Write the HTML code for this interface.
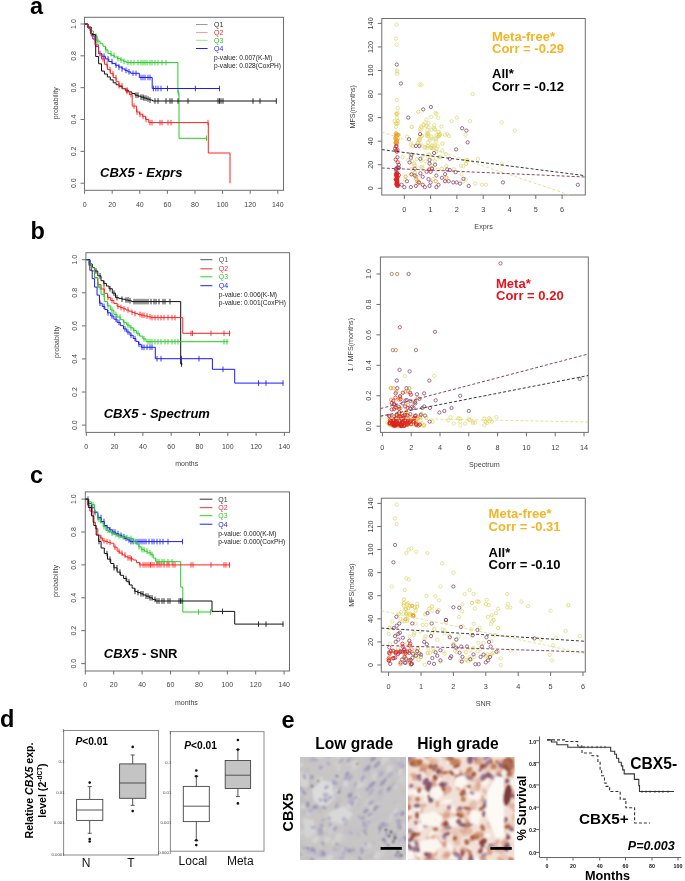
<!DOCTYPE html><html><head><meta charset="utf-8"><style>html,body{margin:0;padding:0;background:#fff;}body{width:685px;height:881px;overflow:hidden;font-family:"Liberation Sans",sans-serif;}svg{display:block;will-change:transform;}</style></head><body><svg width="685" height="881" viewBox="0 0 685 881" font-family='"Liberation Sans", sans-serif'>
<rect width="685" height="881" fill="#fff"/>
<g>
<text x="30" y="13.6" font-size="23.5" text-anchor="start" font-weight="bold" font-style="normal" fill="#000">a</text>
<text x="30.6" y="238.7" font-size="23.5" text-anchor="start" font-weight="bold" font-style="normal" fill="#000">b</text>
<text x="30" y="483.4" font-size="23.5" text-anchor="start" font-weight="bold" font-style="normal" fill="#000">c</text>
<text x="0" y="726.7" font-size="23.5" text-anchor="start" font-weight="bold" font-style="normal" fill="#000">d</text>
<text x="281.5" y="728.2" font-size="23.5" text-anchor="start" font-weight="bold" font-style="normal" fill="#000">e</text>
<rect x="84.5" y="17.3" width="199" height="173" stroke="#6e6e6e" fill="none" stroke-width="1"/>
<line x1="84.6" y1="190.3" x2="84.6" y2="193.8" stroke="#6e6e6e" stroke-width="1"/>
<text x="84.6" y="206.8" font-size="7" text-anchor="middle" font-weight="normal" font-style="normal" fill="#444">0</text>
<line x1="112.2" y1="190.3" x2="112.2" y2="193.8" stroke="#6e6e6e" stroke-width="1"/>
<text x="112.2" y="206.8" font-size="7" text-anchor="middle" font-weight="normal" font-style="normal" fill="#444">20</text>
<line x1="139.8" y1="190.3" x2="139.8" y2="193.8" stroke="#6e6e6e" stroke-width="1"/>
<text x="139.8" y="206.8" font-size="7" text-anchor="middle" font-weight="normal" font-style="normal" fill="#444">40</text>
<line x1="167.4" y1="190.3" x2="167.4" y2="193.8" stroke="#6e6e6e" stroke-width="1"/>
<text x="167.4" y="206.8" font-size="7" text-anchor="middle" font-weight="normal" font-style="normal" fill="#444">60</text>
<line x1="195" y1="190.3" x2="195" y2="193.8" stroke="#6e6e6e" stroke-width="1"/>
<text x="195" y="206.8" font-size="7" text-anchor="middle" font-weight="normal" font-style="normal" fill="#444">80</text>
<line x1="222.6" y1="190.3" x2="222.6" y2="193.8" stroke="#6e6e6e" stroke-width="1"/>
<text x="222.6" y="206.8" font-size="7" text-anchor="middle" font-weight="normal" font-style="normal" fill="#444">100</text>
<line x1="250.2" y1="190.3" x2="250.2" y2="193.8" stroke="#6e6e6e" stroke-width="1"/>
<text x="250.2" y="206.8" font-size="7" text-anchor="middle" font-weight="normal" font-style="normal" fill="#444">120</text>
<line x1="277.8" y1="190.3" x2="277.8" y2="193.8" stroke="#6e6e6e" stroke-width="1"/>
<text x="277.8" y="206.8" font-size="7" text-anchor="middle" font-weight="normal" font-style="normal" fill="#444">140</text>
<line x1="80.5" y1="183.2" x2="84.5" y2="183.2" stroke="#6e6e6e" stroke-width="1"/>
<text x="76" y="183.2" font-size="7" text-anchor="middle" font-weight="normal" font-style="normal" fill="#444" transform="rotate(-90 76 183.2)">0.0</text>
<line x1="80.5" y1="151.36" x2="84.5" y2="151.36" stroke="#6e6e6e" stroke-width="1"/>
<text x="76" y="151.36" font-size="7" text-anchor="middle" font-weight="normal" font-style="normal" fill="#444" transform="rotate(-90 76 151.36)">0.2</text>
<line x1="80.5" y1="119.52" x2="84.5" y2="119.52" stroke="#6e6e6e" stroke-width="1"/>
<text x="76" y="119.52" font-size="7" text-anchor="middle" font-weight="normal" font-style="normal" fill="#444" transform="rotate(-90 76 119.52)">0.4</text>
<line x1="80.5" y1="87.68" x2="84.5" y2="87.68" stroke="#6e6e6e" stroke-width="1"/>
<text x="76" y="87.68" font-size="7" text-anchor="middle" font-weight="normal" font-style="normal" fill="#444" transform="rotate(-90 76 87.68)">0.6</text>
<line x1="80.5" y1="55.84" x2="84.5" y2="55.84" stroke="#6e6e6e" stroke-width="1"/>
<text x="76" y="55.84" font-size="7" text-anchor="middle" font-weight="normal" font-style="normal" fill="#444" transform="rotate(-90 76 55.84)">0.8</text>
<line x1="80.5" y1="24" x2="84.5" y2="24" stroke="#6e6e6e" stroke-width="1"/>
<text x="76" y="24" font-size="7" text-anchor="middle" font-weight="normal" font-style="normal" fill="#444" transform="rotate(-90 76 24)">1.0</text>
<text x="58.4" y="103.3" font-size="7" text-anchor="middle" font-weight="normal" font-style="normal" fill="#444" transform="rotate(-90 58.4 103.3)">probability</text>
<path d="M84.6 24H87.3V27.5H90V31H93.55V36.1H97.1V41.2H100.05V43.75H103V46.3H105.5V49.95H108V53.6H111.2V55.3H114.4V57H117.6V58.7H120.5V60H123.4V61.3H126.3V62.6H177.9V92.7H179V138.3H207.1" stroke="#22cc22" stroke-width="1" fill="none"/>
<path d="M96 33.3v5.6M98 38.4v5.6M106 47.15v5.6M111 50.8v5.6M114 52.5v5.6M118 55.9v5.6M121 57.2v5.6M124 58.5v5.6M128 59.8v5.6M131 59.8v5.6M134 59.8v5.6M138 59.8v5.6M141 59.8v5.6M143 59.8v5.6M145 59.8v5.6M147 59.8v5.6M150 59.8v5.6M152 59.8v5.6M155 59.8v5.6M158 59.8v5.6M162 59.8v5.6M166 59.8v5.6M178.3 89.9v5.6M206.5 135.5v5.6" stroke="#22cc22" stroke-width="1" fill="none" stroke-opacity="0.85"/>
<path d="M84.6 24H88V28H90.4V33.5H92.8V39H95.7V46.3H98.6V53.6H102V56.27H105.4V58.93H108.8V61.6H112.1V63.43H115.4V65.25H118.7V67.08H122V68.9H124.9V70.37H127.8V71.83H130.7V73.3H139.3V77.5H152.2V88.5H220" stroke="#1a1aff" stroke-width="1" fill="none"/>
<path d="M95 36.2v5.6M100 50.8v5.6M104 53.47v5.6M108 56.13v5.6M112 58.8v5.6M116 62.45v5.6M119 64.28v5.6M122 66.1v5.6M126 67.57v5.6M129 69.03v5.6M133 70.5v5.6M136 70.5v5.6M141 74.7v5.6M143 74.7v5.6M145 74.7v5.6M148 74.7v5.6M150 74.7v5.6M153.4 85.7v5.6M155.8 85.7v5.6M158 85.7v5.6M161 85.7v5.6M167.5 85.7v5.6M195.4 85.7v5.6M219.5 85.7v5.6" stroke="#1a1aff" stroke-width="1" fill="none" stroke-opacity="0.85"/>
<path d="M84.6 24H88V27H91.3V34.6H95.7V56.5H98.6V63.8H101.5V71.1H104.42V74.02H107.35V76.95H110.28V79.88H113.2V82.8H116.13V84.73H119.07V86.67H122V88.6H125.28V90.25H128.55V91.9H131.82V93.55H135.1V95.2H138.02V96.17H140.93V97.13H143.85V98.1H146.77V99.07H149.68V100.03H152.6V101H276.7" stroke="#111111" stroke-width="1" fill="none"/>
<path d="M127 87.45v5.6M136 92.4v5.6M138 92.4v5.6M141 94.33v5.6M143 94.33v5.6M144 95.3v5.6M146 95.3v5.6M148 96.27v5.6M150 97.23v5.6M155 98.2v5.6M158 98.2v5.6M166 98.2v5.6M170 98.2v5.6M172 98.2v5.6M178 98.2v5.6M188 98.2v5.6M218 98.2v5.6M219.5 98.2v5.6M221 98.2v5.6M223 98.2v5.6M253 98.2v5.6M260 98.2v5.6M276.3 98.2v5.6" stroke="#111111" stroke-width="1" fill="none" stroke-opacity="0.85"/>
<path d="M84.6 24H88V28H91.3V36H94.95V44.8H98.6V53.6H101.53V58.93H104.47V64.27H107.4V69.6H110.3V73.62H113.2V77.65H116.1V81.67H119V85.7H122.43V88.63H125.87V91.57H129.3V94.5H132.2V106.1H136.6V112H139.5V114.2H142.4V116.4H145.55V119.5H148.7V122.6H208.3V153H230V183.3H230" stroke="#ff2020" stroke-width="1" fill="none"/>
<path d="M103 56.13v5.6M107 61.47v5.6M110 66.8v5.6M113 70.83v5.6M116 74.85v5.6M119 82.9v5.6M122 82.9v5.6M127 88.77v5.6M131 91.7v5.6M134 103.3v5.6M137 109.2v5.6M140 111.4v5.6M143 113.6v5.6M146 116.7v5.6M150 119.8v5.6M152 119.8v5.6M160 119.8v5.6M162 119.8v5.6M168 119.8v5.6M171 119.8v5.6M208 119.8v5.6" stroke="#ff2020" stroke-width="1" fill="none" stroke-opacity="0.85"/>
<line x1="196" y1="24.5" x2="207.6" y2="24.5" stroke="#9a9a9a" stroke-width="1"/>
<text x="214" y="27" font-size="7" text-anchor="start" font-weight="normal" font-style="normal" fill="#333">Q1</text>
<line x1="196" y1="32.5" x2="207.6" y2="32.5" stroke="#f0a0a0" stroke-width="1"/>
<text x="214" y="35" font-size="7" text-anchor="start" font-weight="normal" font-style="normal" fill="#e83030">Q2</text>
<line x1="196" y1="40.3" x2="207.6" y2="40.3" stroke="#a0e0a0" stroke-width="1"/>
<text x="214" y="42.8" font-size="7" text-anchor="start" font-weight="normal" font-style="normal" fill="#30c030">Q3</text>
<line x1="196" y1="48.5" x2="207.6" y2="48.5" stroke="#2020ff" stroke-width="1"/>
<text x="214" y="51" font-size="7" text-anchor="start" font-weight="normal" font-style="normal" fill="#2a2aee">Q4</text>
<text x="214" y="59.9" font-size="6.6" text-anchor="start" font-weight="normal" font-style="normal" fill="#222">p-value: 0.007(K-M)</text>
<text x="214" y="67.9" font-size="6.6" text-anchor="start" font-weight="normal" font-style="normal" fill="#222">p-value: 0.028(CoxPH)</text>
<text x="100" y="176.5" font-size="13" text-anchor="start" font-weight="bold" font-style="italic" fill="#000">CBX5 - Exprs</text>
<rect x="85.9" y="252.7" width="203.7" height="179.7" stroke="#6e6e6e" fill="none" stroke-width="1"/>
<line x1="86.3" y1="432.4" x2="86.3" y2="435.9" stroke="#6e6e6e" stroke-width="1"/>
<text x="86.3" y="449.1" font-size="7" text-anchor="middle" font-weight="normal" font-style="normal" fill="#444">0</text>
<line x1="114.6" y1="432.4" x2="114.6" y2="435.9" stroke="#6e6e6e" stroke-width="1"/>
<text x="114.6" y="449.1" font-size="7" text-anchor="middle" font-weight="normal" font-style="normal" fill="#444">20</text>
<line x1="142.9" y1="432.4" x2="142.9" y2="435.9" stroke="#6e6e6e" stroke-width="1"/>
<text x="142.9" y="449.1" font-size="7" text-anchor="middle" font-weight="normal" font-style="normal" fill="#444">40</text>
<line x1="171.2" y1="432.4" x2="171.2" y2="435.9" stroke="#6e6e6e" stroke-width="1"/>
<text x="171.2" y="449.1" font-size="7" text-anchor="middle" font-weight="normal" font-style="normal" fill="#444">60</text>
<line x1="199.5" y1="432.4" x2="199.5" y2="435.9" stroke="#6e6e6e" stroke-width="1"/>
<text x="199.5" y="449.1" font-size="7" text-anchor="middle" font-weight="normal" font-style="normal" fill="#444">80</text>
<line x1="227.8" y1="432.4" x2="227.8" y2="435.9" stroke="#6e6e6e" stroke-width="1"/>
<text x="227.8" y="449.1" font-size="7" text-anchor="middle" font-weight="normal" font-style="normal" fill="#444">100</text>
<line x1="256.1" y1="432.4" x2="256.1" y2="435.9" stroke="#6e6e6e" stroke-width="1"/>
<text x="256.1" y="449.1" font-size="7" text-anchor="middle" font-weight="normal" font-style="normal" fill="#444">120</text>
<line x1="284.4" y1="432.4" x2="284.4" y2="435.9" stroke="#6e6e6e" stroke-width="1"/>
<text x="284.4" y="449.1" font-size="7" text-anchor="middle" font-weight="normal" font-style="normal" fill="#444">140</text>
<line x1="81.9" y1="425.1" x2="85.9" y2="425.1" stroke="#6e6e6e" stroke-width="1"/>
<text x="76.8" y="425.1" font-size="7" text-anchor="middle" font-weight="normal" font-style="normal" fill="#444" transform="rotate(-90 76.8 425.1)">0.0</text>
<line x1="81.9" y1="392.02" x2="85.9" y2="392.02" stroke="#6e6e6e" stroke-width="1"/>
<text x="76.8" y="392.02" font-size="7" text-anchor="middle" font-weight="normal" font-style="normal" fill="#444" transform="rotate(-90 76.8 392.02)">0.2</text>
<line x1="81.9" y1="358.94" x2="85.9" y2="358.94" stroke="#6e6e6e" stroke-width="1"/>
<text x="76.8" y="358.94" font-size="7" text-anchor="middle" font-weight="normal" font-style="normal" fill="#444" transform="rotate(-90 76.8 358.94)">0.4</text>
<line x1="81.9" y1="325.86" x2="85.9" y2="325.86" stroke="#6e6e6e" stroke-width="1"/>
<text x="76.8" y="325.86" font-size="7" text-anchor="middle" font-weight="normal" font-style="normal" fill="#444" transform="rotate(-90 76.8 325.86)">0.6</text>
<line x1="81.9" y1="292.78" x2="85.9" y2="292.78" stroke="#6e6e6e" stroke-width="1"/>
<text x="76.8" y="292.78" font-size="7" text-anchor="middle" font-weight="normal" font-style="normal" fill="#444" transform="rotate(-90 76.8 292.78)">0.8</text>
<line x1="81.9" y1="259.7" x2="85.9" y2="259.7" stroke="#6e6e6e" stroke-width="1"/>
<text x="76.8" y="259.7" font-size="7" text-anchor="middle" font-weight="normal" font-style="normal" fill="#444" transform="rotate(-90 76.8 259.7)">1.0</text>
<text x="59" y="342" font-size="7" text-anchor="middle" font-weight="normal" font-style="normal" fill="#444" transform="rotate(-90 59 342)">probability</text>
<text x="186.75" y="466" font-size="7" text-anchor="middle" font-weight="normal" font-style="normal" fill="#444">months</text>
<path d="M86.3 259.7H90V264H92.3V267.5H94.6V271H97.8V275.85H101V280.7H103.7V283.37H106.4V286.03H109.1V288.7H112.3V293.15H115.5V297.6H118.72V298.4H121.94V299.2H125.16V300H128.38V300.8H131.6V301.6H180.7V364H182.5" stroke="#111111" stroke-width="1" fill="none"/>
<path d="M96 268.2v5.6M100 273.05v5.6M104 280.57v5.6M110 285.9v5.6M114 290.35v5.6M117 294.8v5.6M122 296.4v5.6M126 297.2v5.6M128 297.2v5.6M130 298v5.6M134 298.8v5.6M136 298.8v5.6M138 298.8v5.6M140 298.8v5.6M142 298.8v5.6M144 298.8v5.6M146 298.8v5.6M148 298.8v5.6M151 298.8v5.6M154 298.8v5.6M156 298.8v5.6M159 298.8v5.6M163 298.8v5.6M165 298.8v5.6M170 298.8v5.6M181.5 361.2v5.6" stroke="#111111" stroke-width="1" fill="none" stroke-opacity="0.85"/>
<path d="M86.3 259.7H88.85V265.35H91.4V271H94.6V277.85H97.8V284.7H101.03V289H104.27V293.3H107.5V297.6H110.7V300.53H113.9V303.47H117.1V306.4H120.05V307.6H123V308.8H125.95V310H128.9V311.2H131.85V312.4H134.8V313.6H138V314.4H141.2V315.2H144.4V316H147.6V316.8H150.8V317.6H182.8V333.3H230.4" stroke="#ff2020" stroke-width="1" fill="none"/>
<path d="M98 281.9v5.6M104 286.2v5.6M108 294.8v5.6M112 297.73v5.6M118 303.6v5.6M121 304.8v5.6M124 306v5.6M128 307.2v5.6M132 309.6v5.6M135 310.8v5.6M140 311.6v5.6M142 312.4v5.6M144 312.4v5.6M147 313.2v5.6M150 314v5.6M152 314.8v5.6M155 314.8v5.6M158 314.8v5.6M161 314.8v5.6M164 314.8v5.6M168 314.8v5.6M172 314.8v5.6M175 314.8v5.6M191 330.5v5.6M192.5 330.5v5.6M211 330.5v5.6M224 330.5v5.6M229.5 330.5v5.6" stroke="#ff2020" stroke-width="1" fill="none" stroke-opacity="0.85"/>
<path d="M86.3 259.7H88.85V263.75H91.4V267.8H94.6V277.45H97.8V287.1H101.05V294.35H104.3V301.6H107.5V305.87H110.7V310.13H113.9V314.4H117.1V317.07H120.3V319.73H123.5V322.4H126.73V325.1H129.97V327.8H133.2V330.5H136.4V333.3H139.6V336.1H142.8V338.9H146V341.7H228.3" stroke="#22cc22" stroke-width="1" fill="none"/>
<path d="M100 284.3v5.6M104 291.55v5.6M108 303.07v5.6M112 307.33v5.6M116 311.6v5.6M120 314.27v5.6M124 319.6v5.6M128 322.3v5.6M131 325v5.6M134 327.7v5.6M138 330.5v5.6M144 336.1v5.6M148 338.9v5.6M150 338.9v5.6M152 338.9v5.6M155 338.9v5.6M158 338.9v5.6M161 338.9v5.6M165 338.9v5.6M168 338.9v5.6M172 338.9v5.6M175 338.9v5.6M178 338.9v5.6M224 338.9v5.6M227 338.9v5.6" stroke="#22cc22" stroke-width="1" fill="none" stroke-opacity="0.85"/>
<path d="M86.3 259.7H89.8V270.3H92.2V278.7H94.6V287.1H97.05V295.15H99.5V303.2H102.17V306.4H104.83V309.6H107.5V312.8H110.7V316H113.9V319.2H117.1V322.4H120.3V325.65H123.5V328.9H126.73V332.1H129.97V335.3H133.2V338.5H135.87V341.43H138.53V344.37H141.2V347.3H155.3V358.7H212.4V369.3H234.7V383.1H283.4" stroke="#1a1aff" stroke-width="1" fill="none"/>
<path d="M100 300.4v5.6M104 303.6v5.6M108 310v5.6M112 313.2v5.6M116 316.4v5.6M119 319.6v5.6M125 326.1v5.6M128 329.3v5.6M131 332.5v5.6M135 335.7v5.6M139 341.57v5.6M142 344.5v5.6M144 344.5v5.6M147 344.5v5.6M150 344.5v5.6M152 344.5v5.6M157 355.9v5.6M161 355.9v5.6M181.5 355.9v5.6M199 355.9v5.6M223 366.5v5.6M258.5 380.3v5.6M266 380.3v5.6M283 380.3v5.6" stroke="#1a1aff" stroke-width="1" fill="none" stroke-opacity="0.85"/>
<line x1="200.4" y1="259.7" x2="212.4" y2="259.7" stroke="#555" stroke-width="1"/>
<text x="218.8" y="262.2" font-size="7" text-anchor="start" font-weight="normal" font-style="normal" fill="#555">Q1</text>
<line x1="200.4" y1="268.8" x2="212.4" y2="268.8" stroke="#ee3030" stroke-width="1"/>
<text x="218.8" y="271.3" font-size="7" text-anchor="start" font-weight="normal" font-style="normal" fill="#ee3030">Q2</text>
<line x1="200.4" y1="276.8" x2="212.4" y2="276.8" stroke="#30cc30" stroke-width="1"/>
<text x="218.8" y="279.3" font-size="7" text-anchor="start" font-weight="normal" font-style="normal" fill="#30cc30">Q3</text>
<line x1="200.4" y1="285.7" x2="212.4" y2="285.7" stroke="#2020ee" stroke-width="1"/>
<text x="218.8" y="288.2" font-size="7" text-anchor="start" font-weight="normal" font-style="normal" fill="#2020ee">Q4</text>
<text x="218.8" y="296.7" font-size="6.6" text-anchor="start" font-weight="normal" font-style="normal" fill="#222">p-value: 0.006(K-M)</text>
<text x="218.8" y="305.1" font-size="6.6" text-anchor="start" font-weight="normal" font-style="normal" fill="#222">p-value: 0.001(CoxPH)</text>
<text x="103.7" y="417.8" font-size="13" text-anchor="start" font-weight="bold" font-style="italic" fill="#000">CBX5 - Spectrum</text>
<rect x="85.3" y="491.9" width="204.2" height="179.1" stroke="#6e6e6e" fill="none" stroke-width="1"/>
<line x1="85.3" y1="671" x2="85.3" y2="674.5" stroke="#6e6e6e" stroke-width="1"/>
<text x="85.3" y="687" font-size="7" text-anchor="middle" font-weight="normal" font-style="normal" fill="#444">0</text>
<line x1="113.7" y1="671" x2="113.7" y2="674.5" stroke="#6e6e6e" stroke-width="1"/>
<text x="113.7" y="687" font-size="7" text-anchor="middle" font-weight="normal" font-style="normal" fill="#444">20</text>
<line x1="142.1" y1="671" x2="142.1" y2="674.5" stroke="#6e6e6e" stroke-width="1"/>
<text x="142.1" y="687" font-size="7" text-anchor="middle" font-weight="normal" font-style="normal" fill="#444">40</text>
<line x1="170.5" y1="671" x2="170.5" y2="674.5" stroke="#6e6e6e" stroke-width="1"/>
<text x="170.5" y="687" font-size="7" text-anchor="middle" font-weight="normal" font-style="normal" fill="#444">60</text>
<line x1="198.9" y1="671" x2="198.9" y2="674.5" stroke="#6e6e6e" stroke-width="1"/>
<text x="198.9" y="687" font-size="7" text-anchor="middle" font-weight="normal" font-style="normal" fill="#444">80</text>
<line x1="227.3" y1="671" x2="227.3" y2="674.5" stroke="#6e6e6e" stroke-width="1"/>
<text x="227.3" y="687" font-size="7" text-anchor="middle" font-weight="normal" font-style="normal" fill="#444">100</text>
<line x1="255.7" y1="671" x2="255.7" y2="674.5" stroke="#6e6e6e" stroke-width="1"/>
<text x="255.7" y="687" font-size="7" text-anchor="middle" font-weight="normal" font-style="normal" fill="#444">120</text>
<line x1="284.1" y1="671" x2="284.1" y2="674.5" stroke="#6e6e6e" stroke-width="1"/>
<text x="284.1" y="687" font-size="7" text-anchor="middle" font-weight="normal" font-style="normal" fill="#444">140</text>
<line x1="81.3" y1="663.6" x2="85.3" y2="663.6" stroke="#6e6e6e" stroke-width="1"/>
<text x="76" y="663.6" font-size="7" text-anchor="middle" font-weight="normal" font-style="normal" fill="#444" transform="rotate(-90 76 663.6)">0.0</text>
<line x1="81.3" y1="630.7" x2="85.3" y2="630.7" stroke="#6e6e6e" stroke-width="1"/>
<text x="76" y="630.7" font-size="7" text-anchor="middle" font-weight="normal" font-style="normal" fill="#444" transform="rotate(-90 76 630.7)">0.2</text>
<line x1="81.3" y1="597.8" x2="85.3" y2="597.8" stroke="#6e6e6e" stroke-width="1"/>
<text x="76" y="597.8" font-size="7" text-anchor="middle" font-weight="normal" font-style="normal" fill="#444" transform="rotate(-90 76 597.8)">0.4</text>
<line x1="81.3" y1="564.9" x2="85.3" y2="564.9" stroke="#6e6e6e" stroke-width="1"/>
<text x="76" y="564.9" font-size="7" text-anchor="middle" font-weight="normal" font-style="normal" fill="#444" transform="rotate(-90 76 564.9)">0.6</text>
<line x1="81.3" y1="532" x2="85.3" y2="532" stroke="#6e6e6e" stroke-width="1"/>
<text x="76" y="532" font-size="7" text-anchor="middle" font-weight="normal" font-style="normal" fill="#444" transform="rotate(-90 76 532)">0.8</text>
<line x1="81.3" y1="499.1" x2="85.3" y2="499.1" stroke="#6e6e6e" stroke-width="1"/>
<text x="76" y="499.1" font-size="7" text-anchor="middle" font-weight="normal" font-style="normal" fill="#444" transform="rotate(-90 76 499.1)">1.0</text>
<text x="58.4" y="581" font-size="7" text-anchor="middle" font-weight="normal" font-style="normal" fill="#444" transform="rotate(-90 58.4 581)">probability</text>
<text x="186.4" y="704.5" font-size="7" text-anchor="middle" font-weight="normal" font-style="normal" fill="#444">months</text>
<path d="M85.3 499.1H88.35V503.45H91.4V507.8H94.6V512.65H97.8V517.5H101.05V521.5H104.3V525.5H106.97V527.67H109.63V529.83H112.3V532H115.5V533.6H118.7V535.2H121.9V536.8H124.6V538.4H127.3V540H130V541.6H183" stroke="#1a1aff" stroke-width="1" fill="none"/>
<path d="M88 496.3v5.6M92 505v5.6M95 509.85v5.6M98 514.7v5.6M101 514.7v5.6M104 518.7v5.6M107 524.87v5.6M110 527.03v5.6M113 529.2v5.6M115 529.2v5.6M118 530.8v5.6M121 532.4v5.6M124 534v5.6M126 535.6v5.6M129 537.2v5.6M131 538.8v5.6M133 538.8v5.6M136 538.8v5.6M138 538.8v5.6M140 538.8v5.6M142 538.8v5.6M144 538.8v5.6M146 538.8v5.6M149 538.8v5.6M152 538.8v5.6M154 538.8v5.6M157 538.8v5.6M160 538.8v5.6M163 538.8v5.6M168 538.8v5.6M182.5 538.8v5.6" stroke="#1a1aff" stroke-width="1" fill="none" stroke-opacity="0.85"/>
<path d="M85.3 499.1H88.35V501.85H91.4V504.6H94.6V511.8H97.8V519H100.5V522.77H103.2V526.53H105.9V530.3H108.7V531.72H111.5V533.15H114.3V534.58H117.1V536H120.32V536.6H123.55V537.2H126.78V537.8H130V538.4H133.2V541.2H136.4V544H138.8V546.8H141.2V549.6H144.4V551.2H147.6V552.8H150.8V554.4H153.25V558.05H155.7V561.7H180.7V587.1H182.8V612H211.4" stroke="#22cc22" stroke-width="1" fill="none"/>
<path d="M89 499.05v5.6M93 501.8v5.6M99 516.2v5.6M104 523.73v5.6M108 527.5v5.6M112 530.35v5.6M116 531.78v5.6M119 533.2v5.6M123 533.8v5.6M127 535v5.6M131 535.6v5.6M134 538.4v5.6M139 544v5.6M142 546.8v5.6M144 546.8v5.6M147 548.4v5.6M150 550v5.6M152 551.6v5.6M157 558.9v5.6M159 558.9v5.6M162 558.9v5.6M164 558.9v5.6M168 558.9v5.6M172 558.9v5.6M198.5 609.2v5.6M210.5 609.2v5.6" stroke="#22cc22" stroke-width="1" fill="none" stroke-opacity="0.85"/>
<path d="M85.3 499.1H87.55V505.05H89.8V511H93V522.3H95.4V528.7H97.8V535.1H100.25V537.95H102.7V540.8H105.37V541.6H108.03V542.4H110.7V543.2H113.9V547.2H117.1V551.2H119.77V553.07H122.43V554.93H125.1V556.8H127.8V557.87H130.5V558.93H133.2V560H136.4V562.45H139.6V564.9H230.4" stroke="#ff2020" stroke-width="1" fill="none"/>
<path d="M92 508.2v5.6M101 535.15v5.6M104 538v5.6M107 538.8v5.6M110 539.6v5.6M115 544.4v5.6M119 548.4v5.6M122 550.27v5.6M125 552.13v5.6M128 555.07v5.6M130 555.07v5.6M131.5 556.13v5.6M140 562.1v5.6M143 562.1v5.6M145 562.1v5.6M147 562.1v5.6M149 562.1v5.6M150.5 562.1v5.6M152 562.1v5.6M154 562.1v5.6M157 562.1v5.6M159 562.1v5.6M161 562.1v5.6M164 562.1v5.6M167 562.1v5.6M169 562.1v5.6M173 562.1v5.6M175 562.1v5.6M191 562.1v5.6M193 562.1v5.6M211 562.1v5.6M224 562.1v5.6M226 562.1v5.6M229.5 562.1v5.6" stroke="#ff2020" stroke-width="1" fill="none" stroke-opacity="0.85"/>
<path d="M85.3 499.1H88.35V507.5H91.4V515.9H93.8V525.5H96.2V535.1H98.65V541.55H101.1V548H104.3V553.6H107.5V559.2H110.7V563.5H113.9V567.8H117.1V572.1H120.33V575.3H123.57V578.5H126.8V581.7H129.47V584.93H132.13V588.17H134.8V591.4H137.6V592.6H140.4V593.8H143.2V595H146V596.2H149.23V597.8H152.47V599.4H155.7V601H212V611.4H234.7V624.1H283.4" stroke="#111111" stroke-width="1" fill="none"/>
<path d="M99 538.75v5.6M107 550.8v5.6M110 556.4v5.6M114 565v5.6M117 565v5.6M120 569.3v5.6M126 575.7v5.6M129 578.9v5.6M135 588.6v5.6M138 589.8v5.6M141 591v5.6M143 591v5.6M146 593.4v5.6M148 593.4v5.6M150 595v5.6M152 595v5.6M155 596.6v5.6M157 598.2v5.6M159 598.2v5.6M162 598.2v5.6M164 598.2v5.6M168 598.2v5.6M170 598.2v5.6M179 598.2v5.6M180.5 598.2v5.6M182 598.2v5.6M222.5 608.6v5.6M258.5 621.3v5.6M266 621.3v5.6M283 621.3v5.6" stroke="#111111" stroke-width="1" fill="none" stroke-opacity="0.85"/>
<line x1="199.7" y1="499.2" x2="212.4" y2="499.2" stroke="#333" stroke-width="1"/>
<text x="218.2" y="501.7" font-size="7" text-anchor="start" font-weight="normal" font-style="normal" fill="#333">Q1</text>
<line x1="199.7" y1="507.7" x2="212.4" y2="507.7" stroke="#ee3030" stroke-width="1"/>
<text x="218.2" y="510.2" font-size="7" text-anchor="start" font-weight="normal" font-style="normal" fill="#ee3030">Q2</text>
<line x1="199.7" y1="515.7" x2="212.4" y2="515.7" stroke="#30cc30" stroke-width="1"/>
<text x="218.2" y="518.2" font-size="7" text-anchor="start" font-weight="normal" font-style="normal" fill="#30cc30">Q3</text>
<line x1="199.7" y1="524.2" x2="212.4" y2="524.2" stroke="#2020ee" stroke-width="1"/>
<text x="218.2" y="526.7" font-size="7" text-anchor="start" font-weight="normal" font-style="normal" fill="#2020ee">Q4</text>
<text x="218.2" y="536" font-size="6.6" text-anchor="start" font-weight="normal" font-style="normal" fill="#222">p-value: 0.000(K-M)</text>
<text x="218.2" y="544.1" font-size="6.6" text-anchor="start" font-weight="normal" font-style="normal" fill="#222">p-value: 0.000(CoxPH)</text>
<text x="103.8" y="657.5" font-size="13" font-weight="bold" fill="#000"><tspan font-style="italic">CBX5</tspan> - SNR</text>
<rect x="381.8" y="18.5" width="203.5" height="176.5" stroke="#6e6e6e" fill="none" stroke-width="1"/>
<line x1="404.3" y1="195" x2="404.3" y2="199" stroke="#6e6e6e" stroke-width="1"/>
<text x="404.3" y="212" font-size="7.3" text-anchor="middle" font-weight="normal" font-style="normal" fill="#444">0</text>
<line x1="430.6" y1="195" x2="430.6" y2="199" stroke="#6e6e6e" stroke-width="1"/>
<text x="430.6" y="212" font-size="7.3" text-anchor="middle" font-weight="normal" font-style="normal" fill="#444">1</text>
<line x1="456.9" y1="195" x2="456.9" y2="199" stroke="#6e6e6e" stroke-width="1"/>
<text x="456.9" y="212" font-size="7.3" text-anchor="middle" font-weight="normal" font-style="normal" fill="#444">2</text>
<line x1="483.2" y1="195" x2="483.2" y2="199" stroke="#6e6e6e" stroke-width="1"/>
<text x="483.2" y="212" font-size="7.3" text-anchor="middle" font-weight="normal" font-style="normal" fill="#444">3</text>
<line x1="509.5" y1="195" x2="509.5" y2="199" stroke="#6e6e6e" stroke-width="1"/>
<text x="509.5" y="212" font-size="7.3" text-anchor="middle" font-weight="normal" font-style="normal" fill="#444">4</text>
<line x1="535.8" y1="195" x2="535.8" y2="199" stroke="#6e6e6e" stroke-width="1"/>
<text x="535.8" y="212" font-size="7.3" text-anchor="middle" font-weight="normal" font-style="normal" fill="#444">5</text>
<line x1="562.1" y1="195" x2="562.1" y2="199" stroke="#6e6e6e" stroke-width="1"/>
<text x="562.1" y="212" font-size="7.3" text-anchor="middle" font-weight="normal" font-style="normal" fill="#444">6</text>
<line x1="377.8" y1="188.3" x2="381.8" y2="188.3" stroke="#6e6e6e" stroke-width="1"/>
<text x="372.6" y="188.3" font-size="7.3" text-anchor="middle" font-weight="normal" font-style="normal" fill="#444" transform="rotate(-90 372.6 188.3)">0</text>
<line x1="377.8" y1="164.74" x2="381.8" y2="164.74" stroke="#6e6e6e" stroke-width="1"/>
<text x="372.6" y="164.74" font-size="7.3" text-anchor="middle" font-weight="normal" font-style="normal" fill="#444" transform="rotate(-90 372.6 164.74)">20</text>
<line x1="377.8" y1="141.18" x2="381.8" y2="141.18" stroke="#6e6e6e" stroke-width="1"/>
<text x="372.6" y="141.18" font-size="7.3" text-anchor="middle" font-weight="normal" font-style="normal" fill="#444" transform="rotate(-90 372.6 141.18)">40</text>
<line x1="377.8" y1="117.62" x2="381.8" y2="117.62" stroke="#6e6e6e" stroke-width="1"/>
<text x="372.6" y="117.62" font-size="7.3" text-anchor="middle" font-weight="normal" font-style="normal" fill="#444" transform="rotate(-90 372.6 117.62)">60</text>
<line x1="377.8" y1="94.06" x2="381.8" y2="94.06" stroke="#6e6e6e" stroke-width="1"/>
<text x="372.6" y="94.06" font-size="7.3" text-anchor="middle" font-weight="normal" font-style="normal" fill="#444" transform="rotate(-90 372.6 94.06)">80</text>
<line x1="377.8" y1="70.5" x2="381.8" y2="70.5" stroke="#6e6e6e" stroke-width="1"/>
<text x="372.6" y="70.5" font-size="7.3" text-anchor="middle" font-weight="normal" font-style="normal" fill="#444" transform="rotate(-90 372.6 70.5)">100</text>
<line x1="377.8" y1="46.94" x2="381.8" y2="46.94" stroke="#6e6e6e" stroke-width="1"/>
<text x="372.6" y="46.94" font-size="7.3" text-anchor="middle" font-weight="normal" font-style="normal" fill="#444" transform="rotate(-90 372.6 46.94)">120</text>
<line x1="377.8" y1="23.38" x2="381.8" y2="23.38" stroke="#6e6e6e" stroke-width="1"/>
<text x="372.6" y="23.38" font-size="7.3" text-anchor="middle" font-weight="normal" font-style="normal" fill="#444" transform="rotate(-90 372.6 23.38)">140</text>
<text x="483.55" y="229" font-size="7.2" text-anchor="middle" font-weight="normal" font-style="normal" fill="#444">Exprs</text>
<text x="354.5" y="106.75" font-size="7.2" text-anchor="middle" font-weight="normal" font-style="normal" fill="#444" transform="rotate(-90 354.5 106.75)">MFS(months)</text>
<g clip-path="url(#clipA)">
<clipPath id="clipA"><rect x="381.8" y="18.5" width="203.5" height="176.5"/></clipPath>
<path d="M394.27 123.24a1.65 1.65 0 1 0 3.3 0a1.65 1.65 0 1 0 -3.3 0M395.95 112.81a1.65 1.65 0 1 0 3.3 0a1.65 1.65 0 1 0 -3.3 0M394.33 126.83a1.65 1.65 0 1 0 3.3 0a1.65 1.65 0 1 0 -3.3 0M394.48 124.18a1.65 1.65 0 1 0 3.3 0a1.65 1.65 0 1 0 -3.3 0M392.84 120.91a1.65 1.65 0 1 0 3.3 0a1.65 1.65 0 1 0 -3.3 0M395.24 117.61a1.65 1.65 0 1 0 3.3 0a1.65 1.65 0 1 0 -3.3 0M396.15 108.2a1.65 1.65 0 1 0 3.3 0a1.65 1.65 0 1 0 -3.3 0M395.19 99.95a1.65 1.65 0 1 0 3.3 0a1.65 1.65 0 1 0 -3.3 0M395.46 74.03a1.65 1.65 0 1 0 3.3 0a1.65 1.65 0 1 0 -3.3 0M395.38 71.68a1.65 1.65 0 1 0 3.3 0a1.65 1.65 0 1 0 -3.3 0M395.45 70.5a1.65 1.65 0 1 0 3.3 0a1.65 1.65 0 1 0 -3.3 0M395.02 44.58a1.65 1.65 0 1 0 3.3 0a1.65 1.65 0 1 0 -3.3 0M394.29 38.69a1.65 1.65 0 1 0 3.3 0a1.65 1.65 0 1 0 -3.3 0M394.78 24.56a1.65 1.65 0 1 0 3.3 0a1.65 1.65 0 1 0 -3.3 0M445.44 134.23a1.65 1.65 0 1 0 3.3 0a1.65 1.65 0 1 0 -3.3 0M429.6 117.09a1.65 1.65 0 1 0 3.3 0a1.65 1.65 0 1 0 -3.3 0M431.86 138.64a1.65 1.65 0 1 0 3.3 0a1.65 1.65 0 1 0 -3.3 0M431.35 158.43a1.65 1.65 0 1 0 3.3 0a1.65 1.65 0 1 0 -3.3 0M433.6 129.65a1.65 1.65 0 1 0 3.3 0a1.65 1.65 0 1 0 -3.3 0M405.36 136.58a1.65 1.65 0 1 0 3.3 0a1.65 1.65 0 1 0 -3.3 0M439.73 126.56a1.65 1.65 0 1 0 3.3 0a1.65 1.65 0 1 0 -3.3 0M429.71 136.73a1.65 1.65 0 1 0 3.3 0a1.65 1.65 0 1 0 -3.3 0M436.14 146.29a1.65 1.65 0 1 0 3.3 0a1.65 1.65 0 1 0 -3.3 0M417.49 140.67a1.65 1.65 0 1 0 3.3 0a1.65 1.65 0 1 0 -3.3 0M426.58 142.36a1.65 1.65 0 1 0 3.3 0a1.65 1.65 0 1 0 -3.3 0M423.76 161.22a1.65 1.65 0 1 0 3.3 0a1.65 1.65 0 1 0 -3.3 0M413.39 165.38a1.65 1.65 0 1 0 3.3 0a1.65 1.65 0 1 0 -3.3 0M420.34 127.59a1.65 1.65 0 1 0 3.3 0a1.65 1.65 0 1 0 -3.3 0M425.12 135.38a1.65 1.65 0 1 0 3.3 0a1.65 1.65 0 1 0 -3.3 0M444.3 154.15a1.65 1.65 0 1 0 3.3 0a1.65 1.65 0 1 0 -3.3 0M412.46 163.49a1.65 1.65 0 1 0 3.3 0a1.65 1.65 0 1 0 -3.3 0M424.88 119.65a1.65 1.65 0 1 0 3.3 0a1.65 1.65 0 1 0 -3.3 0M418.41 129.05a1.65 1.65 0 1 0 3.3 0a1.65 1.65 0 1 0 -3.3 0M434.31 139.47a1.65 1.65 0 1 0 3.3 0a1.65 1.65 0 1 0 -3.3 0M417.47 139.47a1.65 1.65 0 1 0 3.3 0a1.65 1.65 0 1 0 -3.3 0M425.56 135.73a1.65 1.65 0 1 0 3.3 0a1.65 1.65 0 1 0 -3.3 0M436.94 136.51a1.65 1.65 0 1 0 3.3 0a1.65 1.65 0 1 0 -3.3 0M433.33 145.28a1.65 1.65 0 1 0 3.3 0a1.65 1.65 0 1 0 -3.3 0M425.06 133.32a1.65 1.65 0 1 0 3.3 0a1.65 1.65 0 1 0 -3.3 0M432.59 146.41a1.65 1.65 0 1 0 3.3 0a1.65 1.65 0 1 0 -3.3 0M444.58 165.89a1.65 1.65 0 1 0 3.3 0a1.65 1.65 0 1 0 -3.3 0M424.95 125.7a1.65 1.65 0 1 0 3.3 0a1.65 1.65 0 1 0 -3.3 0M426.55 136.31a1.65 1.65 0 1 0 3.3 0a1.65 1.65 0 1 0 -3.3 0M427.49 154.22a1.65 1.65 0 1 0 3.3 0a1.65 1.65 0 1 0 -3.3 0M427.93 155.08a1.65 1.65 0 1 0 3.3 0a1.65 1.65 0 1 0 -3.3 0M424.48 126.42a1.65 1.65 0 1 0 3.3 0a1.65 1.65 0 1 0 -3.3 0M433.95 112.88a1.65 1.65 0 1 0 3.3 0a1.65 1.65 0 1 0 -3.3 0M422.88 147.84a1.65 1.65 0 1 0 3.3 0a1.65 1.65 0 1 0 -3.3 0M429.82 130.01a1.65 1.65 0 1 0 3.3 0a1.65 1.65 0 1 0 -3.3 0M409.28 144.64a1.65 1.65 0 1 0 3.3 0a1.65 1.65 0 1 0 -3.3 0M434.89 135.1a1.65 1.65 0 1 0 3.3 0a1.65 1.65 0 1 0 -3.3 0M426.57 132.75a1.65 1.65 0 1 0 3.3 0a1.65 1.65 0 1 0 -3.3 0M429.89 145.58a1.65 1.65 0 1 0 3.3 0a1.65 1.65 0 1 0 -3.3 0M420.82 145.63a1.65 1.65 0 1 0 3.3 0a1.65 1.65 0 1 0 -3.3 0M425.73 130.08a1.65 1.65 0 1 0 3.3 0a1.65 1.65 0 1 0 -3.3 0M437.28 136.04a1.65 1.65 0 1 0 3.3 0a1.65 1.65 0 1 0 -3.3 0M440.58 150.69a1.65 1.65 0 1 0 3.3 0a1.65 1.65 0 1 0 -3.3 0M436.22 136.47a1.65 1.65 0 1 0 3.3 0a1.65 1.65 0 1 0 -3.3 0M419.57 160.69a1.65 1.65 0 1 0 3.3 0a1.65 1.65 0 1 0 -3.3 0M464.02 134.79a1.65 1.65 0 1 0 3.3 0a1.65 1.65 0 1 0 -3.3 0M434.46 141.53a1.65 1.65 0 1 0 3.3 0a1.65 1.65 0 1 0 -3.3 0M433.46 161.35a1.65 1.65 0 1 0 3.3 0a1.65 1.65 0 1 0 -3.3 0M437.3 157.32a1.65 1.65 0 1 0 3.3 0a1.65 1.65 0 1 0 -3.3 0M443.37 134.89a1.65 1.65 0 1 0 3.3 0a1.65 1.65 0 1 0 -3.3 0M427.97 140.4a1.65 1.65 0 1 0 3.3 0a1.65 1.65 0 1 0 -3.3 0M417.15 139.33a1.65 1.65 0 1 0 3.3 0a1.65 1.65 0 1 0 -3.3 0M432.5 125.22a1.65 1.65 0 1 0 3.3 0a1.65 1.65 0 1 0 -3.3 0M431.9 147.81a1.65 1.65 0 1 0 3.3 0a1.65 1.65 0 1 0 -3.3 0M447.29 135.98a1.65 1.65 0 1 0 3.3 0a1.65 1.65 0 1 0 -3.3 0M426.97 127.42a1.65 1.65 0 1 0 3.3 0a1.65 1.65 0 1 0 -3.3 0M425.61 147.93a1.65 1.65 0 1 0 3.3 0a1.65 1.65 0 1 0 -3.3 0M438.88 157.08a1.65 1.65 0 1 0 3.3 0a1.65 1.65 0 1 0 -3.3 0M434.71 148.75a1.65 1.65 0 1 0 3.3 0a1.65 1.65 0 1 0 -3.3 0M410.58 161.55a1.65 1.65 0 1 0 3.3 0a1.65 1.65 0 1 0 -3.3 0M433.63 138.55a1.65 1.65 0 1 0 3.3 0a1.65 1.65 0 1 0 -3.3 0M434.6 113.9a1.65 1.65 0 1 0 3.3 0a1.65 1.65 0 1 0 -3.3 0M430.99 148.41a1.65 1.65 0 1 0 3.3 0a1.65 1.65 0 1 0 -3.3 0M409.91 155.65a1.65 1.65 0 1 0 3.3 0a1.65 1.65 0 1 0 -3.3 0M436.58 117.89a1.65 1.65 0 1 0 3.3 0a1.65 1.65 0 1 0 -3.3 0M426.99 123.01a1.65 1.65 0 1 0 3.3 0a1.65 1.65 0 1 0 -3.3 0M419.58 126.64a1.65 1.65 0 1 0 3.3 0a1.65 1.65 0 1 0 -3.3 0M418.4 139.92a1.65 1.65 0 1 0 3.3 0a1.65 1.65 0 1 0 -3.3 0M418.8 130.48a1.65 1.65 0 1 0 3.3 0a1.65 1.65 0 1 0 -3.3 0M432.87 129.06a1.65 1.65 0 1 0 3.3 0a1.65 1.65 0 1 0 -3.3 0M423.85 147.1a1.65 1.65 0 1 0 3.3 0a1.65 1.65 0 1 0 -3.3 0M421.11 155.67a1.65 1.65 0 1 0 3.3 0a1.65 1.65 0 1 0 -3.3 0M423.73 122.6a1.65 1.65 0 1 0 3.3 0a1.65 1.65 0 1 0 -3.3 0M428.94 138.51a1.65 1.65 0 1 0 3.3 0a1.65 1.65 0 1 0 -3.3 0M401.06 157.07a1.65 1.65 0 1 0 3.3 0a1.65 1.65 0 1 0 -3.3 0M418.09 144.58a1.65 1.65 0 1 0 3.3 0a1.65 1.65 0 1 0 -3.3 0M430.81 145.37a1.65 1.65 0 1 0 3.3 0a1.65 1.65 0 1 0 -3.3 0M432.15 127.6a1.65 1.65 0 1 0 3.3 0a1.65 1.65 0 1 0 -3.3 0M426.3 156.45a1.65 1.65 0 1 0 3.3 0a1.65 1.65 0 1 0 -3.3 0M415.07 159.07a1.65 1.65 0 1 0 3.3 0a1.65 1.65 0 1 0 -3.3 0M461.36 181.61a1.65 1.65 0 1 0 3.3 0a1.65 1.65 0 1 0 -3.3 0M406.35 160.33a1.65 1.65 0 1 0 3.3 0a1.65 1.65 0 1 0 -3.3 0M435.9 169.75a1.65 1.65 0 1 0 3.3 0a1.65 1.65 0 1 0 -3.3 0M420.69 168.19a1.65 1.65 0 1 0 3.3 0a1.65 1.65 0 1 0 -3.3 0M420.55 166.53a1.65 1.65 0 1 0 3.3 0a1.65 1.65 0 1 0 -3.3 0M403.53 179.31a1.65 1.65 0 1 0 3.3 0a1.65 1.65 0 1 0 -3.3 0M412.53 165.5a1.65 1.65 0 1 0 3.3 0a1.65 1.65 0 1 0 -3.3 0M459.3 165.67a1.65 1.65 0 1 0 3.3 0a1.65 1.65 0 1 0 -3.3 0M465.06 160.35a1.65 1.65 0 1 0 3.3 0a1.65 1.65 0 1 0 -3.3 0M459.81 174.31a1.65 1.65 0 1 0 3.3 0a1.65 1.65 0 1 0 -3.3 0M464.08 179.34a1.65 1.65 0 1 0 3.3 0a1.65 1.65 0 1 0 -3.3 0M461.81 166.36a1.65 1.65 0 1 0 3.3 0a1.65 1.65 0 1 0 -3.3 0M409.91 169.03a1.65 1.65 0 1 0 3.3 0a1.65 1.65 0 1 0 -3.3 0M415.5 184.53a1.65 1.65 0 1 0 3.3 0a1.65 1.65 0 1 0 -3.3 0M431.4 178.84a1.65 1.65 0 1 0 3.3 0a1.65 1.65 0 1 0 -3.3 0M429.13 164.87a1.65 1.65 0 1 0 3.3 0a1.65 1.65 0 1 0 -3.3 0M452.16 169.01a1.65 1.65 0 1 0 3.3 0a1.65 1.65 0 1 0 -3.3 0M419.79 167.38a1.65 1.65 0 1 0 3.3 0a1.65 1.65 0 1 0 -3.3 0M417.9 84.64a1.65 1.65 0 1 0 3.3 0a1.65 1.65 0 1 0 -3.3 0M419.75 84.64a1.65 1.65 0 1 0 3.3 0a1.65 1.65 0 1 0 -3.3 0M471.03 94.06a1.65 1.65 0 1 0 3.3 0a1.65 1.65 0 1 0 -3.3 0M499.96 122.33a1.65 1.65 0 1 0 3.3 0a1.65 1.65 0 1 0 -3.3 0M513.11 130.58a1.65 1.65 0 1 0 3.3 0a1.65 1.65 0 1 0 -3.3 0M480.24 184.77a1.65 1.65 0 1 0 3.3 0a1.65 1.65 0 1 0 -3.3 0M473.66 183.59a1.65 1.65 0 1 0 3.3 0a1.65 1.65 0 1 0 -3.3 0M499.96 163.56a1.65 1.65 0 1 0 3.3 0a1.65 1.65 0 1 0 -3.3 0M484.18 184.77a1.65 1.65 0 1 0 3.3 0a1.65 1.65 0 1 0 -3.3 0M476.29 158.85a1.65 1.65 0 1 0 3.3 0a1.65 1.65 0 1 0 -3.3 0M468.4 121.15a1.65 1.65 0 1 0 3.3 0a1.65 1.65 0 1 0 -3.3 0M449.99 121.15a1.65 1.65 0 1 0 3.3 0a1.65 1.65 0 1 0 -3.3 0M455.25 117.62a1.65 1.65 0 1 0 3.3 0a1.65 1.65 0 1 0 -3.3 0" stroke="#dedd84" stroke-width="0.8" fill="none"/>
<path d="M394.31 143.33a1.65 1.65 0 1 0 3.3 0a1.65 1.65 0 1 0 -3.3 0M397.04 134.85a1.65 1.65 0 1 0 3.3 0a1.65 1.65 0 1 0 -3.3 0M394.95 134.19a1.65 1.65 0 1 0 3.3 0a1.65 1.65 0 1 0 -3.3 0M395.07 136.3a1.65 1.65 0 1 0 3.3 0a1.65 1.65 0 1 0 -3.3 0M396.14 121.07a1.65 1.65 0 1 0 3.3 0a1.65 1.65 0 1 0 -3.3 0M395.33 114.21a1.65 1.65 0 1 0 3.3 0a1.65 1.65 0 1 0 -3.3 0M394.62 113.62a1.65 1.65 0 1 0 3.3 0a1.65 1.65 0 1 0 -3.3 0M395.95 123.46a1.65 1.65 0 1 0 3.3 0a1.65 1.65 0 1 0 -3.3 0M418.96 136.58a1.65 1.65 0 1 0 3.3 0a1.65 1.65 0 1 0 -3.3 0M416.6 111.77a1.65 1.65 0 1 0 3.3 0a1.65 1.65 0 1 0 -3.3 0M410.08 126.95a1.65 1.65 0 1 0 3.3 0a1.65 1.65 0 1 0 -3.3 0M426.2 145.98a1.65 1.65 0 1 0 3.3 0a1.65 1.65 0 1 0 -3.3 0M438.02 134a1.65 1.65 0 1 0 3.3 0a1.65 1.65 0 1 0 -3.3 0M440.75 143.61a1.65 1.65 0 1 0 3.3 0a1.65 1.65 0 1 0 -3.3 0M434.65 151.44a1.65 1.65 0 1 0 3.3 0a1.65 1.65 0 1 0 -3.3 0M416.23 142.55a1.65 1.65 0 1 0 3.3 0a1.65 1.65 0 1 0 -3.3 0M410.75 145.71a1.65 1.65 0 1 0 3.3 0a1.65 1.65 0 1 0 -3.3 0M436.91 131.96a1.65 1.65 0 1 0 3.3 0a1.65 1.65 0 1 0 -3.3 0M437.67 135.23a1.65 1.65 0 1 0 3.3 0a1.65 1.65 0 1 0 -3.3 0M426.59 134.09a1.65 1.65 0 1 0 3.3 0a1.65 1.65 0 1 0 -3.3 0M420.22 135.96a1.65 1.65 0 1 0 3.3 0a1.65 1.65 0 1 0 -3.3 0M429.57 147.88a1.65 1.65 0 1 0 3.3 0a1.65 1.65 0 1 0 -3.3 0M421.89 124.75a1.65 1.65 0 1 0 3.3 0a1.65 1.65 0 1 0 -3.3 0M413.33 172.52a1.65 1.65 0 1 0 3.3 0a1.65 1.65 0 1 0 -3.3 0M464.43 163.82a1.65 1.65 0 1 0 3.3 0a1.65 1.65 0 1 0 -3.3 0M410.5 173.95a1.65 1.65 0 1 0 3.3 0a1.65 1.65 0 1 0 -3.3 0M465.62 160.13a1.65 1.65 0 1 0 3.3 0a1.65 1.65 0 1 0 -3.3 0M440 168.79a1.65 1.65 0 1 0 3.3 0a1.65 1.65 0 1 0 -3.3 0" stroke="#e4cf48" stroke-width="0.8" fill="none"/>
<path d="M394.75 141.88a1.65 1.65 0 1 0 3.3 0a1.65 1.65 0 1 0 -3.3 0M394.57 143.29a1.65 1.65 0 1 0 3.3 0a1.65 1.65 0 1 0 -3.3 0M393.61 137.86a1.65 1.65 0 1 0 3.3 0a1.65 1.65 0 1 0 -3.3 0M394.09 142.65a1.65 1.65 0 1 0 3.3 0a1.65 1.65 0 1 0 -3.3 0M394.12 139.39a1.65 1.65 0 1 0 3.3 0a1.65 1.65 0 1 0 -3.3 0M395.97 138.62a1.65 1.65 0 1 0 3.3 0a1.65 1.65 0 1 0 -3.3 0M394.34 133.36a1.65 1.65 0 1 0 3.3 0a1.65 1.65 0 1 0 -3.3 0M394.62 136.67a1.65 1.65 0 1 0 3.3 0a1.65 1.65 0 1 0 -3.3 0M394.62 142.59a1.65 1.65 0 1 0 3.3 0a1.65 1.65 0 1 0 -3.3 0M396.21 134.96a1.65 1.65 0 1 0 3.3 0a1.65 1.65 0 1 0 -3.3 0M394.97 134.88a1.65 1.65 0 1 0 3.3 0a1.65 1.65 0 1 0 -3.3 0M393.99 142.55a1.65 1.65 0 1 0 3.3 0a1.65 1.65 0 1 0 -3.3 0M395.43 143.19a1.65 1.65 0 1 0 3.3 0a1.65 1.65 0 1 0 -3.3 0M394.61 135.31a1.65 1.65 0 1 0 3.3 0a1.65 1.65 0 1 0 -3.3 0M395.02 139.99a1.65 1.65 0 1 0 3.3 0a1.65 1.65 0 1 0 -3.3 0M395.11 141.15a1.65 1.65 0 1 0 3.3 0a1.65 1.65 0 1 0 -3.3 0M417.7 182.86a1.65 1.65 0 1 0 3.3 0a1.65 1.65 0 1 0 -3.3 0M414.63 179.2a1.65 1.65 0 1 0 3.3 0a1.65 1.65 0 1 0 -3.3 0M430.27 168.27a1.65 1.65 0 1 0 3.3 0a1.65 1.65 0 1 0 -3.3 0M414.49 176.52a1.65 1.65 0 1 0 3.3 0a1.65 1.65 0 1 0 -3.3 0M415.8 181.23a1.65 1.65 0 1 0 3.3 0a1.65 1.65 0 1 0 -3.3 0M403.97 176.52a1.65 1.65 0 1 0 3.3 0a1.65 1.65 0 1 0 -3.3 0M444.73 177.7a1.65 1.65 0 1 0 3.3 0a1.65 1.65 0 1 0 -3.3 0M434.21 181.23a1.65 1.65 0 1 0 3.3 0a1.65 1.65 0 1 0 -3.3 0" stroke="#ec9c24" stroke-width="0.8" fill="none"/>
<path d="M395.67 173.22a1.65 1.65 0 1 0 3.3 0a1.65 1.65 0 1 0 -3.3 0M395.53 182a1.65 1.65 0 1 0 3.3 0a1.65 1.65 0 1 0 -3.3 0M395.66 184.64a1.65 1.65 0 1 0 3.3 0a1.65 1.65 0 1 0 -3.3 0M394.75 168.79a1.65 1.65 0 1 0 3.3 0a1.65 1.65 0 1 0 -3.3 0M396.45 167.69a1.65 1.65 0 1 0 3.3 0a1.65 1.65 0 1 0 -3.3 0M395.77 157.26a1.65 1.65 0 1 0 3.3 0a1.65 1.65 0 1 0 -3.3 0M397.15 164.86a1.65 1.65 0 1 0 3.3 0a1.65 1.65 0 1 0 -3.3 0M397.31 167.88a1.65 1.65 0 1 0 3.3 0a1.65 1.65 0 1 0 -3.3 0M394.39 168.91a1.65 1.65 0 1 0 3.3 0a1.65 1.65 0 1 0 -3.3 0M394.59 170.67a1.65 1.65 0 1 0 3.3 0a1.65 1.65 0 1 0 -3.3 0M394.58 150.4a1.65 1.65 0 1 0 3.3 0a1.65 1.65 0 1 0 -3.3 0M394.81 146.03a1.65 1.65 0 1 0 3.3 0a1.65 1.65 0 1 0 -3.3 0M395.12 64.61a1.65 1.65 0 1 0 3.3 0a1.65 1.65 0 1 0 -3.3 0M421.59 109.37a1.65 1.65 0 1 0 3.3 0a1.65 1.65 0 1 0 -3.3 0M429.21 107.02a1.65 1.65 0 1 0 3.3 0a1.65 1.65 0 1 0 -3.3 0M418.43 134.11a1.65 1.65 0 1 0 3.3 0a1.65 1.65 0 1 0 -3.3 0M407.38 139.18a1.65 1.65 0 1 0 3.3 0a1.65 1.65 0 1 0 -3.3 0M414.22 146.01a1.65 1.65 0 1 0 3.3 0a1.65 1.65 0 1 0 -3.3 0M417.64 146.01a1.65 1.65 0 1 0 3.3 0a1.65 1.65 0 1 0 -3.3 0M432.37 152.96a1.65 1.65 0 1 0 3.3 0a1.65 1.65 0 1 0 -3.3 0M454.46 149.43a1.65 1.65 0 1 0 3.3 0a1.65 1.65 0 1 0 -3.3 0M464.72 130.58a1.65 1.65 0 1 0 3.3 0a1.65 1.65 0 1 0 -3.3 0M466.03 142.36a1.65 1.65 0 1 0 3.3 0a1.65 1.65 0 1 0 -3.3 0M409.75 154.61a1.65 1.65 0 1 0 3.3 0a1.65 1.65 0 1 0 -3.3 0M407.91 162.38a1.65 1.65 0 1 0 3.3 0a1.65 1.65 0 1 0 -3.3 0M409.23 157.67a1.65 1.65 0 1 0 3.3 0a1.65 1.65 0 1 0 -3.3 0M418.69 158.85a1.65 1.65 0 1 0 3.3 0a1.65 1.65 0 1 0 -3.3 0M427.9 160.03a1.65 1.65 0 1 0 3.3 0a1.65 1.65 0 1 0 -3.3 0M427.9 163.56a1.65 1.65 0 1 0 3.3 0a1.65 1.65 0 1 0 -3.3 0M448.15 158.85a1.65 1.65 0 1 0 3.3 0a1.65 1.65 0 1 0 -3.3 0M433.42 164.74a1.65 1.65 0 1 0 3.3 0a1.65 1.65 0 1 0 -3.3 0M413.17 168.75a1.65 1.65 0 1 0 3.3 0a1.65 1.65 0 1 0 -3.3 0M430.27 168.75a1.65 1.65 0 1 0 3.3 0a1.65 1.65 0 1 0 -3.3 0M445.52 169.45a1.65 1.65 0 1 0 3.3 0a1.65 1.65 0 1 0 -3.3 0M448.15 170.04a1.65 1.65 0 1 0 3.3 0a1.65 1.65 0 1 0 -3.3 0M453.94 172.16a1.65 1.65 0 1 0 3.3 0a1.65 1.65 0 1 0 -3.3 0M409.75 174.4a1.65 1.65 0 1 0 3.3 0a1.65 1.65 0 1 0 -3.3 0M413.17 175.58a1.65 1.65 0 1 0 3.3 0a1.65 1.65 0 1 0 -3.3 0M418.69 173.34a1.65 1.65 0 1 0 3.3 0a1.65 1.65 0 1 0 -3.3 0M421.06 176.76a1.65 1.65 0 1 0 3.3 0a1.65 1.65 0 1 0 -3.3 0M426.85 179.11a1.65 1.65 0 1 0 3.3 0a1.65 1.65 0 1 0 -3.3 0M428.95 182.41a1.65 1.65 0 1 0 3.3 0a1.65 1.65 0 1 0 -3.3 0M434.74 175.58a1.65 1.65 0 1 0 3.3 0a1.65 1.65 0 1 0 -3.3 0M440.26 177.82a1.65 1.65 0 1 0 3.3 0a1.65 1.65 0 1 0 -3.3 0M447.1 181.23a1.65 1.65 0 1 0 3.3 0a1.65 1.65 0 1 0 -3.3 0M451.57 182.41a1.65 1.65 0 1 0 3.3 0a1.65 1.65 0 1 0 -3.3 0M454.99 182.41a1.65 1.65 0 1 0 3.3 0a1.65 1.65 0 1 0 -3.3 0M458.41 183.59a1.65 1.65 0 1 0 3.3 0a1.65 1.65 0 1 0 -3.3 0M402.65 187.12a1.65 1.65 0 1 0 3.3 0a1.65 1.65 0 1 0 -3.3 0M409.23 187.12a1.65 1.65 0 1 0 3.3 0a1.65 1.65 0 1 0 -3.3 0M414.22 185.94a1.65 1.65 0 1 0 3.3 0a1.65 1.65 0 1 0 -3.3 0M423.16 187.12a1.65 1.65 0 1 0 3.3 0a1.65 1.65 0 1 0 -3.3 0M427.9 185.94a1.65 1.65 0 1 0 3.3 0a1.65 1.65 0 1 0 -3.3 0M434.74 187.12a1.65 1.65 0 1 0 3.3 0a1.65 1.65 0 1 0 -3.3 0M467.09 185.94a1.65 1.65 0 1 0 3.3 0a1.65 1.65 0 1 0 -3.3 0M400.02 184.77a1.65 1.65 0 1 0 3.3 0a1.65 1.65 0 1 0 -3.3 0M405.28 181.23a1.65 1.65 0 1 0 3.3 0a1.65 1.65 0 1 0 -3.3 0M417.12 182.41a1.65 1.65 0 1 0 3.3 0a1.65 1.65 0 1 0 -3.3 0M425.01 171.81a1.65 1.65 0 1 0 3.3 0a1.65 1.65 0 1 0 -3.3 0M436.84 184.77a1.65 1.65 0 1 0 3.3 0a1.65 1.65 0 1 0 -3.3 0M443.42 174.16a1.65 1.65 0 1 0 3.3 0a1.65 1.65 0 1 0 -3.3 0M461.83 178.88a1.65 1.65 0 1 0 3.3 0a1.65 1.65 0 1 0 -3.3 0M399.23 83.46a1.65 1.65 0 1 0 3.3 0a1.65 1.65 0 1 0 -3.3 0M460.51 128.22a1.65 1.65 0 1 0 3.3 0a1.65 1.65 0 1 0 -3.3 0M406.6 117.62a1.65 1.65 0 1 0 3.3 0a1.65 1.65 0 1 0 -3.3 0M501.28 182.41a1.65 1.65 0 1 0 3.3 0a1.65 1.65 0 1 0 -3.3 0M576.23 184.77a1.65 1.65 0 1 0 3.3 0a1.65 1.65 0 1 0 -3.3 0" stroke="#8a4a70" stroke-width="0.8" fill="none"/>
<path d="M394.22 173.97a1.65 1.65 0 1 0 3.3 0a1.65 1.65 0 1 0 -3.3 0M395.27 179.36a1.65 1.65 0 1 0 3.3 0a1.65 1.65 0 1 0 -3.3 0M395.34 177.78a1.65 1.65 0 1 0 3.3 0a1.65 1.65 0 1 0 -3.3 0M395.75 184.72a1.65 1.65 0 1 0 3.3 0a1.65 1.65 0 1 0 -3.3 0M396.03 176.96a1.65 1.65 0 1 0 3.3 0a1.65 1.65 0 1 0 -3.3 0M394.51 183.9a1.65 1.65 0 1 0 3.3 0a1.65 1.65 0 1 0 -3.3 0M394.27 179.1a1.65 1.65 0 1 0 3.3 0a1.65 1.65 0 1 0 -3.3 0M395.2 185.55a1.65 1.65 0 1 0 3.3 0a1.65 1.65 0 1 0 -3.3 0M395.48 180.24a1.65 1.65 0 1 0 3.3 0a1.65 1.65 0 1 0 -3.3 0M394.09 179.47a1.65 1.65 0 1 0 3.3 0a1.65 1.65 0 1 0 -3.3 0M394.91 180.02a1.65 1.65 0 1 0 3.3 0a1.65 1.65 0 1 0 -3.3 0M397.19 175.06a1.65 1.65 0 1 0 3.3 0a1.65 1.65 0 1 0 -3.3 0M394.99 181.86a1.65 1.65 0 1 0 3.3 0a1.65 1.65 0 1 0 -3.3 0M394.96 176.01a1.65 1.65 0 1 0 3.3 0a1.65 1.65 0 1 0 -3.3 0M395.27 174.97a1.65 1.65 0 1 0 3.3 0a1.65 1.65 0 1 0 -3.3 0M396.25 185.94a1.65 1.65 0 1 0 3.3 0a1.65 1.65 0 1 0 -3.3 0M394.69 174.15a1.65 1.65 0 1 0 3.3 0a1.65 1.65 0 1 0 -3.3 0M395.68 185a1.65 1.65 0 1 0 3.3 0a1.65 1.65 0 1 0 -3.3 0M394.94 175.86a1.65 1.65 0 1 0 3.3 0a1.65 1.65 0 1 0 -3.3 0M395.53 173.45a1.65 1.65 0 1 0 3.3 0a1.65 1.65 0 1 0 -3.3 0M395.33 184.42a1.65 1.65 0 1 0 3.3 0a1.65 1.65 0 1 0 -3.3 0M395.21 175.62a1.65 1.65 0 1 0 3.3 0a1.65 1.65 0 1 0 -3.3 0M395.16 178.7a1.65 1.65 0 1 0 3.3 0a1.65 1.65 0 1 0 -3.3 0M395.41 184.25a1.65 1.65 0 1 0 3.3 0a1.65 1.65 0 1 0 -3.3 0M396.02 184.43a1.65 1.65 0 1 0 3.3 0a1.65 1.65 0 1 0 -3.3 0M395.14 173.36a1.65 1.65 0 1 0 3.3 0a1.65 1.65 0 1 0 -3.3 0M395.18 174.87a1.65 1.65 0 1 0 3.3 0a1.65 1.65 0 1 0 -3.3 0M395.14 175.93a1.65 1.65 0 1 0 3.3 0a1.65 1.65 0 1 0 -3.3 0M395.52 182.1a1.65 1.65 0 1 0 3.3 0a1.65 1.65 0 1 0 -3.3 0M395.76 182.8a1.65 1.65 0 1 0 3.3 0a1.65 1.65 0 1 0 -3.3 0M395.49 181.13a1.65 1.65 0 1 0 3.3 0a1.65 1.65 0 1 0 -3.3 0M396.05 162.33a1.65 1.65 0 1 0 3.3 0a1.65 1.65 0 1 0 -3.3 0M394.1 159.61a1.65 1.65 0 1 0 3.3 0a1.65 1.65 0 1 0 -3.3 0M395.59 167.57a1.65 1.65 0 1 0 3.3 0a1.65 1.65 0 1 0 -3.3 0M393.35 148.62a1.65 1.65 0 1 0 3.3 0a1.65 1.65 0 1 0 -3.3 0M394.37 146.48a1.65 1.65 0 1 0 3.3 0a1.65 1.65 0 1 0 -3.3 0M395.75 149.81a1.65 1.65 0 1 0 3.3 0a1.65 1.65 0 1 0 -3.3 0M395.1 151.71a1.65 1.65 0 1 0 3.3 0a1.65 1.65 0 1 0 -3.3 0M427.64 169.45a1.65 1.65 0 1 0 3.3 0a1.65 1.65 0 1 0 -3.3 0M428.95 171.81a1.65 1.65 0 1 0 3.3 0a1.65 1.65 0 1 0 -3.3 0M443.42 181.23a1.65 1.65 0 1 0 3.3 0a1.65 1.65 0 1 0 -3.3 0M421.06 184.77a1.65 1.65 0 1 0 3.3 0a1.65 1.65 0 1 0 -3.3 0" stroke="#de2222" stroke-width="0.8" fill="none"/>
<line x1="381.8" y1="132" x2="570" y2="195" stroke="#e0dc8a" stroke-width="0.9" stroke-dasharray="3 2" stroke-opacity="1"/>
<line x1="381.8" y1="168" x2="585.3" y2="177" stroke="#7a3050" stroke-width="0.9" stroke-dasharray="3 2" stroke-opacity="1"/>
<line x1="381.8" y1="149.6" x2="585.3" y2="175.7" stroke="#222" stroke-width="0.9" stroke-dasharray="3 2" stroke-opacity="1"/>
</g>
<text transform="matrix(1.06 0 0 1 492 41)" font-size="12.3" font-weight="bold" fill="#f2b526">Meta-free*</text>
<text transform="matrix(1.06 0 0 1 492 53.3)" font-size="12.3" font-weight="bold" fill="#f2b526">Corr = -0.29</text>
<text transform="matrix(1.06 0 0 1 492 78.4)" font-size="12.3" font-weight="bold" fill="#000">All*</text>
<text transform="matrix(1.06 0 0 1 492 90.9)" font-size="12.3" font-weight="bold" fill="#000">Corr = -0.12</text>
<rect x="380.4" y="257" width="207.9" height="175.4" stroke="#6e6e6e" fill="none" stroke-width="1"/>
<line x1="382.4" y1="432.4" x2="382.4" y2="436.4" stroke="#6e6e6e" stroke-width="1"/>
<text x="382.4" y="450" font-size="7.3" text-anchor="middle" font-weight="normal" font-style="normal" fill="#444">0</text>
<line x1="411.2" y1="432.4" x2="411.2" y2="436.4" stroke="#6e6e6e" stroke-width="1"/>
<text x="411.2" y="450" font-size="7.3" text-anchor="middle" font-weight="normal" font-style="normal" fill="#444">2</text>
<line x1="440" y1="432.4" x2="440" y2="436.4" stroke="#6e6e6e" stroke-width="1"/>
<text x="440" y="450" font-size="7.3" text-anchor="middle" font-weight="normal" font-style="normal" fill="#444">4</text>
<line x1="468.8" y1="432.4" x2="468.8" y2="436.4" stroke="#6e6e6e" stroke-width="1"/>
<text x="468.8" y="450" font-size="7.3" text-anchor="middle" font-weight="normal" font-style="normal" fill="#444">6</text>
<line x1="497.6" y1="432.4" x2="497.6" y2="436.4" stroke="#6e6e6e" stroke-width="1"/>
<text x="497.6" y="450" font-size="7.3" text-anchor="middle" font-weight="normal" font-style="normal" fill="#444">8</text>
<line x1="526.4" y1="432.4" x2="526.4" y2="436.4" stroke="#6e6e6e" stroke-width="1"/>
<text x="526.4" y="450" font-size="7.3" text-anchor="middle" font-weight="normal" font-style="normal" fill="#444">10</text>
<line x1="555.2" y1="432.4" x2="555.2" y2="436.4" stroke="#6e6e6e" stroke-width="1"/>
<text x="555.2" y="450" font-size="7.3" text-anchor="middle" font-weight="normal" font-style="normal" fill="#444">12</text>
<line x1="584" y1="432.4" x2="584" y2="436.4" stroke="#6e6e6e" stroke-width="1"/>
<text x="584" y="450" font-size="7.3" text-anchor="middle" font-weight="normal" font-style="normal" fill="#444">14</text>
<line x1="376.4" y1="426.2" x2="380.4" y2="426.2" stroke="#6e6e6e" stroke-width="1"/>
<text x="370.6" y="426.2" font-size="7.3" text-anchor="middle" font-weight="normal" font-style="normal" fill="#444" transform="rotate(-90 370.6 426.2)">0.0</text>
<line x1="376.4" y1="395.76" x2="380.4" y2="395.76" stroke="#6e6e6e" stroke-width="1"/>
<text x="370.6" y="395.76" font-size="7.3" text-anchor="middle" font-weight="normal" font-style="normal" fill="#444" transform="rotate(-90 370.6 395.76)">0.2</text>
<line x1="376.4" y1="365.32" x2="380.4" y2="365.32" stroke="#6e6e6e" stroke-width="1"/>
<text x="370.6" y="365.32" font-size="7.3" text-anchor="middle" font-weight="normal" font-style="normal" fill="#444" transform="rotate(-90 370.6 365.32)">0.4</text>
<line x1="376.4" y1="334.88" x2="380.4" y2="334.88" stroke="#6e6e6e" stroke-width="1"/>
<text x="370.6" y="334.88" font-size="7.3" text-anchor="middle" font-weight="normal" font-style="normal" fill="#444" transform="rotate(-90 370.6 334.88)">0.6</text>
<line x1="376.4" y1="304.44" x2="380.4" y2="304.44" stroke="#6e6e6e" stroke-width="1"/>
<text x="370.6" y="304.44" font-size="7.3" text-anchor="middle" font-weight="normal" font-style="normal" fill="#444" transform="rotate(-90 370.6 304.44)">0.8</text>
<line x1="376.4" y1="274" x2="380.4" y2="274" stroke="#6e6e6e" stroke-width="1"/>
<text x="370.6" y="274" font-size="7.3" text-anchor="middle" font-weight="normal" font-style="normal" fill="#444" transform="rotate(-90 370.6 274)">1.0</text>
<text x="484.35" y="467" font-size="7.2" text-anchor="middle" font-weight="normal" font-style="normal" fill="#444">Spectrum</text>
<text x="353.2" y="344.7" font-size="7.2" text-anchor="middle" font-weight="normal" font-style="normal" fill="#444" transform="rotate(-90 353.2 344.7)">1 / MFS(months)</text>
<clipPath id="clipB"><rect x="380.4" y="257" width="207.9" height="175.4"/></clipPath>
<g clip-path="url(#clipB)">
<path d="M407.62 423.63a1.65 1.65 0 1 0 3.3 0a1.65 1.65 0 1 0 -3.3 0M396.56 421a1.65 1.65 0 1 0 3.3 0a1.65 1.65 0 1 0 -3.3 0M387.88 417.79a1.65 1.65 0 1 0 3.3 0a1.65 1.65 0 1 0 -3.3 0M422.63 425.34a1.65 1.65 0 1 0 3.3 0a1.65 1.65 0 1 0 -3.3 0M414.64 423.18a1.65 1.65 0 1 0 3.3 0a1.65 1.65 0 1 0 -3.3 0M399.64 424.76a1.65 1.65 0 1 0 3.3 0a1.65 1.65 0 1 0 -3.3 0M398.82 422.67a1.65 1.65 0 1 0 3.3 0a1.65 1.65 0 1 0 -3.3 0M421.5 425.83a1.65 1.65 0 1 0 3.3 0a1.65 1.65 0 1 0 -3.3 0M408.26 422.74a1.65 1.65 0 1 0 3.3 0a1.65 1.65 0 1 0 -3.3 0M420.21 423.69a1.65 1.65 0 1 0 3.3 0a1.65 1.65 0 1 0 -3.3 0M385.77 422.39a1.65 1.65 0 1 0 3.3 0a1.65 1.65 0 1 0 -3.3 0M419.19 420.6a1.65 1.65 0 1 0 3.3 0a1.65 1.65 0 1 0 -3.3 0M482.71 425.26a1.65 1.65 0 1 0 3.3 0a1.65 1.65 0 1 0 -3.3 0M471.21 423.22a1.65 1.65 0 1 0 3.3 0a1.65 1.65 0 1 0 -3.3 0M448.76 417.2a1.65 1.65 0 1 0 3.3 0a1.65 1.65 0 1 0 -3.3 0M452.16 423.55a1.65 1.65 0 1 0 3.3 0a1.65 1.65 0 1 0 -3.3 0M487.58 418.13a1.65 1.65 0 1 0 3.3 0a1.65 1.65 0 1 0 -3.3 0M488.57 419.24a1.65 1.65 0 1 0 3.3 0a1.65 1.65 0 1 0 -3.3 0M466.93 418.95a1.65 1.65 0 1 0 3.3 0a1.65 1.65 0 1 0 -3.3 0M446.65 420.31a1.65 1.65 0 1 0 3.3 0a1.65 1.65 0 1 0 -3.3 0M458.73 425.38a1.65 1.65 0 1 0 3.3 0a1.65 1.65 0 1 0 -3.3 0M485.55 423.01a1.65 1.65 0 1 0 3.3 0a1.65 1.65 0 1 0 -3.3 0M463.51 423.62a1.65 1.65 0 1 0 3.3 0a1.65 1.65 0 1 0 -3.3 0M487.76 421.35a1.65 1.65 0 1 0 3.3 0a1.65 1.65 0 1 0 -3.3 0M494.8 417.15a1.65 1.65 0 1 0 3.3 0a1.65 1.65 0 1 0 -3.3 0M473.51 422.66a1.65 1.65 0 1 0 3.3 0a1.65 1.65 0 1 0 -3.3 0M458.62 421.66a1.65 1.65 0 1 0 3.3 0a1.65 1.65 0 1 0 -3.3 0M403.21 375.97a1.65 1.65 0 1 0 3.3 0a1.65 1.65 0 1 0 -3.3 0M432.59 375.97a1.65 1.65 0 1 0 3.3 0a1.65 1.65 0 1 0 -3.3 0M458.51 418.59a1.65 1.65 0 1 0 3.3 0a1.65 1.65 0 1 0 -3.3 0M471.47 421.63a1.65 1.65 0 1 0 3.3 0a1.65 1.65 0 1 0 -3.3 0M490.19 421.63a1.65 1.65 0 1 0 3.3 0a1.65 1.65 0 1 0 -3.3 0" stroke="#dedd84" stroke-width="0.8" fill="none"/>
<path d="M411.9 423.97a1.65 1.65 0 1 0 3.3 0a1.65 1.65 0 1 0 -3.3 0M388.5 424.4a1.65 1.65 0 1 0 3.3 0a1.65 1.65 0 1 0 -3.3 0M399.68 421.25a1.65 1.65 0 1 0 3.3 0a1.65 1.65 0 1 0 -3.3 0M394.27 416.41a1.65 1.65 0 1 0 3.3 0a1.65 1.65 0 1 0 -3.3 0M390.89 425.58a1.65 1.65 0 1 0 3.3 0a1.65 1.65 0 1 0 -3.3 0M390.08 425.22a1.65 1.65 0 1 0 3.3 0a1.65 1.65 0 1 0 -3.3 0M394.71 418.63a1.65 1.65 0 1 0 3.3 0a1.65 1.65 0 1 0 -3.3 0M408.79 417.65a1.65 1.65 0 1 0 3.3 0a1.65 1.65 0 1 0 -3.3 0M388.68 422.24a1.65 1.65 0 1 0 3.3 0a1.65 1.65 0 1 0 -3.3 0M387.44 423.24a1.65 1.65 0 1 0 3.3 0a1.65 1.65 0 1 0 -3.3 0M393.27 421.58a1.65 1.65 0 1 0 3.3 0a1.65 1.65 0 1 0 -3.3 0M399.74 425.8a1.65 1.65 0 1 0 3.3 0a1.65 1.65 0 1 0 -3.3 0M401.43 425.5a1.65 1.65 0 1 0 3.3 0a1.65 1.65 0 1 0 -3.3 0M400.25 426.14a1.65 1.65 0 1 0 3.3 0a1.65 1.65 0 1 0 -3.3 0M418.1 424.46a1.65 1.65 0 1 0 3.3 0a1.65 1.65 0 1 0 -3.3 0M399.2 424.13a1.65 1.65 0 1 0 3.3 0a1.65 1.65 0 1 0 -3.3 0M395.67 425.32a1.65 1.65 0 1 0 3.3 0a1.65 1.65 0 1 0 -3.3 0M404.23 420.9a1.65 1.65 0 1 0 3.3 0a1.65 1.65 0 1 0 -3.3 0M401.82 426.17a1.65 1.65 0 1 0 3.3 0a1.65 1.65 0 1 0 -3.3 0M415.36 423a1.65 1.65 0 1 0 3.3 0a1.65 1.65 0 1 0 -3.3 0M400.46 421.68a1.65 1.65 0 1 0 3.3 0a1.65 1.65 0 1 0 -3.3 0M422.21 425.14a1.65 1.65 0 1 0 3.3 0a1.65 1.65 0 1 0 -3.3 0M414.28 425.34a1.65 1.65 0 1 0 3.3 0a1.65 1.65 0 1 0 -3.3 0M411.67 421.14a1.65 1.65 0 1 0 3.3 0a1.65 1.65 0 1 0 -3.3 0M400.18 424.1a1.65 1.65 0 1 0 3.3 0a1.65 1.65 0 1 0 -3.3 0M387.04 423.92a1.65 1.65 0 1 0 3.3 0a1.65 1.65 0 1 0 -3.3 0M393.24 425.39a1.65 1.65 0 1 0 3.3 0a1.65 1.65 0 1 0 -3.3 0M388.53 422.59a1.65 1.65 0 1 0 3.3 0a1.65 1.65 0 1 0 -3.3 0M484.03 421.79a1.65 1.65 0 1 0 3.3 0a1.65 1.65 0 1 0 -3.3 0M482.7 418.54a1.65 1.65 0 1 0 3.3 0a1.65 1.65 0 1 0 -3.3 0M456.79 418.27a1.65 1.65 0 1 0 3.3 0a1.65 1.65 0 1 0 -3.3 0M430.76 421.6a1.65 1.65 0 1 0 3.3 0a1.65 1.65 0 1 0 -3.3 0M467.88 420.1a1.65 1.65 0 1 0 3.3 0a1.65 1.65 0 1 0 -3.3 0M424.65 417.88a1.65 1.65 0 1 0 3.3 0a1.65 1.65 0 1 0 -3.3 0" stroke="#e4cf48" stroke-width="0.8" fill="none"/>
<path d="M407.46 421.03a1.65 1.65 0 1 0 3.3 0a1.65 1.65 0 1 0 -3.3 0M403.75 420.69a1.65 1.65 0 1 0 3.3 0a1.65 1.65 0 1 0 -3.3 0M416.05 418.56a1.65 1.65 0 1 0 3.3 0a1.65 1.65 0 1 0 -3.3 0M395.19 423.41a1.65 1.65 0 1 0 3.3 0a1.65 1.65 0 1 0 -3.3 0M396.76 418.7a1.65 1.65 0 1 0 3.3 0a1.65 1.65 0 1 0 -3.3 0M388.05 424.71a1.65 1.65 0 1 0 3.3 0a1.65 1.65 0 1 0 -3.3 0M400.77 422.67a1.65 1.65 0 1 0 3.3 0a1.65 1.65 0 1 0 -3.3 0M406.81 415.92a1.65 1.65 0 1 0 3.3 0a1.65 1.65 0 1 0 -3.3 0M406.21 423.14a1.65 1.65 0 1 0 3.3 0a1.65 1.65 0 1 0 -3.3 0M414.66 424.43a1.65 1.65 0 1 0 3.3 0a1.65 1.65 0 1 0 -3.3 0M404.75 412.16a1.65 1.65 0 1 0 3.3 0a1.65 1.65 0 1 0 -3.3 0M402.94 424.01a1.65 1.65 0 1 0 3.3 0a1.65 1.65 0 1 0 -3.3 0M405.36 423a1.65 1.65 0 1 0 3.3 0a1.65 1.65 0 1 0 -3.3 0M403.23 425.29a1.65 1.65 0 1 0 3.3 0a1.65 1.65 0 1 0 -3.3 0M397.53 413.97a1.65 1.65 0 1 0 3.3 0a1.65 1.65 0 1 0 -3.3 0M391.66 423.45a1.65 1.65 0 1 0 3.3 0a1.65 1.65 0 1 0 -3.3 0M394.47 417.47a1.65 1.65 0 1 0 3.3 0a1.65 1.65 0 1 0 -3.3 0M403.29 412.84a1.65 1.65 0 1 0 3.3 0a1.65 1.65 0 1 0 -3.3 0M395.6 422.68a1.65 1.65 0 1 0 3.3 0a1.65 1.65 0 1 0 -3.3 0M392.84 422.42a1.65 1.65 0 1 0 3.3 0a1.65 1.65 0 1 0 -3.3 0M402.67 425.84a1.65 1.65 0 1 0 3.3 0a1.65 1.65 0 1 0 -3.3 0M407.39 419.51a1.65 1.65 0 1 0 3.3 0a1.65 1.65 0 1 0 -3.3 0M395.36 424.03a1.65 1.65 0 1 0 3.3 0a1.65 1.65 0 1 0 -3.3 0M397.02 425.86a1.65 1.65 0 1 0 3.3 0a1.65 1.65 0 1 0 -3.3 0M404.44 425a1.65 1.65 0 1 0 3.3 0a1.65 1.65 0 1 0 -3.3 0M406.28 424.67a1.65 1.65 0 1 0 3.3 0a1.65 1.65 0 1 0 -3.3 0M403.6 391.78a1.65 1.65 0 1 0 3.3 0a1.65 1.65 0 1 0 -3.3 0M398.72 408.4a1.65 1.65 0 1 0 3.3 0a1.65 1.65 0 1 0 -3.3 0M406.48 404.83a1.65 1.65 0 1 0 3.3 0a1.65 1.65 0 1 0 -3.3 0M394.64 391.86a1.65 1.65 0 1 0 3.3 0a1.65 1.65 0 1 0 -3.3 0M406.53 391.5a1.65 1.65 0 1 0 3.3 0a1.65 1.65 0 1 0 -3.3 0M397.85 398.02a1.65 1.65 0 1 0 3.3 0a1.65 1.65 0 1 0 -3.3 0M397.05 399.85a1.65 1.65 0 1 0 3.3 0a1.65 1.65 0 1 0 -3.3 0M394.69 407.89a1.65 1.65 0 1 0 3.3 0a1.65 1.65 0 1 0 -3.3 0M389.49 399.76a1.65 1.65 0 1 0 3.3 0a1.65 1.65 0 1 0 -3.3 0M398.36 397.18a1.65 1.65 0 1 0 3.3 0a1.65 1.65 0 1 0 -3.3 0M412.39 402.64a1.65 1.65 0 1 0 3.3 0a1.65 1.65 0 1 0 -3.3 0M414.96 418.87a1.65 1.65 0 1 0 3.3 0a1.65 1.65 0 1 0 -3.3 0M415.86 398.17a1.65 1.65 0 1 0 3.3 0a1.65 1.65 0 1 0 -3.3 0M389.1 388.15a1.65 1.65 0 1 0 3.3 0a1.65 1.65 0 1 0 -3.3 0M391.84 388.15a1.65 1.65 0 1 0 3.3 0a1.65 1.65 0 1 0 -3.3 0M407.68 388.15a1.65 1.65 0 1 0 3.3 0a1.65 1.65 0 1 0 -3.3 0M418.19 417.07a1.65 1.65 0 1 0 3.3 0a1.65 1.65 0 1 0 -3.3 0M419.63 414.02a1.65 1.65 0 1 0 3.3 0a1.65 1.65 0 1 0 -3.3 0" stroke="#ec9c24" stroke-width="0.8" fill="none"/>
<path d="M414.64 424.85a1.65 1.65 0 1 0 3.3 0a1.65 1.65 0 1 0 -3.3 0M392.25 424.3a1.65 1.65 0 1 0 3.3 0a1.65 1.65 0 1 0 -3.3 0M395.06 415.44a1.65 1.65 0 1 0 3.3 0a1.65 1.65 0 1 0 -3.3 0M388.24 416.53a1.65 1.65 0 1 0 3.3 0a1.65 1.65 0 1 0 -3.3 0M399.52 426.08a1.65 1.65 0 1 0 3.3 0a1.65 1.65 0 1 0 -3.3 0M401.61 418.2a1.65 1.65 0 1 0 3.3 0a1.65 1.65 0 1 0 -3.3 0M408.65 414.13a1.65 1.65 0 1 0 3.3 0a1.65 1.65 0 1 0 -3.3 0M388.02 423a1.65 1.65 0 1 0 3.3 0a1.65 1.65 0 1 0 -3.3 0M388.18 422.96a1.65 1.65 0 1 0 3.3 0a1.65 1.65 0 1 0 -3.3 0M399.59 425.35a1.65 1.65 0 1 0 3.3 0a1.65 1.65 0 1 0 -3.3 0M395.12 420.97a1.65 1.65 0 1 0 3.3 0a1.65 1.65 0 1 0 -3.3 0M394.48 418.48a1.65 1.65 0 1 0 3.3 0a1.65 1.65 0 1 0 -3.3 0M405.75 420.94a1.65 1.65 0 1 0 3.3 0a1.65 1.65 0 1 0 -3.3 0M392.15 424.03a1.65 1.65 0 1 0 3.3 0a1.65 1.65 0 1 0 -3.3 0M405.16 400.02a1.65 1.65 0 1 0 3.3 0a1.65 1.65 0 1 0 -3.3 0M392.27 403.88a1.65 1.65 0 1 0 3.3 0a1.65 1.65 0 1 0 -3.3 0M393.29 404.83a1.65 1.65 0 1 0 3.3 0a1.65 1.65 0 1 0 -3.3 0M403.89 400.49a1.65 1.65 0 1 0 3.3 0a1.65 1.65 0 1 0 -3.3 0M397.18 406.75a1.65 1.65 0 1 0 3.3 0a1.65 1.65 0 1 0 -3.3 0M398.46 396.14a1.65 1.65 0 1 0 3.3 0a1.65 1.65 0 1 0 -3.3 0M392.4 409.16a1.65 1.65 0 1 0 3.3 0a1.65 1.65 0 1 0 -3.3 0M394.04 393.24a1.65 1.65 0 1 0 3.3 0a1.65 1.65 0 1 0 -3.3 0M401.31 403.5a1.65 1.65 0 1 0 3.3 0a1.65 1.65 0 1 0 -3.3 0M419.03 415.1a1.65 1.65 0 1 0 3.3 0a1.65 1.65 0 1 0 -3.3 0M417.81 398.86a1.65 1.65 0 1 0 3.3 0a1.65 1.65 0 1 0 -3.3 0M422.44 393.37a1.65 1.65 0 1 0 3.3 0a1.65 1.65 0 1 0 -3.3 0M408.51 408.43a1.65 1.65 0 1 0 3.3 0a1.65 1.65 0 1 0 -3.3 0M414.09 415.41a1.65 1.65 0 1 0 3.3 0a1.65 1.65 0 1 0 -3.3 0M410.53 406.69a1.65 1.65 0 1 0 3.3 0a1.65 1.65 0 1 0 -3.3 0M411.84 407.88a1.65 1.65 0 1 0 3.3 0a1.65 1.65 0 1 0 -3.3 0M423.38 415.59a1.65 1.65 0 1 0 3.3 0a1.65 1.65 0 1 0 -3.3 0M408.71 400.98a1.65 1.65 0 1 0 3.3 0a1.65 1.65 0 1 0 -3.3 0M406.96 274a1.65 1.65 0 1 0 3.3 0a1.65 1.65 0 1 0 -3.3 0M498.83 263.35a1.65 1.65 0 1 0 3.3 0a1.65 1.65 0 1 0 -3.3 0M398.17 327.27a1.65 1.65 0 1 0 3.3 0a1.65 1.65 0 1 0 -3.3 0M433.31 331.84a1.65 1.65 0 1 0 3.3 0a1.65 1.65 0 1 0 -3.3 0M397.89 369.89a1.65 1.65 0 1 0 3.3 0a1.65 1.65 0 1 0 -3.3 0M407.97 371.41a1.65 1.65 0 1 0 3.3 0a1.65 1.65 0 1 0 -3.3 0M395.15 380.54a1.65 1.65 0 1 0 3.3 0a1.65 1.65 0 1 0 -3.3 0M427.69 380.54a1.65 1.65 0 1 0 3.3 0a1.65 1.65 0 1 0 -3.3 0M395.58 388.15a1.65 1.65 0 1 0 3.3 0a1.65 1.65 0 1 0 -3.3 0M404.8 388.15a1.65 1.65 0 1 0 3.3 0a1.65 1.65 0 1 0 -3.3 0M408.4 392.72a1.65 1.65 0 1 0 3.3 0a1.65 1.65 0 1 0 -3.3 0M415.31 394.24a1.65 1.65 0 1 0 3.3 0a1.65 1.65 0 1 0 -3.3 0M434.03 400.33a1.65 1.65 0 1 0 3.3 0a1.65 1.65 0 1 0 -3.3 0M437.77 412.5a1.65 1.65 0 1 0 3.3 0a1.65 1.65 0 1 0 -3.3 0M427.98 421.63a1.65 1.65 0 1 0 3.3 0a1.65 1.65 0 1 0 -3.3 0M428.27 407.94a1.65 1.65 0 1 0 3.3 0a1.65 1.65 0 1 0 -3.3 0M420.64 407.94a1.65 1.65 0 1 0 3.3 0a1.65 1.65 0 1 0 -3.3 0M422.51 406.41a1.65 1.65 0 1 0 3.3 0a1.65 1.65 0 1 0 -3.3 0M413.58 403.37a1.65 1.65 0 1 0 3.3 0a1.65 1.65 0 1 0 -3.3 0M413.58 401.85a1.65 1.65 0 1 0 3.3 0a1.65 1.65 0 1 0 -3.3 0M442.67 410.98a1.65 1.65 0 1 0 3.3 0a1.65 1.65 0 1 0 -3.3 0M449.87 407.94a1.65 1.65 0 1 0 3.3 0a1.65 1.65 0 1 0 -3.3 0M458.51 395.76a1.65 1.65 0 1 0 3.3 0a1.65 1.65 0 1 0 -3.3 0M467.15 410.98a1.65 1.65 0 1 0 3.3 0a1.65 1.65 0 1 0 -3.3 0M578.03 379.02a1.65 1.65 0 1 0 3.3 0a1.65 1.65 0 1 0 -3.3 0" stroke="#8a4a70" stroke-width="0.8" fill="none"/>
<path d="M406.01 407.94a1.65 1.65 0 1 0 3.3 0a1.65 1.65 0 1 0 -3.3 0M399.89 422.93a1.65 1.65 0 1 0 3.3 0a1.65 1.65 0 1 0 -3.3 0M388.17 420.23a1.65 1.65 0 1 0 3.3 0a1.65 1.65 0 1 0 -3.3 0M402.41 417.72a1.65 1.65 0 1 0 3.3 0a1.65 1.65 0 1 0 -3.3 0M414.36 423.72a1.65 1.65 0 1 0 3.3 0a1.65 1.65 0 1 0 -3.3 0M397.57 412.62a1.65 1.65 0 1 0 3.3 0a1.65 1.65 0 1 0 -3.3 0M408.66 420.55a1.65 1.65 0 1 0 3.3 0a1.65 1.65 0 1 0 -3.3 0M397.79 420.47a1.65 1.65 0 1 0 3.3 0a1.65 1.65 0 1 0 -3.3 0M397.5 408.79a1.65 1.65 0 1 0 3.3 0a1.65 1.65 0 1 0 -3.3 0M397.86 424.6a1.65 1.65 0 1 0 3.3 0a1.65 1.65 0 1 0 -3.3 0M394.17 425.6a1.65 1.65 0 1 0 3.3 0a1.65 1.65 0 1 0 -3.3 0M399.81 424.64a1.65 1.65 0 1 0 3.3 0a1.65 1.65 0 1 0 -3.3 0M403.69 420.12a1.65 1.65 0 1 0 3.3 0a1.65 1.65 0 1 0 -3.3 0M398.59 416.17a1.65 1.65 0 1 0 3.3 0a1.65 1.65 0 1 0 -3.3 0M399.74 425.65a1.65 1.65 0 1 0 3.3 0a1.65 1.65 0 1 0 -3.3 0M403.17 414.89a1.65 1.65 0 1 0 3.3 0a1.65 1.65 0 1 0 -3.3 0M399.57 417.03a1.65 1.65 0 1 0 3.3 0a1.65 1.65 0 1 0 -3.3 0M400.68 421.78a1.65 1.65 0 1 0 3.3 0a1.65 1.65 0 1 0 -3.3 0M409.37 424.27a1.65 1.65 0 1 0 3.3 0a1.65 1.65 0 1 0 -3.3 0M392.19 423.64a1.65 1.65 0 1 0 3.3 0a1.65 1.65 0 1 0 -3.3 0M396.37 423.34a1.65 1.65 0 1 0 3.3 0a1.65 1.65 0 1 0 -3.3 0M401.52 415.92a1.65 1.65 0 1 0 3.3 0a1.65 1.65 0 1 0 -3.3 0M403.73 420.96a1.65 1.65 0 1 0 3.3 0a1.65 1.65 0 1 0 -3.3 0M392.07 419.37a1.65 1.65 0 1 0 3.3 0a1.65 1.65 0 1 0 -3.3 0M388.33 423.12a1.65 1.65 0 1 0 3.3 0a1.65 1.65 0 1 0 -3.3 0M407.49 422.94a1.65 1.65 0 1 0 3.3 0a1.65 1.65 0 1 0 -3.3 0M416.74 425.48a1.65 1.65 0 1 0 3.3 0a1.65 1.65 0 1 0 -3.3 0M399.98 419.28a1.65 1.65 0 1 0 3.3 0a1.65 1.65 0 1 0 -3.3 0M388.21 422.95a1.65 1.65 0 1 0 3.3 0a1.65 1.65 0 1 0 -3.3 0M413.27 415.95a1.65 1.65 0 1 0 3.3 0a1.65 1.65 0 1 0 -3.3 0M405.35 422.71a1.65 1.65 0 1 0 3.3 0a1.65 1.65 0 1 0 -3.3 0M418.19 424.65a1.65 1.65 0 1 0 3.3 0a1.65 1.65 0 1 0 -3.3 0M393.48 425.32a1.65 1.65 0 1 0 3.3 0a1.65 1.65 0 1 0 -3.3 0M408.52 421.79a1.65 1.65 0 1 0 3.3 0a1.65 1.65 0 1 0 -3.3 0M389.24 421.05a1.65 1.65 0 1 0 3.3 0a1.65 1.65 0 1 0 -3.3 0M395.29 424.35a1.65 1.65 0 1 0 3.3 0a1.65 1.65 0 1 0 -3.3 0M391.46 423.08a1.65 1.65 0 1 0 3.3 0a1.65 1.65 0 1 0 -3.3 0M405.58 415.33a1.65 1.65 0 1 0 3.3 0a1.65 1.65 0 1 0 -3.3 0M393.83 424.88a1.65 1.65 0 1 0 3.3 0a1.65 1.65 0 1 0 -3.3 0M413.02 417.89a1.65 1.65 0 1 0 3.3 0a1.65 1.65 0 1 0 -3.3 0M392.79 423.69a1.65 1.65 0 1 0 3.3 0a1.65 1.65 0 1 0 -3.3 0M402.36 426.04a1.65 1.65 0 1 0 3.3 0a1.65 1.65 0 1 0 -3.3 0M393.13 425.3a1.65 1.65 0 1 0 3.3 0a1.65 1.65 0 1 0 -3.3 0M398.93 425.72a1.65 1.65 0 1 0 3.3 0a1.65 1.65 0 1 0 -3.3 0M398.99 424.59a1.65 1.65 0 1 0 3.3 0a1.65 1.65 0 1 0 -3.3 0M389.7 422.12a1.65 1.65 0 1 0 3.3 0a1.65 1.65 0 1 0 -3.3 0M387.4 415.87a1.65 1.65 0 1 0 3.3 0a1.65 1.65 0 1 0 -3.3 0M411.84 422.22a1.65 1.65 0 1 0 3.3 0a1.65 1.65 0 1 0 -3.3 0M394.44 422.46a1.65 1.65 0 1 0 3.3 0a1.65 1.65 0 1 0 -3.3 0M392.17 425.64a1.65 1.65 0 1 0 3.3 0a1.65 1.65 0 1 0 -3.3 0M400.79 422.33a1.65 1.65 0 1 0 3.3 0a1.65 1.65 0 1 0 -3.3 0M404.59 424.15a1.65 1.65 0 1 0 3.3 0a1.65 1.65 0 1 0 -3.3 0M402.84 424.71a1.65 1.65 0 1 0 3.3 0a1.65 1.65 0 1 0 -3.3 0M411.89 418.51a1.65 1.65 0 1 0 3.3 0a1.65 1.65 0 1 0 -3.3 0M390.53 424.44a1.65 1.65 0 1 0 3.3 0a1.65 1.65 0 1 0 -3.3 0M390.45 423.24a1.65 1.65 0 1 0 3.3 0a1.65 1.65 0 1 0 -3.3 0M400.14 425.56a1.65 1.65 0 1 0 3.3 0a1.65 1.65 0 1 0 -3.3 0M391.55 420.41a1.65 1.65 0 1 0 3.3 0a1.65 1.65 0 1 0 -3.3 0M412.11 421.01a1.65 1.65 0 1 0 3.3 0a1.65 1.65 0 1 0 -3.3 0M405.66 424.46a1.65 1.65 0 1 0 3.3 0a1.65 1.65 0 1 0 -3.3 0M395.29 423.8a1.65 1.65 0 1 0 3.3 0a1.65 1.65 0 1 0 -3.3 0M391.94 420.82a1.65 1.65 0 1 0 3.3 0a1.65 1.65 0 1 0 -3.3 0M393.94 421.76a1.65 1.65 0 1 0 3.3 0a1.65 1.65 0 1 0 -3.3 0M392.96 425.24a1.65 1.65 0 1 0 3.3 0a1.65 1.65 0 1 0 -3.3 0M392.59 416.32a1.65 1.65 0 1 0 3.3 0a1.65 1.65 0 1 0 -3.3 0M394.86 422.77a1.65 1.65 0 1 0 3.3 0a1.65 1.65 0 1 0 -3.3 0M401.2 421.95a1.65 1.65 0 1 0 3.3 0a1.65 1.65 0 1 0 -3.3 0M397.31 416.38a1.65 1.65 0 1 0 3.3 0a1.65 1.65 0 1 0 -3.3 0M391.89 425.41a1.65 1.65 0 1 0 3.3 0a1.65 1.65 0 1 0 -3.3 0M397.75 424.54a1.65 1.65 0 1 0 3.3 0a1.65 1.65 0 1 0 -3.3 0M400.65 423.04a1.65 1.65 0 1 0 3.3 0a1.65 1.65 0 1 0 -3.3 0M390.12 409.46a1.65 1.65 0 1 0 3.3 0a1.65 1.65 0 1 0 -3.3 0M391.61 400.77a1.65 1.65 0 1 0 3.3 0a1.65 1.65 0 1 0 -3.3 0M403.35 406.44a1.65 1.65 0 1 0 3.3 0a1.65 1.65 0 1 0 -3.3 0M393.57 407.34a1.65 1.65 0 1 0 3.3 0a1.65 1.65 0 1 0 -3.3 0M393.79 397.66a1.65 1.65 0 1 0 3.3 0a1.65 1.65 0 1 0 -3.3 0M401.22 392.7a1.65 1.65 0 1 0 3.3 0a1.65 1.65 0 1 0 -3.3 0M390.13 402.99a1.65 1.65 0 1 0 3.3 0a1.65 1.65 0 1 0 -3.3 0M398.9 399.17a1.65 1.65 0 1 0 3.3 0a1.65 1.65 0 1 0 -3.3 0M409.26 394.67a1.65 1.65 0 1 0 3.3 0a1.65 1.65 0 1 0 -3.3 0" stroke="#de2222" stroke-width="0.8" fill="none"/>
<path d="M390.11 274a1.65 1.65 0 1 0 3.3 0a1.65 1.65 0 1 0 -3.3 0M395.58 274a1.65 1.65 0 1 0 3.3 0a1.65 1.65 0 1 0 -3.3 0M391.12 350.1a1.65 1.65 0 1 0 3.3 0a1.65 1.65 0 1 0 -3.3 0" stroke="#b0704a" stroke-width="0.8" fill="none"/>
<path d="M394.14 350.1a1.65 1.65 0 1 0 3.3 0a1.65 1.65 0 1 0 -3.3 0" stroke="#c08040" stroke-width="0.8" fill="none"/>
<path d="M414.3 350.1a1.65 1.65 0 1 0 3.3 0a1.65 1.65 0 1 0 -3.3 0" stroke="#a06050" stroke-width="0.8" fill="none"/>
<line x1="380.4" y1="418" x2="588.3" y2="422" stroke="#e0dc8a" stroke-width="0.9" stroke-dasharray="3 2" stroke-opacity="1"/>
<line x1="380.4" y1="408.6" x2="588.3" y2="354" stroke="#7a3050" stroke-width="0.9" stroke-dasharray="3 2" stroke-opacity="1"/>
<line x1="380.4" y1="416.2" x2="588.3" y2="375.5" stroke="#222" stroke-width="0.9" stroke-dasharray="3 2" stroke-opacity="1"/>
</g>
<text transform="matrix(1.06 0 0 1 496 287.5)" font-size="12.3" font-weight="bold" fill="#e8141c">Meta*</text>
<text transform="matrix(1.06 0 0 1 496 300)" font-size="12.3" font-weight="bold" fill="#e8141c">Corr = 0.20</text>
<rect x="381.3" y="498.2" width="204" height="173.8" stroke="#6e6e6e" fill="none" stroke-width="1"/>
<line x1="388.6" y1="672" x2="388.6" y2="676" stroke="#6e6e6e" stroke-width="1"/>
<text x="388.6" y="689" font-size="7.3" text-anchor="middle" font-weight="normal" font-style="normal" fill="#444">0</text>
<line x1="421" y1="672" x2="421" y2="676" stroke="#6e6e6e" stroke-width="1"/>
<text x="421" y="689" font-size="7.3" text-anchor="middle" font-weight="normal" font-style="normal" fill="#444">1</text>
<line x1="453.4" y1="672" x2="453.4" y2="676" stroke="#6e6e6e" stroke-width="1"/>
<text x="453.4" y="689" font-size="7.3" text-anchor="middle" font-weight="normal" font-style="normal" fill="#444">2</text>
<line x1="485.8" y1="672" x2="485.8" y2="676" stroke="#6e6e6e" stroke-width="1"/>
<text x="485.8" y="689" font-size="7.3" text-anchor="middle" font-weight="normal" font-style="normal" fill="#444">3</text>
<line x1="518.2" y1="672" x2="518.2" y2="676" stroke="#6e6e6e" stroke-width="1"/>
<text x="518.2" y="689" font-size="7.3" text-anchor="middle" font-weight="normal" font-style="normal" fill="#444">4</text>
<line x1="550.6" y1="672" x2="550.6" y2="676" stroke="#6e6e6e" stroke-width="1"/>
<text x="550.6" y="689" font-size="7.3" text-anchor="middle" font-weight="normal" font-style="normal" fill="#444">5</text>
<line x1="583" y1="672" x2="583" y2="676" stroke="#6e6e6e" stroke-width="1"/>
<text x="583" y="689" font-size="7.3" text-anchor="middle" font-weight="normal" font-style="normal" fill="#444">6</text>
<line x1="377.3" y1="665" x2="381.3" y2="665" stroke="#6e6e6e" stroke-width="1"/>
<text x="372.6" y="665" font-size="7.3" text-anchor="middle" font-weight="normal" font-style="normal" fill="#444" transform="rotate(-90 372.6 665)">0</text>
<line x1="377.3" y1="641.91" x2="381.3" y2="641.91" stroke="#6e6e6e" stroke-width="1"/>
<text x="372.6" y="641.91" font-size="7.3" text-anchor="middle" font-weight="normal" font-style="normal" fill="#444" transform="rotate(-90 372.6 641.91)">20</text>
<line x1="377.3" y1="618.83" x2="381.3" y2="618.83" stroke="#6e6e6e" stroke-width="1"/>
<text x="372.6" y="618.83" font-size="7.3" text-anchor="middle" font-weight="normal" font-style="normal" fill="#444" transform="rotate(-90 372.6 618.83)">40</text>
<line x1="377.3" y1="595.74" x2="381.3" y2="595.74" stroke="#6e6e6e" stroke-width="1"/>
<text x="372.6" y="595.74" font-size="7.3" text-anchor="middle" font-weight="normal" font-style="normal" fill="#444" transform="rotate(-90 372.6 595.74)">60</text>
<line x1="377.3" y1="572.66" x2="381.3" y2="572.66" stroke="#6e6e6e" stroke-width="1"/>
<text x="372.6" y="572.66" font-size="7.3" text-anchor="middle" font-weight="normal" font-style="normal" fill="#444" transform="rotate(-90 372.6 572.66)">80</text>
<line x1="377.3" y1="549.57" x2="381.3" y2="549.57" stroke="#6e6e6e" stroke-width="1"/>
<text x="372.6" y="549.57" font-size="7.3" text-anchor="middle" font-weight="normal" font-style="normal" fill="#444" transform="rotate(-90 372.6 549.57)">100</text>
<line x1="377.3" y1="526.48" x2="381.3" y2="526.48" stroke="#6e6e6e" stroke-width="1"/>
<text x="372.6" y="526.48" font-size="7.3" text-anchor="middle" font-weight="normal" font-style="normal" fill="#444" transform="rotate(-90 372.6 526.48)">120</text>
<line x1="377.3" y1="503.4" x2="381.3" y2="503.4" stroke="#6e6e6e" stroke-width="1"/>
<text x="372.6" y="503.4" font-size="7.3" text-anchor="middle" font-weight="normal" font-style="normal" fill="#444" transform="rotate(-90 372.6 503.4)">140</text>
<text x="483.3" y="706" font-size="7.2" text-anchor="middle" font-weight="normal" font-style="normal" fill="#444">SNR</text>
<text x="354.5" y="585.1" font-size="7.2" text-anchor="middle" font-weight="normal" font-style="normal" fill="#444" transform="rotate(-90 354.5 585.1)">MFS(months)</text>
<clipPath id="clipC"><rect x="381.3" y="498.2" width="204" height="173.8"/></clipPath>
<g clip-path="url(#clipC)">
<path d="M458.65 661.16a1.65 1.65 0 1 0 3.3 0a1.65 1.65 0 1 0 -3.3 0M490.01 615.14a1.65 1.65 0 1 0 3.3 0a1.65 1.65 0 1 0 -3.3 0M421.12 624.84a1.65 1.65 0 1 0 3.3 0a1.65 1.65 0 1 0 -3.3 0M411.15 654.61a1.65 1.65 0 1 0 3.3 0a1.65 1.65 0 1 0 -3.3 0M414.47 655.37a1.65 1.65 0 1 0 3.3 0a1.65 1.65 0 1 0 -3.3 0M431.65 648.9a1.65 1.65 0 1 0 3.3 0a1.65 1.65 0 1 0 -3.3 0M471.7 648.05a1.65 1.65 0 1 0 3.3 0a1.65 1.65 0 1 0 -3.3 0M422.85 638.6a1.65 1.65 0 1 0 3.3 0a1.65 1.65 0 1 0 -3.3 0M461.08 626.25a1.65 1.65 0 1 0 3.3 0a1.65 1.65 0 1 0 -3.3 0M475.99 651.39a1.65 1.65 0 1 0 3.3 0a1.65 1.65 0 1 0 -3.3 0M475.46 601.37a1.65 1.65 0 1 0 3.3 0a1.65 1.65 0 1 0 -3.3 0M437.25 600.36a1.65 1.65 0 1 0 3.3 0a1.65 1.65 0 1 0 -3.3 0M443.08 653.68a1.65 1.65 0 1 0 3.3 0a1.65 1.65 0 1 0 -3.3 0M469.68 629.46a1.65 1.65 0 1 0 3.3 0a1.65 1.65 0 1 0 -3.3 0M486.34 658.32a1.65 1.65 0 1 0 3.3 0a1.65 1.65 0 1 0 -3.3 0M478.02 649.19a1.65 1.65 0 1 0 3.3 0a1.65 1.65 0 1 0 -3.3 0M457.49 616.9a1.65 1.65 0 1 0 3.3 0a1.65 1.65 0 1 0 -3.3 0M472.06 623.89a1.65 1.65 0 1 0 3.3 0a1.65 1.65 0 1 0 -3.3 0M468.74 650.02a1.65 1.65 0 1 0 3.3 0a1.65 1.65 0 1 0 -3.3 0M402.61 654.47a1.65 1.65 0 1 0 3.3 0a1.65 1.65 0 1 0 -3.3 0M412.81 632.92a1.65 1.65 0 1 0 3.3 0a1.65 1.65 0 1 0 -3.3 0M485.28 654.55a1.65 1.65 0 1 0 3.3 0a1.65 1.65 0 1 0 -3.3 0M387.68 656.43a1.65 1.65 0 1 0 3.3 0a1.65 1.65 0 1 0 -3.3 0M424.65 624.87a1.65 1.65 0 1 0 3.3 0a1.65 1.65 0 1 0 -3.3 0M396.25 647.77a1.65 1.65 0 1 0 3.3 0a1.65 1.65 0 1 0 -3.3 0M401.71 657.45a1.65 1.65 0 1 0 3.3 0a1.65 1.65 0 1 0 -3.3 0M413.59 650.86a1.65 1.65 0 1 0 3.3 0a1.65 1.65 0 1 0 -3.3 0M415.59 603.8a1.65 1.65 0 1 0 3.3 0a1.65 1.65 0 1 0 -3.3 0M430.38 610.59a1.65 1.65 0 1 0 3.3 0a1.65 1.65 0 1 0 -3.3 0M405.03 660.21a1.65 1.65 0 1 0 3.3 0a1.65 1.65 0 1 0 -3.3 0M550.3 660.41a1.65 1.65 0 1 0 3.3 0a1.65 1.65 0 1 0 -3.3 0M413.89 623.6a1.65 1.65 0 1 0 3.3 0a1.65 1.65 0 1 0 -3.3 0M486.33 616.9a1.65 1.65 0 1 0 3.3 0a1.65 1.65 0 1 0 -3.3 0M487.1 605.12a1.65 1.65 0 1 0 3.3 0a1.65 1.65 0 1 0 -3.3 0M489.86 641.14a1.65 1.65 0 1 0 3.3 0a1.65 1.65 0 1 0 -3.3 0M563.96 630.87a1.65 1.65 0 1 0 3.3 0a1.65 1.65 0 1 0 -3.3 0M404.9 653.7a1.65 1.65 0 1 0 3.3 0a1.65 1.65 0 1 0 -3.3 0M441 629.31a1.65 1.65 0 1 0 3.3 0a1.65 1.65 0 1 0 -3.3 0M397.34 651.25a1.65 1.65 0 1 0 3.3 0a1.65 1.65 0 1 0 -3.3 0M444.41 622.1a1.65 1.65 0 1 0 3.3 0a1.65 1.65 0 1 0 -3.3 0M438.92 661.73a1.65 1.65 0 1 0 3.3 0a1.65 1.65 0 1 0 -3.3 0M478.16 627.69a1.65 1.65 0 1 0 3.3 0a1.65 1.65 0 1 0 -3.3 0M455.19 652.07a1.65 1.65 0 1 0 3.3 0a1.65 1.65 0 1 0 -3.3 0M390.47 621.66a1.65 1.65 0 1 0 3.3 0a1.65 1.65 0 1 0 -3.3 0M460.67 604.23a1.65 1.65 0 1 0 3.3 0a1.65 1.65 0 1 0 -3.3 0M426.73 648.62a1.65 1.65 0 1 0 3.3 0a1.65 1.65 0 1 0 -3.3 0M496.59 651.87a1.65 1.65 0 1 0 3.3 0a1.65 1.65 0 1 0 -3.3 0M489.33 623.93a1.65 1.65 0 1 0 3.3 0a1.65 1.65 0 1 0 -3.3 0M414.54 654.87a1.65 1.65 0 1 0 3.3 0a1.65 1.65 0 1 0 -3.3 0M462.99 594.16a1.65 1.65 0 1 0 3.3 0a1.65 1.65 0 1 0 -3.3 0M424.79 595.86a1.65 1.65 0 1 0 3.3 0a1.65 1.65 0 1 0 -3.3 0M407.02 659.84a1.65 1.65 0 1 0 3.3 0a1.65 1.65 0 1 0 -3.3 0M423.85 636.34a1.65 1.65 0 1 0 3.3 0a1.65 1.65 0 1 0 -3.3 0M447.65 635.83a1.65 1.65 0 1 0 3.3 0a1.65 1.65 0 1 0 -3.3 0M551.36 645.42a1.65 1.65 0 1 0 3.3 0a1.65 1.65 0 1 0 -3.3 0M405.66 643.29a1.65 1.65 0 1 0 3.3 0a1.65 1.65 0 1 0 -3.3 0M388.28 643.83a1.65 1.65 0 1 0 3.3 0a1.65 1.65 0 1 0 -3.3 0M496.42 608.73a1.65 1.65 0 1 0 3.3 0a1.65 1.65 0 1 0 -3.3 0M509.06 650.6a1.65 1.65 0 1 0 3.3 0a1.65 1.65 0 1 0 -3.3 0M490.51 621.51a1.65 1.65 0 1 0 3.3 0a1.65 1.65 0 1 0 -3.3 0M460.47 611.26a1.65 1.65 0 1 0 3.3 0a1.65 1.65 0 1 0 -3.3 0M548.16 654.75a1.65 1.65 0 1 0 3.3 0a1.65 1.65 0 1 0 -3.3 0M428.37 652.82a1.65 1.65 0 1 0 3.3 0a1.65 1.65 0 1 0 -3.3 0M554.44 637.78a1.65 1.65 0 1 0 3.3 0a1.65 1.65 0 1 0 -3.3 0M402.72 621.37a1.65 1.65 0 1 0 3.3 0a1.65 1.65 0 1 0 -3.3 0M476.66 642.73a1.65 1.65 0 1 0 3.3 0a1.65 1.65 0 1 0 -3.3 0M442.94 633.35a1.65 1.65 0 1 0 3.3 0a1.65 1.65 0 1 0 -3.3 0M387.18 633.89a1.65 1.65 0 1 0 3.3 0a1.65 1.65 0 1 0 -3.3 0M414.57 655.99a1.65 1.65 0 1 0 3.3 0a1.65 1.65 0 1 0 -3.3 0M468.02 657.26a1.65 1.65 0 1 0 3.3 0a1.65 1.65 0 1 0 -3.3 0M435.56 639.81a1.65 1.65 0 1 0 3.3 0a1.65 1.65 0 1 0 -3.3 0M412.2 634.9a1.65 1.65 0 1 0 3.3 0a1.65 1.65 0 1 0 -3.3 0M490.47 654.11a1.65 1.65 0 1 0 3.3 0a1.65 1.65 0 1 0 -3.3 0M441.76 651.45a1.65 1.65 0 1 0 3.3 0a1.65 1.65 0 1 0 -3.3 0M442.84 630.81a1.65 1.65 0 1 0 3.3 0a1.65 1.65 0 1 0 -3.3 0M468.95 659.73a1.65 1.65 0 1 0 3.3 0a1.65 1.65 0 1 0 -3.3 0M491.77 652.91a1.65 1.65 0 1 0 3.3 0a1.65 1.65 0 1 0 -3.3 0M457.12 636.57a1.65 1.65 0 1 0 3.3 0a1.65 1.65 0 1 0 -3.3 0M407.96 636.47a1.65 1.65 0 1 0 3.3 0a1.65 1.65 0 1 0 -3.3 0M494.23 613.07a1.65 1.65 0 1 0 3.3 0a1.65 1.65 0 1 0 -3.3 0M405.59 620.93a1.65 1.65 0 1 0 3.3 0a1.65 1.65 0 1 0 -3.3 0M472.6 656.92a1.65 1.65 0 1 0 3.3 0a1.65 1.65 0 1 0 -3.3 0M481.8 642.93a1.65 1.65 0 1 0 3.3 0a1.65 1.65 0 1 0 -3.3 0M423.14 664.75a1.65 1.65 0 1 0 3.3 0a1.65 1.65 0 1 0 -3.3 0M466.41 661.23a1.65 1.65 0 1 0 3.3 0a1.65 1.65 0 1 0 -3.3 0M505.46 593.97a1.65 1.65 0 1 0 3.3 0a1.65 1.65 0 1 0 -3.3 0M471.88 594.07a1.65 1.65 0 1 0 3.3 0a1.65 1.65 0 1 0 -3.3 0M499.21 658.36a1.65 1.65 0 1 0 3.3 0a1.65 1.65 0 1 0 -3.3 0M453.27 650.8a1.65 1.65 0 1 0 3.3 0a1.65 1.65 0 1 0 -3.3 0M469.55 635.22a1.65 1.65 0 1 0 3.3 0a1.65 1.65 0 1 0 -3.3 0M499.16 664.98a1.65 1.65 0 1 0 3.3 0a1.65 1.65 0 1 0 -3.3 0M485 599.81a1.65 1.65 0 1 0 3.3 0a1.65 1.65 0 1 0 -3.3 0M508.63 607.58a1.65 1.65 0 1 0 3.3 0a1.65 1.65 0 1 0 -3.3 0M437.11 610.01a1.65 1.65 0 1 0 3.3 0a1.65 1.65 0 1 0 -3.3 0M432.07 651.33a1.65 1.65 0 1 0 3.3 0a1.65 1.65 0 1 0 -3.3 0M430.44 633.19a1.65 1.65 0 1 0 3.3 0a1.65 1.65 0 1 0 -3.3 0M488.72 655.04a1.65 1.65 0 1 0 3.3 0a1.65 1.65 0 1 0 -3.3 0M394.75 634.75a1.65 1.65 0 1 0 3.3 0a1.65 1.65 0 1 0 -3.3 0M505.4 607.53a1.65 1.65 0 1 0 3.3 0a1.65 1.65 0 1 0 -3.3 0M473.16 608.39a1.65 1.65 0 1 0 3.3 0a1.65 1.65 0 1 0 -3.3 0M391.86 651.76a1.65 1.65 0 1 0 3.3 0a1.65 1.65 0 1 0 -3.3 0M493.33 634.84a1.65 1.65 0 1 0 3.3 0a1.65 1.65 0 1 0 -3.3 0M433.74 596.28a1.65 1.65 0 1 0 3.3 0a1.65 1.65 0 1 0 -3.3 0M506.13 603.83a1.65 1.65 0 1 0 3.3 0a1.65 1.65 0 1 0 -3.3 0M418.44 631.43a1.65 1.65 0 1 0 3.3 0a1.65 1.65 0 1 0 -3.3 0M454.44 639.39a1.65 1.65 0 1 0 3.3 0a1.65 1.65 0 1 0 -3.3 0M407.97 613.58a1.65 1.65 0 1 0 3.3 0a1.65 1.65 0 1 0 -3.3 0M398.8 619.02a1.65 1.65 0 1 0 3.3 0a1.65 1.65 0 1 0 -3.3 0M403.24 609.43a1.65 1.65 0 1 0 3.3 0a1.65 1.65 0 1 0 -3.3 0M405.11 612.92a1.65 1.65 0 1 0 3.3 0a1.65 1.65 0 1 0 -3.3 0M399.58 611.96a1.65 1.65 0 1 0 3.3 0a1.65 1.65 0 1 0 -3.3 0M408.68 613.82a1.65 1.65 0 1 0 3.3 0a1.65 1.65 0 1 0 -3.3 0M400.71 620.75a1.65 1.65 0 1 0 3.3 0a1.65 1.65 0 1 0 -3.3 0M406.49 603.05a1.65 1.65 0 1 0 3.3 0a1.65 1.65 0 1 0 -3.3 0M404.78 614.28a1.65 1.65 0 1 0 3.3 0a1.65 1.65 0 1 0 -3.3 0M412.11 614.84a1.65 1.65 0 1 0 3.3 0a1.65 1.65 0 1 0 -3.3 0M395.05 504.55a1.65 1.65 0 1 0 3.3 0a1.65 1.65 0 1 0 -3.3 0M393.43 518.4a1.65 1.65 0 1 0 3.3 0a1.65 1.65 0 1 0 -3.3 0M395.05 524.18a1.65 1.65 0 1 0 3.3 0a1.65 1.65 0 1 0 -3.3 0M404.77 553.03a1.65 1.65 0 1 0 3.3 0a1.65 1.65 0 1 0 -3.3 0M407.04 549.57a1.65 1.65 0 1 0 3.3 0a1.65 1.65 0 1 0 -3.3 0M409.63 548.42a1.65 1.65 0 1 0 3.3 0a1.65 1.65 0 1 0 -3.3 0M414.49 551.88a1.65 1.65 0 1 0 3.3 0a1.65 1.65 0 1 0 -3.3 0M425.83 553.03a1.65 1.65 0 1 0 3.3 0a1.65 1.65 0 1 0 -3.3 0M440.41 563.42a1.65 1.65 0 1 0 3.3 0a1.65 1.65 0 1 0 -3.3 0M451.75 572.66a1.65 1.65 0 1 0 3.3 0a1.65 1.65 0 1 0 -3.3 0M404.77 578.43a1.65 1.65 0 1 0 3.3 0a1.65 1.65 0 1 0 -3.3 0M407.04 579.58a1.65 1.65 0 1 0 3.3 0a1.65 1.65 0 1 0 -3.3 0M390.19 586.51a1.65 1.65 0 1 0 3.3 0a1.65 1.65 0 1 0 -3.3 0M519.79 601.51a1.65 1.65 0 1 0 3.3 0a1.65 1.65 0 1 0 -3.3 0M526.27 606.13a1.65 1.65 0 1 0 3.3 0a1.65 1.65 0 1 0 -3.3 0M548.95 610.75a1.65 1.65 0 1 0 3.3 0a1.65 1.65 0 1 0 -3.3 0M578.11 636.14a1.65 1.65 0 1 0 3.3 0a1.65 1.65 0 1 0 -3.3 0M539.23 639.61a1.65 1.65 0 1 0 3.3 0a1.65 1.65 0 1 0 -3.3 0M467.95 589.97a1.65 1.65 0 1 0 3.3 0a1.65 1.65 0 1 0 -3.3 0M438.79 586.51a1.65 1.65 0 1 0 3.3 0a1.65 1.65 0 1 0 -3.3 0M403.15 589.97a1.65 1.65 0 1 0 3.3 0a1.65 1.65 0 1 0 -3.3 0" stroke="#dedd84" stroke-width="0.8" fill="none"/>
<path d="M496.52 628.01a1.65 1.65 0 1 0 3.3 0a1.65 1.65 0 1 0 -3.3 0M470.4 603a1.65 1.65 0 1 0 3.3 0a1.65 1.65 0 1 0 -3.3 0M464.22 652.27a1.65 1.65 0 1 0 3.3 0a1.65 1.65 0 1 0 -3.3 0M566.59 605.3a1.65 1.65 0 1 0 3.3 0a1.65 1.65 0 1 0 -3.3 0M451.93 644.01a1.65 1.65 0 1 0 3.3 0a1.65 1.65 0 1 0 -3.3 0M492 620.01a1.65 1.65 0 1 0 3.3 0a1.65 1.65 0 1 0 -3.3 0M387.72 659.27a1.65 1.65 0 1 0 3.3 0a1.65 1.65 0 1 0 -3.3 0M402.3 599.42a1.65 1.65 0 1 0 3.3 0a1.65 1.65 0 1 0 -3.3 0M430.34 606.49a1.65 1.65 0 1 0 3.3 0a1.65 1.65 0 1 0 -3.3 0M484.3 604.22a1.65 1.65 0 1 0 3.3 0a1.65 1.65 0 1 0 -3.3 0M427.61 608.57a1.65 1.65 0 1 0 3.3 0a1.65 1.65 0 1 0 -3.3 0M484.09 656.06a1.65 1.65 0 1 0 3.3 0a1.65 1.65 0 1 0 -3.3 0M432.64 629.17a1.65 1.65 0 1 0 3.3 0a1.65 1.65 0 1 0 -3.3 0M387.65 627.92a1.65 1.65 0 1 0 3.3 0a1.65 1.65 0 1 0 -3.3 0M464.63 659.86a1.65 1.65 0 1 0 3.3 0a1.65 1.65 0 1 0 -3.3 0M416.78 659.79a1.65 1.65 0 1 0 3.3 0a1.65 1.65 0 1 0 -3.3 0M426.07 653.11a1.65 1.65 0 1 0 3.3 0a1.65 1.65 0 1 0 -3.3 0M423.56 614.38a1.65 1.65 0 1 0 3.3 0a1.65 1.65 0 1 0 -3.3 0M476.97 601.75a1.65 1.65 0 1 0 3.3 0a1.65 1.65 0 1 0 -3.3 0M408.07 615.04a1.65 1.65 0 1 0 3.3 0a1.65 1.65 0 1 0 -3.3 0M405.77 619.1a1.65 1.65 0 1 0 3.3 0a1.65 1.65 0 1 0 -3.3 0M405.43 604.43a1.65 1.65 0 1 0 3.3 0a1.65 1.65 0 1 0 -3.3 0M397.18 614.22a1.65 1.65 0 1 0 3.3 0a1.65 1.65 0 1 0 -3.3 0M408.48 606.2a1.65 1.65 0 1 0 3.3 0a1.65 1.65 0 1 0 -3.3 0M413.08 607.29a1.65 1.65 0 1 0 3.3 0a1.65 1.65 0 1 0 -3.3 0M414.04 610.66a1.65 1.65 0 1 0 3.3 0a1.65 1.65 0 1 0 -3.3 0M404.25 613.76a1.65 1.65 0 1 0 3.3 0a1.65 1.65 0 1 0 -3.3 0M402.25 603.18a1.65 1.65 0 1 0 3.3 0a1.65 1.65 0 1 0 -3.3 0M415.6 606.77a1.65 1.65 0 1 0 3.3 0a1.65 1.65 0 1 0 -3.3 0M406.71 608.25a1.65 1.65 0 1 0 3.3 0a1.65 1.65 0 1 0 -3.3 0M402.06 605.54a1.65 1.65 0 1 0 3.3 0a1.65 1.65 0 1 0 -3.3 0M404.34 608.95a1.65 1.65 0 1 0 3.3 0a1.65 1.65 0 1 0 -3.3 0" stroke="#e4cf48" stroke-width="0.8" fill="none"/>
<path d="M411.41 614.91a1.65 1.65 0 1 0 3.3 0a1.65 1.65 0 1 0 -3.3 0M411.43 616a1.65 1.65 0 1 0 3.3 0a1.65 1.65 0 1 0 -3.3 0M403.83 619.3a1.65 1.65 0 1 0 3.3 0a1.65 1.65 0 1 0 -3.3 0M410.41 605.78a1.65 1.65 0 1 0 3.3 0a1.65 1.65 0 1 0 -3.3 0M411.73 616.27a1.65 1.65 0 1 0 3.3 0a1.65 1.65 0 1 0 -3.3 0M408.35 662.34a1.65 1.65 0 1 0 3.3 0a1.65 1.65 0 1 0 -3.3 0M410.2 649.24a1.65 1.65 0 1 0 3.3 0a1.65 1.65 0 1 0 -3.3 0M398.75 664.13a1.65 1.65 0 1 0 3.3 0a1.65 1.65 0 1 0 -3.3 0M419.35 656.92a1.65 1.65 0 1 0 3.3 0a1.65 1.65 0 1 0 -3.3 0M416.11 648.84a1.65 1.65 0 1 0 3.3 0a1.65 1.65 0 1 0 -3.3 0" stroke="#ec9c24" stroke-width="0.8" fill="none"/>
<path d="M387.47 652.41a1.65 1.65 0 1 0 3.3 0a1.65 1.65 0 1 0 -3.3 0M387.73 647.41a1.65 1.65 0 1 0 3.3 0a1.65 1.65 0 1 0 -3.3 0M402.23 649.92a1.65 1.65 0 1 0 3.3 0a1.65 1.65 0 1 0 -3.3 0M407.52 652.89a1.65 1.65 0 1 0 3.3 0a1.65 1.65 0 1 0 -3.3 0M411.35 653.65a1.65 1.65 0 1 0 3.3 0a1.65 1.65 0 1 0 -3.3 0M396.3 654.14a1.65 1.65 0 1 0 3.3 0a1.65 1.65 0 1 0 -3.3 0M403.84 662.87a1.65 1.65 0 1 0 3.3 0a1.65 1.65 0 1 0 -3.3 0M410.9 657.88a1.65 1.65 0 1 0 3.3 0a1.65 1.65 0 1 0 -3.3 0M400.31 659.47a1.65 1.65 0 1 0 3.3 0a1.65 1.65 0 1 0 -3.3 0M397.42 652.68a1.65 1.65 0 1 0 3.3 0a1.65 1.65 0 1 0 -3.3 0M404.24 658.67a1.65 1.65 0 1 0 3.3 0a1.65 1.65 0 1 0 -3.3 0M407.65 660.47a1.65 1.65 0 1 0 3.3 0a1.65 1.65 0 1 0 -3.3 0M403.36 651.83a1.65 1.65 0 1 0 3.3 0a1.65 1.65 0 1 0 -3.3 0M410.24 663.68a1.65 1.65 0 1 0 3.3 0a1.65 1.65 0 1 0 -3.3 0M409.9 663.93a1.65 1.65 0 1 0 3.3 0a1.65 1.65 0 1 0 -3.3 0M399.14 651.84a1.65 1.65 0 1 0 3.3 0a1.65 1.65 0 1 0 -3.3 0M392.1 658.11a1.65 1.65 0 1 0 3.3 0a1.65 1.65 0 1 0 -3.3 0M457.58 607.75a1.65 1.65 0 1 0 3.3 0a1.65 1.65 0 1 0 -3.3 0M444.3 619.98a1.65 1.65 0 1 0 3.3 0a1.65 1.65 0 1 0 -3.3 0M459.2 626.91a1.65 1.65 0 1 0 3.3 0a1.65 1.65 0 1 0 -3.3 0M475.73 630.02a1.65 1.65 0 1 0 3.3 0a1.65 1.65 0 1 0 -3.3 0M471.19 635.33a1.65 1.65 0 1 0 3.3 0a1.65 1.65 0 1 0 -3.3 0M448.19 637.3a1.65 1.65 0 1 0 3.3 0a1.65 1.65 0 1 0 -3.3 0M454.67 639.61a1.65 1.65 0 1 0 3.3 0a1.65 1.65 0 1 0 -3.3 0M484.8 637.3a1.65 1.65 0 1 0 3.3 0a1.65 1.65 0 1 0 -3.3 0M487.39 641.91a1.65 1.65 0 1 0 3.3 0a1.65 1.65 0 1 0 -3.3 0M451.75 645.38a1.65 1.65 0 1 0 3.3 0a1.65 1.65 0 1 0 -3.3 0M454.67 647.69a1.65 1.65 0 1 0 3.3 0a1.65 1.65 0 1 0 -3.3 0M459.53 646.53a1.65 1.65 0 1 0 3.3 0a1.65 1.65 0 1 0 -3.3 0M465.36 646.53a1.65 1.65 0 1 0 3.3 0a1.65 1.65 0 1 0 -3.3 0M480.26 646.53a1.65 1.65 0 1 0 3.3 0a1.65 1.65 0 1 0 -3.3 0M489.01 646.53a1.65 1.65 0 1 0 3.3 0a1.65 1.65 0 1 0 -3.3 0M438.79 650.22a1.65 1.65 0 1 0 3.3 0a1.65 1.65 0 1 0 -3.3 0M457.91 652.76a1.65 1.65 0 1 0 3.3 0a1.65 1.65 0 1 0 -3.3 0M471.84 654.38a1.65 1.65 0 1 0 3.3 0a1.65 1.65 0 1 0 -3.3 0M494.84 651.84a1.65 1.65 0 1 0 3.3 0a1.65 1.65 0 1 0 -3.3 0M448.51 658.07a1.65 1.65 0 1 0 3.3 0a1.65 1.65 0 1 0 -3.3 0M449.48 656.34a1.65 1.65 0 1 0 3.3 0a1.65 1.65 0 1 0 -3.3 0M460.17 661.54a1.65 1.65 0 1 0 3.3 0a1.65 1.65 0 1 0 -3.3 0M460.82 656.92a1.65 1.65 0 1 0 3.3 0a1.65 1.65 0 1 0 -3.3 0M468.6 659.23a1.65 1.65 0 1 0 3.3 0a1.65 1.65 0 1 0 -3.3 0M478.97 656.92a1.65 1.65 0 1 0 3.3 0a1.65 1.65 0 1 0 -3.3 0M481.88 654.61a1.65 1.65 0 1 0 3.3 0a1.65 1.65 0 1 0 -3.3 0M486.42 660.38a1.65 1.65 0 1 0 3.3 0a1.65 1.65 0 1 0 -3.3 0M488.36 656.92a1.65 1.65 0 1 0 3.3 0a1.65 1.65 0 1 0 -3.3 0M473.78 664.19a1.65 1.65 0 1 0 3.3 0a1.65 1.65 0 1 0 -3.3 0M477.02 664.19a1.65 1.65 0 1 0 3.3 0a1.65 1.65 0 1 0 -3.3 0M484.15 662.35a1.65 1.65 0 1 0 3.3 0a1.65 1.65 0 1 0 -3.3 0M394.73 616.75a1.65 1.65 0 1 0 3.3 0a1.65 1.65 0 1 0 -3.3 0M392.13 628.06a1.65 1.65 0 1 0 3.3 0a1.65 1.65 0 1 0 -3.3 0M395.05 625.75a1.65 1.65 0 1 0 3.3 0a1.65 1.65 0 1 0 -3.3 0M397.64 623.45a1.65 1.65 0 1 0 3.3 0a1.65 1.65 0 1 0 -3.3 0M393.43 636.14a1.65 1.65 0 1 0 3.3 0a1.65 1.65 0 1 0 -3.3 0M396.67 633.83a1.65 1.65 0 1 0 3.3 0a1.65 1.65 0 1 0 -3.3 0M398.29 632.68a1.65 1.65 0 1 0 3.3 0a1.65 1.65 0 1 0 -3.3 0M394.08 641.91a1.65 1.65 0 1 0 3.3 0a1.65 1.65 0 1 0 -3.3 0M396.67 639.61a1.65 1.65 0 1 0 3.3 0a1.65 1.65 0 1 0 -3.3 0M401.21 637.76a1.65 1.65 0 1 0 3.3 0a1.65 1.65 0 1 0 -3.3 0M407.69 640.76a1.65 1.65 0 1 0 3.3 0a1.65 1.65 0 1 0 -3.3 0M410.6 623.45a1.65 1.65 0 1 0 3.3 0a1.65 1.65 0 1 0 -3.3 0M430.04 623.45a1.65 1.65 0 1 0 3.3 0a1.65 1.65 0 1 0 -3.3 0M444.3 619.98a1.65 1.65 0 1 0 3.3 0a1.65 1.65 0 1 0 -3.3 0M435.87 611.9a1.65 1.65 0 1 0 3.3 0a1.65 1.65 0 1 0 -3.3 0M429.39 636.14a1.65 1.65 0 1 0 3.3 0a1.65 1.65 0 1 0 -3.3 0M422.59 641.91a1.65 1.65 0 1 0 3.3 0a1.65 1.65 0 1 0 -3.3 0M425.18 644.22a1.65 1.65 0 1 0 3.3 0a1.65 1.65 0 1 0 -3.3 0M414.17 655.77a1.65 1.65 0 1 0 3.3 0a1.65 1.65 0 1 0 -3.3 0M415.46 651.15a1.65 1.65 0 1 0 3.3 0a1.65 1.65 0 1 0 -3.3 0M417.73 653.46a1.65 1.65 0 1 0 3.3 0a1.65 1.65 0 1 0 -3.3 0M419.35 654.61a1.65 1.65 0 1 0 3.3 0a1.65 1.65 0 1 0 -3.3 0M427.45 662.69a1.65 1.65 0 1 0 3.3 0a1.65 1.65 0 1 0 -3.3 0M430.69 658.07a1.65 1.65 0 1 0 3.3 0a1.65 1.65 0 1 0 -3.3 0M433.93 652.3a1.65 1.65 0 1 0 3.3 0a1.65 1.65 0 1 0 -3.3 0M438.79 660.38a1.65 1.65 0 1 0 3.3 0a1.65 1.65 0 1 0 -3.3 0M435.55 655.77a1.65 1.65 0 1 0 3.3 0a1.65 1.65 0 1 0 -3.3 0M432.31 663.85a1.65 1.65 0 1 0 3.3 0a1.65 1.65 0 1 0 -3.3 0M388.57 663.85a1.65 1.65 0 1 0 3.3 0a1.65 1.65 0 1 0 -3.3 0M403.15 662.69a1.65 1.65 0 1 0 3.3 0a1.65 1.65 0 1 0 -3.3 0M393.43 544.95a1.65 1.65 0 1 0 3.3 0a1.65 1.65 0 1 0 -3.3 0M391.81 562.27a1.65 1.65 0 1 0 3.3 0a1.65 1.65 0 1 0 -3.3 0M451.75 586.51a1.65 1.65 0 1 0 3.3 0a1.65 1.65 0 1 0 -3.3 0M451.75 607.28a1.65 1.65 0 1 0 3.3 0a1.65 1.65 0 1 0 -3.3 0M425.83 613.06a1.65 1.65 0 1 0 3.3 0a1.65 1.65 0 1 0 -3.3 0M532.75 638.45a1.65 1.65 0 1 0 3.3 0a1.65 1.65 0 1 0 -3.3 0" stroke="#8a4a70" stroke-width="0.8" fill="none"/>
<path d="M387.94 653.65a1.65 1.65 0 1 0 3.3 0a1.65 1.65 0 1 0 -3.3 0M400.84 643.76a1.65 1.65 0 1 0 3.3 0a1.65 1.65 0 1 0 -3.3 0M408.53 643.66a1.65 1.65 0 1 0 3.3 0a1.65 1.65 0 1 0 -3.3 0M394.83 651.96a1.65 1.65 0 1 0 3.3 0a1.65 1.65 0 1 0 -3.3 0M400.98 646.47a1.65 1.65 0 1 0 3.3 0a1.65 1.65 0 1 0 -3.3 0M402.84 649.19a1.65 1.65 0 1 0 3.3 0a1.65 1.65 0 1 0 -3.3 0M391.34 650.67a1.65 1.65 0 1 0 3.3 0a1.65 1.65 0 1 0 -3.3 0M393.84 652.29a1.65 1.65 0 1 0 3.3 0a1.65 1.65 0 1 0 -3.3 0M387.09 658.43a1.65 1.65 0 1 0 3.3 0a1.65 1.65 0 1 0 -3.3 0M402.89 656.92a1.65 1.65 0 1 0 3.3 0a1.65 1.65 0 1 0 -3.3 0M391.32 658.26a1.65 1.65 0 1 0 3.3 0a1.65 1.65 0 1 0 -3.3 0M403.77 653.53a1.65 1.65 0 1 0 3.3 0a1.65 1.65 0 1 0 -3.3 0M398.96 662.58a1.65 1.65 0 1 0 3.3 0a1.65 1.65 0 1 0 -3.3 0M407.97 650.89a1.65 1.65 0 1 0 3.3 0a1.65 1.65 0 1 0 -3.3 0M393.58 657.72a1.65 1.65 0 1 0 3.3 0a1.65 1.65 0 1 0 -3.3 0M387 660.54a1.65 1.65 0 1 0 3.3 0a1.65 1.65 0 1 0 -3.3 0M398.51 651.28a1.65 1.65 0 1 0 3.3 0a1.65 1.65 0 1 0 -3.3 0M408 645.58a1.65 1.65 0 1 0 3.3 0a1.65 1.65 0 1 0 -3.3 0M400.95 651.64a1.65 1.65 0 1 0 3.3 0a1.65 1.65 0 1 0 -3.3 0M409.38 664.39a1.65 1.65 0 1 0 3.3 0a1.65 1.65 0 1 0 -3.3 0M394.09 653.4a1.65 1.65 0 1 0 3.3 0a1.65 1.65 0 1 0 -3.3 0M387.44 660.5a1.65 1.65 0 1 0 3.3 0a1.65 1.65 0 1 0 -3.3 0M405.66 651.67a1.65 1.65 0 1 0 3.3 0a1.65 1.65 0 1 0 -3.3 0M389.11 651.17a1.65 1.65 0 1 0 3.3 0a1.65 1.65 0 1 0 -3.3 0M409.03 659.91a1.65 1.65 0 1 0 3.3 0a1.65 1.65 0 1 0 -3.3 0" stroke="#de2222" stroke-width="0.8" fill="none"/>
<line x1="381.3" y1="610.7" x2="585.3" y2="653.6" stroke="#e0dc8a" stroke-width="0.9" stroke-dasharray="3 2" stroke-opacity="1"/>
<line x1="381.3" y1="645.3" x2="585.3" y2="652" stroke="#7a3050" stroke-width="0.9" stroke-dasharray="3 2" stroke-opacity="1"/>
<line x1="381.3" y1="628.1" x2="585.3" y2="641.3" stroke="#222" stroke-width="0.9" stroke-dasharray="3 2" stroke-opacity="1"/>
</g>
<text transform="matrix(1.06 0 0 1 488.6 518.3)" font-size="12.3" font-weight="bold" fill="#f2b526">Meta-free*</text>
<text transform="matrix(1.06 0 0 1 488.6 531.3)" font-size="12.3" font-weight="bold" fill="#f2b526">Corr = -0.31</text>
<text transform="matrix(1.06 0 0 1 488.6 556.6)" font-size="12.3" font-weight="bold" fill="#000">All*</text>
<text transform="matrix(1.06 0 0 1 488.6 569.2)" font-size="12.3" font-weight="bold" fill="#000">Corr = -0.10</text>
<rect x="63.6" y="730.5" width="94.9" height="124.5" stroke="#8a8a8a" fill="none" stroke-width="1"/>
<text x="64.6" y="732" font-size="4.3" text-anchor="end" font-weight="normal" font-style="normal" fill="#444">1</text>
<text x="64.6" y="763.1" font-size="4.3" text-anchor="end" font-weight="normal" font-style="normal" fill="#444">0.1</text>
<text x="64.6" y="793.9" font-size="4.3" text-anchor="end" font-weight="normal" font-style="normal" fill="#444">0.01</text>
<text x="64.6" y="824.3" font-size="4.3" text-anchor="end" font-weight="normal" font-style="normal" fill="#444">0.001</text>
<text x="64.6" y="855.8" font-size="4.3" text-anchor="end" font-weight="normal" font-style="normal" fill="#444">0.0001</text>
<line x1="89.7" y1="786.6" x2="89.7" y2="799.4" stroke="#444" stroke-width="0.9"/>
<line x1="89.7" y1="820.4" x2="89.7" y2="833.3" stroke="#444" stroke-width="0.9"/>
<line x1="87.7" y1="786.6" x2="91.7" y2="786.6" stroke="#444" stroke-width="0.9"/>
<line x1="87.7" y1="833.3" x2="91.7" y2="833.3" stroke="#444" stroke-width="0.9"/>
<rect x="76.6" y="799.4" width="26.2" height="21" stroke="#444" fill="#fff" stroke-width="0.9"/>
<line x1="76.6" y1="810" x2="102.8" y2="810" stroke="#444" stroke-width="0.9"/>
<circle cx="89.7" cy="782.6" r="1.3" fill="#111"/>
<circle cx="89.7" cy="839" r="1.3" fill="#111"/>
<circle cx="89.7" cy="841.5" r="1.3" fill="#111"/>
<line x1="132.7" y1="755" x2="132.7" y2="763.9" stroke="#444" stroke-width="0.9"/>
<line x1="132.7" y1="798.3" x2="132.7" y2="805.3" stroke="#444" stroke-width="0.9"/>
<line x1="130.7" y1="755" x2="134.7" y2="755" stroke="#444" stroke-width="0.9"/>
<line x1="130.7" y1="805.3" x2="134.7" y2="805.3" stroke="#444" stroke-width="0.9"/>
<rect x="119.6" y="763.9" width="26.2" height="34.4" stroke="#444" fill="#c4c4c4" stroke-width="0.9"/>
<line x1="119.6" y1="783" x2="145.8" y2="783" stroke="#444" stroke-width="0.9"/>
<circle cx="132.7" cy="746.9" r="1.3" fill="#111"/>
<circle cx="132.7" cy="811.1" r="1.3" fill="#111"/>
<text x="75.4" y="745.1" font-size="10.2" font-weight="bold" fill="#000"><tspan font-style="italic">P</tspan>&lt;0.01</text>
<text x="86" y="867" font-size="12" text-anchor="middle" font-weight="normal" font-style="normal" fill="#111">N</text>
<text x="130.8" y="867" font-size="12" text-anchor="middle" font-weight="normal" font-style="normal" fill="#111">T</text>
<text x="33" y="790.5" font-size="10.6" font-weight="bold" text-anchor="middle" fill="#000" transform="rotate(-90 33 790.5)">Relative <tspan font-style="italic">CBX5</tspan> exp.</text>
<text x="46" y="790.5" font-size="10.6" font-weight="bold" text-anchor="middle" fill="#000" transform="rotate(-90 46 790.5)">level (2<tspan font-size="6.5" dy="-4">-dCT</tspan><tspan dy="4">)</tspan></text>
<rect x="170.4" y="731.6" width="93.6" height="119.6" stroke="#8a8a8a" fill="none" stroke-width="1"/>
<text x="171.3" y="734.2" font-size="4.3" text-anchor="end" font-weight="normal" font-style="normal" fill="#444">1</text>
<text x="171.3" y="764.4" font-size="4.3" text-anchor="end" font-weight="normal" font-style="normal" fill="#444">0.1</text>
<text x="171.3" y="794.1" font-size="4.3" text-anchor="end" font-weight="normal" font-style="normal" fill="#444">0.01</text>
<text x="171.3" y="823.7" font-size="4.3" text-anchor="end" font-weight="normal" font-style="normal" fill="#444">0.001</text>
<text x="171.3" y="853.9" font-size="4.3" text-anchor="end" font-weight="normal" font-style="normal" fill="#444">0.0001</text>
<line x1="196.3" y1="776.2" x2="196.3" y2="786.4" stroke="#444" stroke-width="0.9"/>
<line x1="196.3" y1="821.6" x2="196.3" y2="840.6" stroke="#444" stroke-width="0.9"/>
<line x1="194.3" y1="776.2" x2="198.3" y2="776.2" stroke="#444" stroke-width="0.9"/>
<line x1="194.3" y1="840.6" x2="198.3" y2="840.6" stroke="#444" stroke-width="0.9"/>
<rect x="183.3" y="786.4" width="26" height="35.2" stroke="#444" fill="#fff" stroke-width="0.9"/>
<line x1="183.3" y1="806.2" x2="209.3" y2="806.2" stroke="#444" stroke-width="0.9"/>
<circle cx="196.3" cy="770.5" r="1.3" fill="#111"/>
<circle cx="196.3" cy="776.2" r="1.3" fill="#111"/>
<circle cx="196.3" cy="840.2" r="1.3" fill="#111"/>
<circle cx="196.3" cy="845.1" r="1.3" fill="#111"/>
<line x1="237.9" y1="749.6" x2="237.9" y2="760.5" stroke="#444" stroke-width="0.9"/>
<line x1="237.9" y1="788.5" x2="237.9" y2="796.6" stroke="#444" stroke-width="0.9"/>
<line x1="235.9" y1="749.6" x2="239.9" y2="749.6" stroke="#444" stroke-width="0.9"/>
<line x1="235.9" y1="796.6" x2="239.9" y2="796.6" stroke="#444" stroke-width="0.9"/>
<rect x="225.2" y="760.5" width="25.4" height="28" stroke="#444" fill="#c4c4c4" stroke-width="0.9"/>
<line x1="225.2" y1="775.2" x2="250.6" y2="775.2" stroke="#444" stroke-width="0.9"/>
<circle cx="237.9" cy="740" r="1.3" fill="#111"/>
<circle cx="237.9" cy="749.6" r="1.3" fill="#111"/>
<circle cx="237.9" cy="803.4" r="1.3" fill="#111"/>
<text x="184.3" y="748.5" font-size="10.2" font-weight="bold" fill="#000"><tspan font-style="italic">P</tspan>&lt;0.01</text>
<text x="192.9" y="865" font-size="12" text-anchor="middle" font-weight="normal" font-style="normal" fill="#111">Local</text>
<text x="240.3" y="865" font-size="12" text-anchor="middle" font-weight="normal" font-style="normal" fill="#111">Meta</text>
<defs><filter id="bl" x="0" y="0" width="1" height="1"><feGaussianBlur stdDeviation="0.8"/></filter><filter id="bl2" x="0" y="0" width="1" height="1"><feGaussianBlur stdDeviation="0.9"/></filter><clipPath id="im1"><rect x="300" y="757" width="106.1" height="103"/></clipPath><clipPath id="im2"><rect x="408" y="757" width="106.6" height="103"/></clipPath></defs>
<g clip-path="url(#im1)"><rect x="300" y="757" width="106.1" height="103" fill="#c8c5c6"/>
<g filter="url(#bl)">
<ellipse cx="367.01" cy="835.34" rx="5.77" ry="2.48" fill="#cbc5c1" fill-opacity="0.8" transform="rotate(-18 367.01 835.34)"/>
<ellipse cx="299.31" cy="804.68" rx="4.6" ry="2.8" fill="#bfbcc1" fill-opacity="0.8" transform="rotate(-71 299.31 804.68)"/>
<ellipse cx="338.38" cy="849.4" rx="4.18" ry="2.15" fill="#c4c0c5" fill-opacity="0.8" transform="rotate(-84 338.38 849.4)"/>
<ellipse cx="379.35" cy="798.3" rx="5.67" ry="2.53" fill="#bfbcc1" fill-opacity="0.8" transform="rotate(-65 379.35 798.3)"/>
<ellipse cx="382.86" cy="760.98" rx="4.47" ry="1.25" fill="#d8d7d6" fill-opacity="0.8" transform="rotate(-85 382.86 760.98)"/>
<ellipse cx="406.85" cy="753.59" rx="5.84" ry="1.33" fill="#bfbcc1" fill-opacity="0.8" transform="rotate(-64 406.85 753.59)"/>
<ellipse cx="328.98" cy="859.72" rx="5.5" ry="2.25" fill="#d8d7d6" fill-opacity="0.8" transform="rotate(-62 328.98 859.72)"/>
<ellipse cx="403.27" cy="829.66" rx="3.2" ry="1.72" fill="#c4c0c5" fill-opacity="0.8" transform="rotate(-64 403.27 829.66)"/>
<ellipse cx="402.68" cy="782.28" rx="3.21" ry="2.21" fill="#cfccc9" fill-opacity="0.8" transform="rotate(-85 402.68 782.28)"/>
<ellipse cx="363.94" cy="831.55" rx="3.24" ry="2.64" fill="#d2d0cf" fill-opacity="0.8" transform="rotate(-24 363.94 831.55)"/>
<ellipse cx="375.39" cy="773.51" rx="4.82" ry="1.11" fill="#c4c0c5" fill-opacity="0.8" transform="rotate(-83 375.39 773.51)"/>
<ellipse cx="404.21" cy="792.7" rx="2.07" ry="2.58" fill="#c4c0c5" fill-opacity="0.8" transform="rotate(-39 404.21 792.7)"/>
<ellipse cx="338.91" cy="846.38" rx="2.19" ry="1.36" fill="#c4c0c5" fill-opacity="0.8" transform="rotate(-60 338.91 846.38)"/>
<ellipse cx="309.57" cy="780.32" rx="3.38" ry="1.71" fill="#c4c0c5" fill-opacity="0.8" transform="rotate(-18 309.57 780.32)"/>
<ellipse cx="324.6" cy="804.38" rx="4.99" ry="2.59" fill="#d8d7d6" fill-opacity="0.8" transform="rotate(-48 324.6 804.38)"/>
<ellipse cx="300.18" cy="857.98" rx="2.83" ry="2.03" fill="#d2d0cf" fill-opacity="0.8" transform="rotate(-39 300.18 857.98)"/>
<ellipse cx="400.66" cy="790.74" rx="4.18" ry="1.62" fill="#cbc5c1" fill-opacity="0.8" transform="rotate(-45 400.66 790.74)"/>
<ellipse cx="330.9" cy="841.66" rx="2.6" ry="2.38" fill="#cbc5c1" fill-opacity="0.8" transform="rotate(-24 330.9 841.66)"/>
<ellipse cx="314.41" cy="758.39" rx="4.13" ry="1.81" fill="#d8d7d6" fill-opacity="0.8" transform="rotate(-55 314.41 758.39)"/>
<ellipse cx="380.42" cy="791.17" rx="3.82" ry="1.84" fill="#cfccc9" fill-opacity="0.8" transform="rotate(-78 380.42 791.17)"/>
<ellipse cx="407.61" cy="823.85" rx="3.34" ry="1.41" fill="#c4c0c5" fill-opacity="0.8" transform="rotate(-13 407.61 823.85)"/>
<ellipse cx="404.28" cy="822.97" rx="2.43" ry="1.87" fill="#c4c0c5" fill-opacity="0.8" transform="rotate(-66 404.28 822.97)"/>
<ellipse cx="302.7" cy="799.69" rx="3.81" ry="3" fill="#bfbcc1" fill-opacity="0.8" transform="rotate(-64 302.7 799.69)"/>
<ellipse cx="407.26" cy="803.34" rx="4.76" ry="1.64" fill="#c4c0c5" fill-opacity="0.8" transform="rotate(-50 407.26 803.34)"/>
<ellipse cx="329.18" cy="797.82" rx="2.45" ry="2.64" fill="#bfbcc1" fill-opacity="0.8" transform="rotate(-17 329.18 797.82)"/>
<ellipse cx="405.42" cy="822.59" rx="5.47" ry="1.36" fill="#c4c0c5" fill-opacity="0.8" transform="rotate(-23 405.42 822.59)"/>
<ellipse cx="327.04" cy="839.8" rx="3.45" ry="2.57" fill="#d8d7d6" fill-opacity="0.8" transform="rotate(-40 327.04 839.8)"/>
<ellipse cx="375.18" cy="826.71" rx="3.45" ry="2.41" fill="#cfccc9" fill-opacity="0.8" transform="rotate(-50 375.18 826.71)"/>
<ellipse cx="391.22" cy="782.4" rx="4.86" ry="2.91" fill="#cbc5c1" fill-opacity="0.8" transform="rotate(-42 391.22 782.4)"/>
<ellipse cx="370.06" cy="817.45" rx="3.9" ry="2.55" fill="#d2d0cf" fill-opacity="0.8" transform="rotate(-44 370.06 817.45)"/>
<ellipse cx="372.57" cy="804.39" rx="4.59" ry="2.6" fill="#d8d7d6" fill-opacity="0.8" transform="rotate(-41 372.57 804.39)"/>
<ellipse cx="327.22" cy="791.36" rx="3.4" ry="2.69" fill="#c4c0c5" fill-opacity="0.8" transform="rotate(-28 327.22 791.36)"/>
<ellipse cx="407.28" cy="859.17" rx="2.57" ry="2.96" fill="#d8d7d6" fill-opacity="0.8" transform="rotate(-60 407.28 859.17)"/>
<ellipse cx="391.37" cy="857.05" rx="3.13" ry="1.16" fill="#c4c0c5" fill-opacity="0.8" transform="rotate(-32 391.37 857.05)"/>
<ellipse cx="315.59" cy="839.62" rx="4.07" ry="2.87" fill="#d8d7d6" fill-opacity="0.8" transform="rotate(-47 315.59 839.62)"/>
<ellipse cx="367.11" cy="838.99" rx="3.08" ry="2.99" fill="#cbc5c1" fill-opacity="0.8" transform="rotate(-60 367.11 838.99)"/>
<ellipse cx="314.24" cy="801.96" rx="2.72" ry="2.52" fill="#cbc5c1" fill-opacity="0.8" transform="rotate(-62 314.24 801.96)"/>
<ellipse cx="367.92" cy="757.65" rx="5.92" ry="1.33" fill="#c4c0c5" fill-opacity="0.8" transform="rotate(-68 367.92 757.65)"/>
<ellipse cx="308.63" cy="860.45" rx="2.77" ry="1.07" fill="#c4c0c5" fill-opacity="0.8" transform="rotate(-26 308.63 860.45)"/>
<ellipse cx="336.03" cy="826.54" rx="4.36" ry="1.48" fill="#d2d0cf" fill-opacity="0.8" transform="rotate(-38 336.03 826.54)"/>
<ellipse cx="296.08" cy="798" rx="5.42" ry="2.73" fill="#cfccc9" fill-opacity="0.8" transform="rotate(-15 296.08 798)"/>
<ellipse cx="338.62" cy="757" rx="3.21" ry="1.59" fill="#d8d7d6" fill-opacity="0.8" transform="rotate(-20 338.62 757)"/>
<ellipse cx="334.69" cy="817.48" rx="5.27" ry="1.84" fill="#cfccc9" fill-opacity="0.8" transform="rotate(-13 334.69 817.48)"/>
<ellipse cx="369.22" cy="794.01" rx="2.63" ry="1.77" fill="#bfbcc1" fill-opacity="0.8" transform="rotate(-24 369.22 794.01)"/>
<ellipse cx="405.12" cy="860.45" rx="2.36" ry="2.64" fill="#d8d7d6" fill-opacity="0.8" transform="rotate(-85 405.12 860.45)"/>
<ellipse cx="339.53" cy="789.19" rx="4.16" ry="1.65" fill="#d8d7d6" fill-opacity="0.8" transform="rotate(-13 339.53 789.19)"/>
<ellipse cx="338.85" cy="800.92" rx="3.97" ry="1.96" fill="#bfbcc1" fill-opacity="0.8" transform="rotate(-37 338.85 800.92)"/>
<ellipse cx="339.76" cy="847.9" rx="4.38" ry="1.52" fill="#bfbcc1" fill-opacity="0.8" transform="rotate(-47 339.76 847.9)"/>
<ellipse cx="352.58" cy="799.12" rx="5.78" ry="1.61" fill="#cfccc9" fill-opacity="0.8" transform="rotate(-49 352.58 799.12)"/>
<ellipse cx="312.34" cy="755.64" rx="4.49" ry="1.89" fill="#cbc5c1" fill-opacity="0.8" transform="rotate(-48 312.34 755.64)"/>
<ellipse cx="300.56" cy="768.14" rx="2.05" ry="2.07" fill="#c4c0c5" fill-opacity="0.8" transform="rotate(-50 300.56 768.14)"/>
<ellipse cx="323.76" cy="805.64" rx="2.98" ry="1.54" fill="#d2d0cf" fill-opacity="0.8" transform="rotate(-66 323.76 805.64)"/>
<ellipse cx="378.25" cy="784.72" rx="4.43" ry="1.95" fill="#c4c0c5" fill-opacity="0.8" transform="rotate(-8 378.25 784.72)"/>
<ellipse cx="396.4" cy="852.35" rx="5.04" ry="1.6" fill="#d2d0cf" fill-opacity="0.8" transform="rotate(-17 396.4 852.35)"/>
<ellipse cx="376.72" cy="821.11" rx="4.12" ry="1.93" fill="#cbc5c1" fill-opacity="0.8" transform="rotate(-39 376.72 821.11)"/>
<ellipse cx="373.72" cy="843.2" rx="2.15" ry="1.5" fill="#bfbcc1" fill-opacity="0.8" transform="rotate(-27 373.72 843.2)"/>
<ellipse cx="374.17" cy="764.94" rx="4.18" ry="1.03" fill="#cbc5c1" fill-opacity="0.8" transform="rotate(-31 374.17 764.94)"/>
<ellipse cx="363.82" cy="829.48" rx="4.6" ry="2.72" fill="#cbc5c1" fill-opacity="0.8" transform="rotate(-36 363.82 829.48)"/>
<ellipse cx="350.23" cy="828.74" rx="2.79" ry="1.59" fill="#cbc5c1" fill-opacity="0.8" transform="rotate(-77 350.23 828.74)"/>
<ellipse cx="330.62" cy="753.36" rx="4.33" ry="2.3" fill="#c4c0c5" fill-opacity="0.8" transform="rotate(-25 330.62 753.36)"/>
<ellipse cx="399.82" cy="768.84" rx="4.78" ry="2.78" fill="#c4c0c5" fill-opacity="0.8" transform="rotate(-43 399.82 768.84)"/>
<ellipse cx="357.33" cy="800.24" rx="5.25" ry="1.14" fill="#d8d7d6" fill-opacity="0.8" transform="rotate(-56 357.33 800.24)"/>
<ellipse cx="326.46" cy="762.46" rx="4.65" ry="1.05" fill="#d2d0cf" fill-opacity="0.8" transform="rotate(-31 326.46 762.46)"/>
<ellipse cx="407.57" cy="863.82" rx="3.95" ry="1.25" fill="#cbc5c1" fill-opacity="0.8" transform="rotate(-70 407.57 863.82)"/>
<ellipse cx="320.99" cy="824.68" rx="4.85" ry="1.27" fill="#d2d0cf" fill-opacity="0.8" transform="rotate(-48 320.99 824.68)"/>
<ellipse cx="376.46" cy="801.61" rx="4.44" ry="1.83" fill="#bfbcc1" fill-opacity="0.8" transform="rotate(-65 376.46 801.61)"/>
<ellipse cx="303.66" cy="776.66" rx="2.43" ry="1.76" fill="#d8d7d6" fill-opacity="0.8" transform="rotate(-76 303.66 776.66)"/>
<ellipse cx="327.91" cy="816.39" rx="4.97" ry="2.76" fill="#d2d0cf" fill-opacity="0.8" transform="rotate(-68 327.91 816.39)"/>
<ellipse cx="297.14" cy="763.15" rx="4.4" ry="1.98" fill="#cbc5c1" fill-opacity="0.8" transform="rotate(-38 297.14 763.15)"/>
<ellipse cx="400.29" cy="768.34" rx="2.6" ry="2.26" fill="#cfccc9" fill-opacity="0.8" transform="rotate(-21 400.29 768.34)"/>
<ellipse cx="329.09" cy="857.56" rx="4.48" ry="1.53" fill="#d8d7d6" fill-opacity="0.8" transform="rotate(-15 329.09 857.56)"/>
<ellipse cx="322.86" cy="845.42" rx="4.07" ry="1.27" fill="#cfccc9" fill-opacity="0.8" transform="rotate(-55 322.86 845.42)"/>
<ellipse cx="394.44" cy="803.32" rx="2.72" ry="2.43" fill="#c4c0c5" fill-opacity="0.8" transform="rotate(-42 394.44 803.32)"/>
<ellipse cx="305.72" cy="827.14" rx="5.45" ry="2.01" fill="#d2d0cf" fill-opacity="0.8" transform="rotate(-27 305.72 827.14)"/>
<ellipse cx="323.2" cy="850.34" rx="5.85" ry="1.22" fill="#c4c0c5" fill-opacity="0.8" transform="rotate(-18 323.2 850.34)"/>
<ellipse cx="299.36" cy="833.48" rx="5.39" ry="2.89" fill="#d2d0cf" fill-opacity="0.8" transform="rotate(-31 299.36 833.48)"/>
<ellipse cx="373.65" cy="777.76" rx="2.34" ry="2.82" fill="#d2d0cf" fill-opacity="0.8" transform="rotate(-23 373.65 777.76)"/>
<ellipse cx="389.55" cy="768.51" rx="3.5" ry="2.67" fill="#d8d7d6" fill-opacity="0.8" transform="rotate(-48 389.55 768.51)"/>
<ellipse cx="333.99" cy="821.13" rx="5.18" ry="1.76" fill="#cfccc9" fill-opacity="0.8" transform="rotate(-40 333.99 821.13)"/>
<ellipse cx="369.86" cy="842.3" rx="5.84" ry="1.72" fill="#c4c0c5" fill-opacity="0.8" transform="rotate(-81 369.86 842.3)"/>
<ellipse cx="363.56" cy="816.63" rx="2.72" ry="1.13" fill="#cbc5c1" fill-opacity="0.8" transform="rotate(-81 363.56 816.63)"/>
<ellipse cx="299.78" cy="775.47" rx="3.96" ry="2.87" fill="#d2d0cf" fill-opacity="0.8" transform="rotate(-41 299.78 775.47)"/>
<ellipse cx="296.05" cy="805.19" rx="5.69" ry="1.65" fill="#d8d7d6" fill-opacity="0.8" transform="rotate(-26 296.05 805.19)"/>
<ellipse cx="307.37" cy="770.17" rx="2.28" ry="2.74" fill="#bfbcc1" fill-opacity="0.8" transform="rotate(-25 307.37 770.17)"/>
<ellipse cx="313.34" cy="781.2" rx="5.27" ry="2.5" fill="#cfccc9" fill-opacity="0.8" transform="rotate(-55 313.34 781.2)"/>
<ellipse cx="299.78" cy="852.5" rx="5.7" ry="1.74" fill="#cfccc9" fill-opacity="0.8" transform="rotate(-78 299.78 852.5)"/>
<ellipse cx="374.4" cy="827.79" rx="5.4" ry="1.31" fill="#c4c0c5" fill-opacity="0.8" transform="rotate(-44 374.4 827.79)"/>
<ellipse cx="329.19" cy="827.87" rx="5.97" ry="1.07" fill="#cbc5c1" fill-opacity="0.8" transform="rotate(-82 329.19 827.87)"/>
<ellipse cx="361.52" cy="825.87" rx="3.6" ry="2.95" fill="#d8d7d6" fill-opacity="0.8" transform="rotate(-39 361.52 825.87)"/>
<ellipse cx="373.58" cy="773.48" rx="3.13" ry="2.46" fill="#cfccc9" fill-opacity="0.8" transform="rotate(-26 373.58 773.48)"/>
<ellipse cx="314.62" cy="779.7" rx="2.84" ry="1.09" fill="#cbc5c1" fill-opacity="0.8" transform="rotate(-8 314.62 779.7)"/>
<ellipse cx="345.09" cy="861.27" rx="3.85" ry="1.91" fill="#d2d0cf" fill-opacity="0.8" transform="rotate(-33 345.09 861.27)"/>
<ellipse cx="315.35" cy="756.69" rx="4.26" ry="2.88" fill="#d8d7d6" fill-opacity="0.8" transform="rotate(-76 315.35 756.69)"/>
<ellipse cx="323.02" cy="842.15" rx="5.74" ry="1.11" fill="#d2d0cf" fill-opacity="0.8" transform="rotate(-54 323.02 842.15)"/>
<ellipse cx="369.44" cy="808.21" rx="2.19" ry="2.67" fill="#d2d0cf" fill-opacity="0.8" transform="rotate(-28 369.44 808.21)"/>
<ellipse cx="330.88" cy="758.7" rx="5.8" ry="1.39" fill="#d2d0cf" fill-opacity="0.8" transform="rotate(-20 330.88 758.7)"/>
<ellipse cx="369.02" cy="773.87" rx="2.34" ry="1.63" fill="#bfbcc1" fill-opacity="0.8" transform="rotate(-72 369.02 773.87)"/>
<ellipse cx="305.9" cy="862.35" rx="4.39" ry="2.71" fill="#bfbcc1" fill-opacity="0.8" transform="rotate(-58 305.9 862.35)"/>
<ellipse cx="367.24" cy="801.97" rx="3.95" ry="2.14" fill="#cfccc9" fill-opacity="0.8" transform="rotate(-37 367.24 801.97)"/>
<ellipse cx="355.54" cy="767.73" rx="5.65" ry="1.62" fill="#d2d0cf" fill-opacity="0.8" transform="rotate(-28 355.54 767.73)"/>
<ellipse cx="397.63" cy="863.96" rx="2.46" ry="1.62" fill="#d8d7d6" fill-opacity="0.8" transform="rotate(-74 397.63 863.96)"/>
<ellipse cx="384.91" cy="782.25" rx="3.25" ry="1.26" fill="#c4c0c5" fill-opacity="0.8" transform="rotate(-75 384.91 782.25)"/>
<ellipse cx="349.76" cy="830.39" rx="5.87" ry="2.33" fill="#c4c0c5" fill-opacity="0.8" transform="rotate(-50 349.76 830.39)"/>
<ellipse cx="303" cy="830.77" rx="4.81" ry="2.59" fill="#d2d0cf" fill-opacity="0.8" transform="rotate(-38 303 830.77)"/>
<ellipse cx="396.95" cy="760.98" rx="3.52" ry="2.54" fill="#cfccc9" fill-opacity="0.8" transform="rotate(-85 396.95 760.98)"/>
<ellipse cx="398.15" cy="825.6" rx="4.3" ry="1.88" fill="#bfbcc1" fill-opacity="0.8" transform="rotate(-83 398.15 825.6)"/>
<ellipse cx="378.99" cy="830.83" rx="2.43" ry="2.61" fill="#cfccc9" fill-opacity="0.8" transform="rotate(-14 378.99 830.83)"/>
<ellipse cx="310.85" cy="760.32" rx="2.55" ry="2" fill="#bfbcc1" fill-opacity="0.8" transform="rotate(-44 310.85 760.32)"/>
<ellipse cx="328.55" cy="760.05" rx="4.23" ry="1.05" fill="#cbc5c1" fill-opacity="0.8" transform="rotate(-79 328.55 760.05)"/>
<ellipse cx="406.53" cy="844.74" rx="5.44" ry="2.9" fill="#c4c0c5" fill-opacity="0.8" transform="rotate(-7 406.53 844.74)"/>
<ellipse cx="297.9" cy="811.55" rx="3.45" ry="1.66" fill="#bfbcc1" fill-opacity="0.8" transform="rotate(-84 297.9 811.55)"/>
<ellipse cx="314.62" cy="821.73" rx="4.91" ry="1.19" fill="#bfbcc1" fill-opacity="0.8" transform="rotate(-18 314.62 821.73)"/>
<ellipse cx="365.08" cy="822.99" rx="3.78" ry="2.88" fill="#bfbcc1" fill-opacity="0.8" transform="rotate(-31 365.08 822.99)"/>
<ellipse cx="309.48" cy="788.2" rx="3.84" ry="1.87" fill="#bfbcc1" fill-opacity="0.8" transform="rotate(-29 309.48 788.2)"/>
<ellipse cx="301.52" cy="827.15" rx="4.13" ry="2.94" fill="#bfbcc1" fill-opacity="0.8" transform="rotate(-9 301.52 827.15)"/>
<ellipse cx="296.18" cy="767.08" rx="4.74" ry="1.42" fill="#c4c0c5" fill-opacity="0.8" transform="rotate(-85 296.18 767.08)"/>
<ellipse cx="299.75" cy="817.05" rx="4.82" ry="1.71" fill="#c4c0c5" fill-opacity="0.8" transform="rotate(-26 299.75 817.05)"/>
<ellipse cx="320.58" cy="783.75" rx="3.21" ry="2.03" fill="#bfbcc1" fill-opacity="0.8" transform="rotate(-55 320.58 783.75)"/>
<ellipse cx="337.8" cy="842.78" rx="5.36" ry="2.7" fill="#cbc5c1" fill-opacity="0.8" transform="rotate(-6 337.8 842.78)"/>
<ellipse cx="352.36" cy="791.76" rx="5.33" ry="1.98" fill="#bfbcc1" fill-opacity="0.8" transform="rotate(-81 352.36 791.76)"/>
<ellipse cx="306.69" cy="797.07" rx="3.13" ry="2.84" fill="#cbc5c1" fill-opacity="0.8" transform="rotate(-44 306.69 797.07)"/>
<ellipse cx="350.4" cy="805.19" rx="4.49" ry="2.6" fill="#d8d7d6" fill-opacity="0.8" transform="rotate(-37 350.4 805.19)"/>
<ellipse cx="374.51" cy="764.49" rx="4.35" ry="1.37" fill="#d8d7d6" fill-opacity="0.8" transform="rotate(-36 374.51 764.49)"/>
<ellipse cx="298.53" cy="828.25" rx="3.25" ry="1.77" fill="#d8d7d6" fill-opacity="0.8" transform="rotate(-25 298.53 828.25)"/>
<ellipse cx="358.2" cy="829.66" rx="5.93" ry="2.63" fill="#c4c0c5" fill-opacity="0.8" transform="rotate(-14 358.2 829.66)"/>
<ellipse cx="372.4" cy="812.58" rx="3.45" ry="2.19" fill="#c4c0c5" fill-opacity="0.8" transform="rotate(-19 372.4 812.58)"/>
<ellipse cx="319.57" cy="784.79" rx="2.35" ry="1.71" fill="#d2d0cf" fill-opacity="0.8" transform="rotate(-11 319.57 784.79)"/>
<ellipse cx="394.37" cy="857.45" rx="3.23" ry="2.86" fill="#c4c0c5" fill-opacity="0.8" transform="rotate(-50 394.37 857.45)"/>
<ellipse cx="401.93" cy="779.02" rx="5.01" ry="2.34" fill="#d2d0cf" fill-opacity="0.8" transform="rotate(-47 401.93 779.02)"/>
<ellipse cx="398.28" cy="829.33" rx="4.42" ry="2.12" fill="#cbc5c1" fill-opacity="0.8" transform="rotate(-24 398.28 829.33)"/>
<ellipse cx="354.9" cy="852.47" rx="3.37" ry="2.57" fill="#bfbcc1" fill-opacity="0.8" transform="rotate(-31 354.9 852.47)"/>
<ellipse cx="340.85" cy="753.33" rx="3.51" ry="2.5" fill="#c4c0c5" fill-opacity="0.8" transform="rotate(-18 340.85 753.33)"/>
<ellipse cx="398.55" cy="854.03" rx="3.29" ry="1.65" fill="#d8d7d6" fill-opacity="0.8" transform="rotate(-15 398.55 854.03)"/>
<ellipse cx="374.47" cy="862.2" rx="5.55" ry="1.43" fill="#bfbcc1" fill-opacity="0.8" transform="rotate(-46 374.47 862.2)"/>
<ellipse cx="386.9" cy="841.49" rx="5.59" ry="1.33" fill="#d2d0cf" fill-opacity="0.8" transform="rotate(-5 386.9 841.49)"/>
<ellipse cx="343.09" cy="773.58" rx="2.25" ry="2.13" fill="#cbc5c1" fill-opacity="0.8" transform="rotate(-16 343.09 773.58)"/>
<ellipse cx="379" cy="799.27" rx="3.93" ry="2.19" fill="#c4c0c5" fill-opacity="0.8" transform="rotate(-54 379 799.27)"/>
<ellipse cx="330.46" cy="784.16" rx="5.56" ry="1.66" fill="#d8d7d6" fill-opacity="0.8" transform="rotate(-32 330.46 784.16)"/>
<ellipse cx="299.47" cy="765.83" rx="4.22" ry="2.13" fill="#d8d7d6" fill-opacity="0.8" transform="rotate(-30 299.47 765.83)"/>
<ellipse cx="317.69" cy="818.99" rx="5.15" ry="1.66" fill="#cbc5c1" fill-opacity="0.8" transform="rotate(-76 317.69 818.99)"/>
<ellipse cx="303" cy="806.8" rx="5.83" ry="1.64" fill="#d8d7d6" fill-opacity="0.8" transform="rotate(-26 303 806.8)"/>
<ellipse cx="369.55" cy="855.87" rx="5.57" ry="2.23" fill="#bfbcc1" fill-opacity="0.8" transform="rotate(-24 369.55 855.87)"/>
<ellipse cx="391.75" cy="753.18" rx="2.63" ry="1.19" fill="#cbc5c1" fill-opacity="0.8" transform="rotate(-66 391.75 753.18)"/>
<ellipse cx="337.92" cy="837.41" rx="5.03" ry="2.47" fill="#d8d7d6" fill-opacity="0.8" transform="rotate(-62 337.92 837.41)"/>
<ellipse cx="377.29" cy="855.57" rx="4.5" ry="2.93" fill="#d8d7d6" fill-opacity="0.8" transform="rotate(-72 377.29 855.57)"/>
<ellipse cx="337.65" cy="843.38" rx="2.83" ry="1.75" fill="#bfbcc1" fill-opacity="0.8" transform="rotate(-27 337.65 843.38)"/>
<ellipse cx="397.56" cy="862.65" rx="2.98" ry="2.88" fill="#d2d0cf" fill-opacity="0.8" transform="rotate(-26 397.56 862.65)"/>
<ellipse cx="338.77" cy="766.05" rx="5.85" ry="1.27" fill="#d8d7d6" fill-opacity="0.8" transform="rotate(-85 338.77 766.05)"/>
<ellipse cx="352.49" cy="859.86" rx="2.29" ry="2.52" fill="#cbc5c1" fill-opacity="0.8" transform="rotate(-48 352.49 859.86)"/>
<ellipse cx="297.8" cy="842.86" rx="5" ry="1.39" fill="#cfccc9" fill-opacity="0.8" transform="rotate(-42 297.8 842.86)"/>
<ellipse cx="339.56" cy="785.26" rx="4.57" ry="2.53" fill="#c4c0c5" fill-opacity="0.8" transform="rotate(-74 339.56 785.26)"/>
<ellipse cx="361.63" cy="785.85" rx="5.77" ry="1.13" fill="#cfccc9" fill-opacity="0.8" transform="rotate(-30 361.63 785.85)"/>
<ellipse cx="301.75" cy="799.7" rx="3.08" ry="2.44" fill="#bfbcc1" fill-opacity="0.8" transform="rotate(-67 301.75 799.7)"/>
<ellipse cx="326.9" cy="763.66" rx="3.73" ry="1.36" fill="#c4c0c5" fill-opacity="0.8" transform="rotate(-36 326.9 763.66)"/>
<ellipse cx="393.53" cy="780.2" rx="3.42" ry="2.62" fill="#c4c0c5" fill-opacity="0.8" transform="rotate(-85 393.53 780.2)"/>
<ellipse cx="389.25" cy="768.63" rx="2.09" ry="2.12" fill="#d2d0cf" fill-opacity="0.8" transform="rotate(-36 389.25 768.63)"/>
<ellipse cx="394.97" cy="761.7" rx="2.78" ry="2.61" fill="#bfbcc1" fill-opacity="0.8" transform="rotate(-84 394.97 761.7)"/>
<ellipse cx="349.8" cy="762.47" rx="4.39" ry="2.68" fill="#cfccc9" fill-opacity="0.8" transform="rotate(-25 349.8 762.47)"/>
<ellipse cx="353.89" cy="758.88" rx="5.08" ry="2" fill="#c4c0c5" fill-opacity="0.8" transform="rotate(-10 353.89 758.88)"/>
<ellipse cx="403.14" cy="826.37" rx="4.54" ry="1.07" fill="#d8d7d6" fill-opacity="0.8" transform="rotate(-82 403.14 826.37)"/>
<ellipse cx="344.07" cy="833.28" rx="5.66" ry="1.76" fill="#c4c0c5" fill-opacity="0.8" transform="rotate(-64 344.07 833.28)"/>
<ellipse cx="397.66" cy="769.45" rx="3.69" ry="2.94" fill="#bfbcc1" fill-opacity="0.8" transform="rotate(-38 397.66 769.45)"/>
<ellipse cx="320.7" cy="799.78" rx="2.56" ry="1.73" fill="#cfccc9" fill-opacity="0.8" transform="rotate(-85 320.7 799.78)"/>
<ellipse cx="371.98" cy="766.69" rx="5.03" ry="1.15" fill="#bfbcc1" fill-opacity="0.8" transform="rotate(-37 371.98 766.69)"/>
<ellipse cx="300.09" cy="798.46" rx="2.79" ry="1.04" fill="#bfbcc1" fill-opacity="0.8" transform="rotate(-22 300.09 798.46)"/>
<ellipse cx="405.53" cy="819.48" rx="3.87" ry="1.15" fill="#bfbcc1" fill-opacity="0.8" transform="rotate(-39 405.53 819.48)"/>
<ellipse cx="402.88" cy="756.45" rx="5.25" ry="1.17" fill="#bfbcc1" fill-opacity="0.8" transform="rotate(-69 402.88 756.45)"/>
<ellipse cx="381.94" cy="794.4" rx="2.61" ry="2.04" fill="#bfbcc1" fill-opacity="0.8" transform="rotate(-14 381.94 794.4)"/>
<ellipse cx="306.27" cy="765.32" rx="3.6" ry="1.61" fill="#cbc5c1" fill-opacity="0.8" transform="rotate(-24 306.27 765.32)"/>
<ellipse cx="358.42" cy="802.21" rx="5.86" ry="1.28" fill="#bfbcc1" fill-opacity="0.8" transform="rotate(-83 358.42 802.21)"/>
<ellipse cx="358.17" cy="834.19" rx="2.95" ry="2.33" fill="#bfbcc1" fill-opacity="0.8" transform="rotate(-78 358.17 834.19)"/>
<ellipse cx="296.93" cy="838.6" rx="2.93" ry="2.43" fill="#c4c0c5" fill-opacity="0.8" transform="rotate(-55 296.93 838.6)"/>
<ellipse cx="386.39" cy="759.22" rx="2.95" ry="2.38" fill="#d8d7d6" fill-opacity="0.8" transform="rotate(-41 386.39 759.22)"/>
<ellipse cx="384.52" cy="814.91" rx="3.8" ry="2.31" fill="#c4c0c5" fill-opacity="0.8" transform="rotate(-38 384.52 814.91)"/>
<ellipse cx="360.83" cy="783.6" rx="5.75" ry="2.9" fill="#d8d7d6" fill-opacity="0.8" transform="rotate(-37 360.83 783.6)"/>
<ellipse cx="330.4" cy="771.5" rx="2.31" ry="1.9" fill="#cbc5c1" fill-opacity="0.8" transform="rotate(-58 330.4 771.5)"/>
<ellipse cx="356.28" cy="796.15" rx="3.2" ry="2.1" fill="#d8d7d6" fill-opacity="0.8" transform="rotate(-33 356.28 796.15)"/>
<ellipse cx="311.73" cy="791.96" rx="2.02" ry="2.13" fill="#c4c0c5" fill-opacity="0.8" transform="rotate(-13 311.73 791.96)"/>
<ellipse cx="347.75" cy="759.64" rx="2.47" ry="2.77" fill="#d2d0cf" fill-opacity="0.8" transform="rotate(-38 347.75 759.64)"/>
<ellipse cx="406.3" cy="782.23" rx="3.94" ry="1.29" fill="#cfccc9" fill-opacity="0.8" transform="rotate(-70 406.3 782.23)"/>
<ellipse cx="325.88" cy="845.04" rx="3.01" ry="1.33" fill="#cbc5c1" fill-opacity="0.8" transform="rotate(-54 325.88 845.04)"/>
<ellipse cx="376.03" cy="818.71" rx="5.66" ry="2.67" fill="#c4c0c5" fill-opacity="0.8" transform="rotate(-9 376.03 818.71)"/>
<ellipse cx="311.65" cy="758.77" rx="3.42" ry="1.25" fill="#cbc5c1" fill-opacity="0.8" transform="rotate(-27 311.65 758.77)"/>
<ellipse cx="300.94" cy="844.47" rx="4.7" ry="2.3" fill="#c4c0c5" fill-opacity="0.8" transform="rotate(-82 300.94 844.47)"/>
<ellipse cx="363.13" cy="766.04" rx="4.12" ry="1.89" fill="#cbc5c1" fill-opacity="0.8" transform="rotate(-12 363.13 766.04)"/>
<ellipse cx="321.25" cy="858.34" rx="4.82" ry="2.44" fill="#d2d0cf" fill-opacity="0.8" transform="rotate(-10 321.25 858.34)"/>
<ellipse cx="306.58" cy="760.42" rx="3.22" ry="2.05" fill="#c4c0c5" fill-opacity="0.8" transform="rotate(-16 306.58 760.42)"/>
<ellipse cx="378.18" cy="760.7" rx="4.72" ry="1.55" fill="#cbc5c1" fill-opacity="0.8" transform="rotate(-34 378.18 760.7)"/>
<ellipse cx="382.01" cy="781.71" rx="3.2" ry="2.76" fill="#cfccc9" fill-opacity="0.8" transform="rotate(-44 382.01 781.71)"/>
<ellipse cx="354.8" cy="853.12" rx="3.52" ry="2.31" fill="#c4c0c5" fill-opacity="0.8" transform="rotate(-52 354.8 853.12)"/>
<ellipse cx="331.87" cy="820.9" rx="2.35" ry="1.71" fill="#c4c0c5" fill-opacity="0.8" transform="rotate(-75 331.87 820.9)"/>
<ellipse cx="368.95" cy="801.59" rx="4.6" ry="1.35" fill="#d8d7d6" fill-opacity="0.8" transform="rotate(-68 368.95 801.59)"/>
<ellipse cx="400.32" cy="771.85" rx="3.79" ry="2.15" fill="#d8d7d6" fill-opacity="0.8" transform="rotate(-83 400.32 771.85)"/>
<ellipse cx="312.54" cy="782.73" rx="4.01" ry="2.9" fill="#c4c0c5" fill-opacity="0.8" transform="rotate(-58 312.54 782.73)"/>
<ellipse cx="359.3" cy="826.52" rx="4.21" ry="1.5" fill="#c4c0c5" fill-opacity="0.8" transform="rotate(-45 359.3 826.52)"/>
<ellipse cx="329.47" cy="764.97" rx="3.7" ry="2.69" fill="#cfccc9" fill-opacity="0.8" transform="rotate(-19 329.47 764.97)"/>
<ellipse cx="326.16" cy="822.86" rx="2.35" ry="2.63" fill="#cbc5c1" fill-opacity="0.8" transform="rotate(-71 326.16 822.86)"/>
<ellipse cx="334.35" cy="764.43" rx="3.14" ry="2.51" fill="#cbc5c1" fill-opacity="0.8" transform="rotate(-63 334.35 764.43)"/>
<ellipse cx="301.68" cy="860.91" rx="2.69" ry="1.67" fill="#c4c0c5" fill-opacity="0.8" transform="rotate(-52 301.68 860.91)"/>
<ellipse cx="307.38" cy="848.21" rx="3.25" ry="1.59" fill="#d2d0cf" fill-opacity="0.8" transform="rotate(-42 307.38 848.21)"/>
<ellipse cx="342.8" cy="849.53" rx="2.26" ry="1.14" fill="#d2d0cf" fill-opacity="0.8" transform="rotate(-80 342.8 849.53)"/>
<ellipse cx="403.55" cy="840.75" rx="3.63" ry="1.92" fill="#d8d7d6" fill-opacity="0.8" transform="rotate(-76 403.55 840.75)"/>
<ellipse cx="321.79" cy="755.98" rx="4.16" ry="2.3" fill="#d8d7d6" fill-opacity="0.8" transform="rotate(-20 321.79 755.98)"/>
<ellipse cx="332.86" cy="793.2" rx="3.86" ry="1.21" fill="#d2d0cf" fill-opacity="0.8" transform="rotate(-54 332.86 793.2)"/>
<ellipse cx="309.09" cy="812.65" rx="4.62" ry="2.33" fill="#d2d0cf" fill-opacity="0.8" transform="rotate(-37 309.09 812.65)"/>
<ellipse cx="345.87" cy="783.21" rx="3.82" ry="2.64" fill="#d8d7d6" fill-opacity="0.8" transform="rotate(-80 345.87 783.21)"/>
<ellipse cx="319.86" cy="810.13" rx="3.53" ry="2.27" fill="#bfbcc1" fill-opacity="0.8" transform="rotate(-61 319.86 810.13)"/>
<ellipse cx="333.13" cy="843.01" rx="2.28" ry="1.61" fill="#d8d7d6" fill-opacity="0.8" transform="rotate(-26 333.13 843.01)"/>
<ellipse cx="330.93" cy="814.37" rx="4.54" ry="1.51" fill="#d8d7d6" fill-opacity="0.8" transform="rotate(-64 330.93 814.37)"/>
<ellipse cx="380.83" cy="781.44" rx="3.62" ry="2.42" fill="#c4c0c5" fill-opacity="0.8" transform="rotate(-73 380.83 781.44)"/>
<ellipse cx="311.3" cy="775.5" rx="5.8" ry="2.54" fill="#cbc5c1" fill-opacity="0.8" transform="rotate(-29 311.3 775.5)"/>
<ellipse cx="409.72" cy="767.81" rx="4.57" ry="2.44" fill="#bfbcc1" fill-opacity="0.8" transform="rotate(-53 409.72 767.81)"/>
<ellipse cx="366.64" cy="848.16" rx="5.21" ry="1.96" fill="#bfbcc1" fill-opacity="0.8" transform="rotate(-47 366.64 848.16)"/>
<ellipse cx="362.16" cy="780.96" rx="4.79" ry="2.09" fill="#cfccc9" fill-opacity="0.8" transform="rotate(-14 362.16 780.96)"/>
<ellipse cx="309.94" cy="837.82" rx="4.31" ry="1.96" fill="#cfccc9" fill-opacity="0.8" transform="rotate(-23 309.94 837.82)"/>
<ellipse cx="395.74" cy="810.87" rx="3.13" ry="1.67" fill="#d8d7d6" fill-opacity="0.8" transform="rotate(-49 395.74 810.87)"/>
<ellipse cx="311.14" cy="799.63" rx="3.48" ry="2.55" fill="#c4c0c5" fill-opacity="0.8" transform="rotate(-48 311.14 799.63)"/>
<ellipse cx="370.68" cy="837.03" rx="2.13" ry="1.97" fill="#cbc5c1" fill-opacity="0.8" transform="rotate(-65 370.68 837.03)"/>
<ellipse cx="331.62" cy="847.69" rx="3.13" ry="2.64" fill="#cbc5c1" fill-opacity="0.8" transform="rotate(-10 331.62 847.69)"/>
<ellipse cx="373.04" cy="790.72" rx="4.1" ry="1.66" fill="#cbc5c1" fill-opacity="0.8" transform="rotate(-7 373.04 790.72)"/>
<ellipse cx="385.95" cy="754.58" rx="3.98" ry="1" fill="#d8d7d6" fill-opacity="0.8" transform="rotate(-24 385.95 754.58)"/>
<ellipse cx="383.95" cy="845.92" rx="2.91" ry="1" fill="#d2d0cf" fill-opacity="0.8" transform="rotate(-70 383.95 845.92)"/>
<ellipse cx="380" cy="771.76" rx="5.41" ry="1.48" fill="#bfbcc1" fill-opacity="0.8" transform="rotate(-34 380 771.76)"/>
<ellipse cx="370.21" cy="795.72" rx="5.45" ry="2.29" fill="#cbc5c1" fill-opacity="0.8" transform="rotate(-84 370.21 795.72)"/>
<ellipse cx="319.37" cy="779.18" rx="4.97" ry="2.01" fill="#d2d0cf" fill-opacity="0.8" transform="rotate(-30 319.37 779.18)"/>
<ellipse cx="362.37" cy="777.75" rx="3.49" ry="2.19" fill="#d2d0cf" fill-opacity="0.8" transform="rotate(-29 362.37 777.75)"/>
<ellipse cx="385.44" cy="833.65" rx="4.12" ry="1.01" fill="#cfccc9" fill-opacity="0.8" transform="rotate(-31 385.44 833.65)"/>
<ellipse cx="302.48" cy="754.61" rx="2.43" ry="1.92" fill="#bfbcc1" fill-opacity="0.8" transform="rotate(-29 302.48 754.61)"/>
<ellipse cx="398.47" cy="805.11" rx="4.09" ry="1.05" fill="#cfccc9" fill-opacity="0.8" transform="rotate(-7 398.47 805.11)"/>
<ellipse cx="367.08" cy="845.66" rx="4.42" ry="2.82" fill="#d8d7d6" fill-opacity="0.8" transform="rotate(-6 367.08 845.66)"/>
<ellipse cx="319.3" cy="825.31" rx="5.96" ry="1.4" fill="#c4c0c5" fill-opacity="0.8" transform="rotate(-77 319.3 825.31)"/>
<ellipse cx="375.39" cy="775.31" rx="3.48" ry="1.18" fill="#d8d7d6" fill-opacity="0.8" transform="rotate(-57 375.39 775.31)"/>
<ellipse cx="341.1" cy="756.72" rx="3.2" ry="2.46" fill="#d2d0cf" fill-opacity="0.8" transform="rotate(-36 341.1 756.72)"/>
<ellipse cx="340.62" cy="838.67" rx="5.58" ry="2.38" fill="#d2d0cf" fill-opacity="0.8" transform="rotate(-58 340.62 838.67)"/>
<ellipse cx="311.04" cy="852.91" rx="3.63" ry="1.05" fill="#bfbcc1" fill-opacity="0.8" transform="rotate(-27 311.04 852.91)"/>
<ellipse cx="355.83" cy="775.35" rx="5.44" ry="2.37" fill="#cbc5c1" fill-opacity="0.8" transform="rotate(-74 355.83 775.35)"/>
<ellipse cx="395.26" cy="854.8" rx="5.3" ry="2.8" fill="#c4c0c5" fill-opacity="0.8" transform="rotate(-14 395.26 854.8)"/>
<ellipse cx="396.63" cy="832.21" rx="4.93" ry="1.41" fill="#c4c0c5" fill-opacity="0.8" transform="rotate(-11 396.63 832.21)"/>
<ellipse cx="324.54" cy="828.69" rx="2.77" ry="2.07" fill="#d2d0cf" fill-opacity="0.8" transform="rotate(-65 324.54 828.69)"/>
<ellipse cx="337.68" cy="763.51" rx="3.73" ry="2.63" fill="#d8d7d6" fill-opacity="0.8" transform="rotate(-5 337.68 763.51)"/>
<ellipse cx="328.83" cy="753.76" rx="4.82" ry="2.9" fill="#bfbcc1" fill-opacity="0.8" transform="rotate(-85 328.83 753.76)"/>
<ellipse cx="375.91" cy="804.79" rx="4.91" ry="2.77" fill="#cfccc9" fill-opacity="0.8" transform="rotate(-23 375.91 804.79)"/>
<ellipse cx="313.15" cy="753.75" rx="4.89" ry="1.74" fill="#d2d0cf" fill-opacity="0.8" transform="rotate(-24 313.15 753.75)"/>
<ellipse cx="326.18" cy="816.44" rx="4.43" ry="2.07" fill="#cfccc9" fill-opacity="0.8" transform="rotate(-64 326.18 816.44)"/>
<ellipse cx="340.83" cy="815.02" rx="2.92" ry="1.59" fill="#d2d0cf" fill-opacity="0.8" transform="rotate(-20 340.83 815.02)"/>
<ellipse cx="304.08" cy="812.6" rx="2.33" ry="2.31" fill="#bfbcc1" fill-opacity="0.8" transform="rotate(-45 304.08 812.6)"/>
<ellipse cx="306.75" cy="834.06" rx="2.7" ry="1.7" fill="#c4c0c5" fill-opacity="0.8" transform="rotate(-80 306.75 834.06)"/>
<ellipse cx="331.29" cy="828.23" rx="5.71" ry="2.78" fill="#d2d0cf" fill-opacity="0.8" transform="rotate(-75 331.29 828.23)"/>
<ellipse cx="300.64" cy="809.96" rx="2.87" ry="1.61" fill="#c4c0c5" fill-opacity="0.8" transform="rotate(-31 300.64 809.96)"/>
<ellipse cx="327.72" cy="802.9" rx="5.88" ry="2.03" fill="#d2d0cf" fill-opacity="0.8" transform="rotate(-48 327.72 802.9)"/>
<ellipse cx="390.79" cy="818.49" rx="5.72" ry="1.58" fill="#d2d0cf" fill-opacity="0.8" transform="rotate(-73 390.79 818.49)"/>
<ellipse cx="314.21" cy="822.48" rx="2.35" ry="1.68" fill="#c4c0c5" fill-opacity="0.8" transform="rotate(-59 314.21 822.48)"/>
<ellipse cx="336.61" cy="764.54" rx="2.39" ry="2.72" fill="#cfccc9" fill-opacity="0.8" transform="rotate(-44 336.61 764.54)"/>
<ellipse cx="300.04" cy="860.19" rx="5.49" ry="1.12" fill="#cbc5c1" fill-opacity="0.8" transform="rotate(-56 300.04 860.19)"/>
<ellipse cx="397.4" cy="787.35" rx="5.29" ry="2" fill="#c4c0c5" fill-opacity="0.8" transform="rotate(-41 397.4 787.35)"/>
<ellipse cx="354.52" cy="763.38" rx="4.28" ry="1.9" fill="#d8d7d6" fill-opacity="0.8" transform="rotate(-60 354.52 763.38)"/>
<ellipse cx="366.12" cy="798.01" rx="2.5" ry="1.13" fill="#c4c0c5" fill-opacity="0.8" transform="rotate(-44 366.12 798.01)"/>
<ellipse cx="396.2" cy="786.97" rx="3.68" ry="2.88" fill="#cfccc9" fill-opacity="0.8" transform="rotate(-72 396.2 786.97)"/>
<ellipse cx="315.99" cy="802.5" rx="3.22" ry="2.14" fill="#cbc5c1" fill-opacity="0.8" transform="rotate(-10 315.99 802.5)"/>
<ellipse cx="382.12" cy="853.48" rx="5.69" ry="1.59" fill="#d2d0cf" fill-opacity="0.8" transform="rotate(-48 382.12 853.48)"/>
<path d="M312 790 l10 -10 l10 3 l2 16 l-10 8 l-10 -6z" fill="#dcdcdc"/>
<path d="M330 812 l14 -6 l9 8 l-8 11 l-15 -4z" fill="#d8d8d8"/>
<path d="M303 818 l11 2 l2 14 l-11 4z" fill="#d4d4d4"/>
<path d="M300 772 l8 2 l0 12 l-8 2z" fill="#d6d4d2"/>
<ellipse cx="330.16" cy="824.62" rx="2.55" ry="1.45" fill="#a29fbe" fill-opacity="0.8" transform="rotate(110 330.16 824.62)"/>
<ellipse cx="335.21" cy="828.43" rx="3.02" ry="2.06" fill="#a4a0b8" fill-opacity="0.8" transform="rotate(144 335.21 828.43)"/>
<ellipse cx="365.66" cy="844.29" rx="2.57" ry="1.59" fill="#aaa7c4" fill-opacity="0.8" transform="rotate(93 365.66 844.29)"/>
<ellipse cx="366.25" cy="768.46" rx="4.34" ry="1.61" fill="#9794b6" fill-opacity="0.8" transform="rotate(-47 366.25 768.46)"/>
<ellipse cx="366.53" cy="768.88" rx="4.49" ry="1.42" fill="#b0adc4" fill-opacity="0.8" transform="rotate(-42 366.53 768.88)"/>
<ellipse cx="379.23" cy="831.9" rx="2.33" ry="1.46" fill="#b0adc4" fill-opacity="0.8" transform="rotate(91 379.23 831.9)"/>
<ellipse cx="343.64" cy="852.98" rx="2.31" ry="1.86" fill="#b0adc4" fill-opacity="0.8" transform="rotate(80 343.64 852.98)"/>
<ellipse cx="346.36" cy="820.2" rx="2.34" ry="1.33" fill="#b0adc4" fill-opacity="0.8" transform="rotate(30 346.36 820.2)"/>
<ellipse cx="386.74" cy="824.88" rx="2.6" ry="1.82" fill="#aaa7c4" fill-opacity="0.8" transform="rotate(176 386.74 824.88)"/>
<ellipse cx="353.38" cy="849.8" rx="2.12" ry="1.6" fill="#a4a0b8" fill-opacity="0.8" transform="rotate(78 353.38 849.8)"/>
<ellipse cx="336.85" cy="844.24" rx="2.24" ry="1.33" fill="#a29fbe" fill-opacity="0.8" transform="rotate(11 336.85 844.24)"/>
<ellipse cx="350.39" cy="778.1" rx="4.08" ry="1.5" fill="#aaa7c4" fill-opacity="0.8" transform="rotate(-49 350.39 778.1)"/>
<ellipse cx="348.34" cy="760.34" rx="2.72" ry="1.92" fill="#a29fbe" fill-opacity="0.8" transform="rotate(-58 348.34 760.34)"/>
<ellipse cx="312.67" cy="849.59" rx="2.93" ry="2.11" fill="#8f8cae" fill-opacity="0.8" transform="rotate(28 312.67 849.59)"/>
<ellipse cx="361.95" cy="851.95" rx="2.31" ry="1.45" fill="#9794b6" fill-opacity="0.8" transform="rotate(86 361.95 851.95)"/>
<ellipse cx="328.62" cy="763.74" rx="2.86" ry="1.74" fill="#aaa7c4" fill-opacity="0.8" transform="rotate(61 328.62 763.74)"/>
<ellipse cx="301.11" cy="788.39" rx="2.88" ry="1.96" fill="#aaa7c4" fill-opacity="0.8" transform="rotate(14 301.11 788.39)"/>
<ellipse cx="396.65" cy="814.39" rx="2.69" ry="1.74" fill="#b0adc4" fill-opacity="0.8" transform="rotate(-34 396.65 814.39)"/>
<ellipse cx="372.89" cy="757.37" rx="3.98" ry="2.13" fill="#aaa7c4" fill-opacity="0.8" transform="rotate(-63 372.89 757.37)"/>
<ellipse cx="333.89" cy="781.84" rx="2.01" ry="1.93" fill="#a4a0b8" fill-opacity="0.8" transform="rotate(124 333.89 781.84)"/>
<ellipse cx="300.21" cy="854.48" rx="2.42" ry="1.54" fill="#a4a0b8" fill-opacity="0.8" transform="rotate(100 300.21 854.48)"/>
<ellipse cx="322.85" cy="843.6" rx="2.54" ry="1.92" fill="#a4a0b8" fill-opacity="0.8" transform="rotate(75 322.85 843.6)"/>
<ellipse cx="362.74" cy="777.46" rx="3.1" ry="1.51" fill="#a29fbe" fill-opacity="0.8" transform="rotate(-34 362.74 777.46)"/>
<ellipse cx="321.76" cy="825.43" rx="2.34" ry="1.96" fill="#a4a0b8" fill-opacity="0.8" transform="rotate(55 321.76 825.43)"/>
<ellipse cx="321.89" cy="851.89" rx="2.71" ry="1.93" fill="#a29fbe" fill-opacity="0.8" transform="rotate(155 321.89 851.89)"/>
<ellipse cx="377.64" cy="807.18" rx="3.11" ry="1.53" fill="#b0adc4" fill-opacity="0.8" transform="rotate(-30 377.64 807.18)"/>
<ellipse cx="363.26" cy="817.75" rx="2.11" ry="1.97" fill="#a4a0b8" fill-opacity="0.8" transform="rotate(166 363.26 817.75)"/>
<ellipse cx="336.74" cy="805.94" rx="3.1" ry="1.8" fill="#a4a0b8" fill-opacity="0.8" transform="rotate(-70 336.74 805.94)"/>
<ellipse cx="364.18" cy="824.51" rx="2.33" ry="1.72" fill="#9794b6" fill-opacity="0.8" transform="rotate(97 364.18 824.51)"/>
<ellipse cx="363.71" cy="823.4" rx="2.54" ry="1.8" fill="#aaa7c4" fill-opacity="0.8" transform="rotate(49 363.71 823.4)"/>
<ellipse cx="320.64" cy="767.52" rx="2.22" ry="1.79" fill="#a29fbe" fill-opacity="0.8" transform="rotate(127 320.64 767.52)"/>
<ellipse cx="321.04" cy="830.81" rx="2.99" ry="1.54" fill="#9794b6" fill-opacity="0.8" transform="rotate(102 321.04 830.81)"/>
<ellipse cx="367.82" cy="789.1" rx="2.99" ry="1.84" fill="#a29fbe" fill-opacity="0.8" transform="rotate(-31 367.82 789.1)"/>
<ellipse cx="400" cy="840.03" rx="2.97" ry="1.36" fill="#b0adc4" fill-opacity="0.8" transform="rotate(113 400 840.03)"/>
<ellipse cx="341.86" cy="857.85" rx="3.07" ry="2.19" fill="#b0adc4" fill-opacity="0.8" transform="rotate(170 341.86 857.85)"/>
<ellipse cx="399.51" cy="763.36" rx="3.7" ry="1.48" fill="#b0adc4" fill-opacity="0.8" transform="rotate(-31 399.51 763.36)"/>
<ellipse cx="381.8" cy="783.6" rx="3.24" ry="1.85" fill="#a4a0b8" fill-opacity="0.8" transform="rotate(-59 381.8 783.6)"/>
<ellipse cx="365.1" cy="826.01" rx="3.11" ry="1.81" fill="#b0adc4" fill-opacity="0.8" transform="rotate(180 365.1 826.01)"/>
<ellipse cx="383.26" cy="825" rx="2.5" ry="1.73" fill="#9794b6" fill-opacity="0.8" transform="rotate(58 383.26 825)"/>
<ellipse cx="390.14" cy="775.14" rx="4.38" ry="1.7" fill="#b0adc4" fill-opacity="0.8" transform="rotate(-40 390.14 775.14)"/>
<ellipse cx="360.04" cy="859.13" rx="3.15" ry="1.38" fill="#9794b6" fill-opacity="0.8" transform="rotate(56 360.04 859.13)"/>
<ellipse cx="382.38" cy="824.14" rx="2.95" ry="2.07" fill="#a4a0b8" fill-opacity="0.8" transform="rotate(166 382.38 824.14)"/>
<ellipse cx="315.54" cy="807.11" rx="2.84" ry="2.16" fill="#a4a0b8" fill-opacity="0.8" transform="rotate(173 315.54 807.11)"/>
<ellipse cx="385.11" cy="842.33" rx="2.53" ry="1.47" fill="#a29fbe" fill-opacity="0.8" transform="rotate(109 385.11 842.33)"/>
<ellipse cx="312.66" cy="759.12" rx="3.19" ry="1.77" fill="#b0adc4" fill-opacity="0.8" transform="rotate(136 312.66 759.12)"/>
<ellipse cx="380.11" cy="792" rx="3.49" ry="1.74" fill="#aaa7c4" fill-opacity="0.8" transform="rotate(-60 380.11 792)"/>
<ellipse cx="369.69" cy="814.86" rx="3.14" ry="1.75" fill="#a29fbe" fill-opacity="0.8" transform="rotate(-33 369.69 814.86)"/>
<ellipse cx="304.49" cy="776.61" rx="3.17" ry="1.51" fill="#9794b6" fill-opacity="0.8" transform="rotate(71 304.49 776.61)"/>
<ellipse cx="370.96" cy="802.67" rx="3.49" ry="2.13" fill="#a29fbe" fill-opacity="0.8" transform="rotate(-34 370.96 802.67)"/>
<ellipse cx="324.73" cy="799.68" rx="2.52" ry="1.58" fill="#aaa7c4" fill-opacity="0.8" transform="rotate(93 324.73 799.68)"/>
<ellipse cx="383.88" cy="781.45" rx="4.38" ry="1.62" fill="#9794b6" fill-opacity="0.8" transform="rotate(-55 383.88 781.45)"/>
<ellipse cx="326.48" cy="787.21" rx="2.57" ry="1.41" fill="#8f8cae" fill-opacity="0.8" transform="rotate(143 326.48 787.21)"/>
<ellipse cx="355.52" cy="784.7" rx="2.7" ry="1.57" fill="#aaa7c4" fill-opacity="0.8" transform="rotate(-64 355.52 784.7)"/>
<ellipse cx="315.41" cy="852.81" rx="2.39" ry="1.47" fill="#aaa7c4" fill-opacity="0.8" transform="rotate(81 315.41 852.81)"/>
<ellipse cx="345.71" cy="824.06" rx="2.14" ry="2.05" fill="#b0adc4" fill-opacity="0.8" transform="rotate(0 345.71 824.06)"/>
<ellipse cx="355.71" cy="797.3" rx="2.51" ry="1.58" fill="#a29fbe" fill-opacity="0.8" transform="rotate(-64 355.71 797.3)"/>
<ellipse cx="349.37" cy="850.65" rx="2.44" ry="2.17" fill="#8f8cae" fill-opacity="0.8" transform="rotate(38 349.37 850.65)"/>
<ellipse cx="391.79" cy="785.64" rx="4.43" ry="1.31" fill="#b0adc4" fill-opacity="0.8" transform="rotate(-43 391.79 785.64)"/>
<ellipse cx="350.87" cy="833.06" rx="2.37" ry="2" fill="#b0adc4" fill-opacity="0.8" transform="rotate(25 350.87 833.06)"/>
<ellipse cx="325.9" cy="800.55" rx="2.29" ry="2.2" fill="#a29fbe" fill-opacity="0.8" transform="rotate(149 325.9 800.55)"/>
<ellipse cx="365.86" cy="810.93" rx="3.54" ry="1.63" fill="#8f8cae" fill-opacity="0.8" transform="rotate(-40 365.86 810.93)"/>
<ellipse cx="315.63" cy="760.03" rx="2.49" ry="1.31" fill="#a29fbe" fill-opacity="0.8" transform="rotate(158 315.63 760.03)"/>
<ellipse cx="371.51" cy="791.74" rx="4.31" ry="1.53" fill="#aaa7c4" fill-opacity="0.8" transform="rotate(-50 371.51 791.74)"/>
<ellipse cx="324.04" cy="807.26" rx="2.32" ry="1.85" fill="#9794b6" fill-opacity="0.8" transform="rotate(17 324.04 807.26)"/>
<ellipse cx="402.45" cy="813.45" rx="2.59" ry="2.1" fill="#8f8cae" fill-opacity="0.8" transform="rotate(-43 402.45 813.45)"/>
<ellipse cx="399.27" cy="825.43" rx="2.51" ry="2.05" fill="#a29fbe" fill-opacity="0.8" transform="rotate(59 399.27 825.43)"/>
<ellipse cx="362.91" cy="778.53" rx="4.05" ry="1.69" fill="#aaa7c4" fill-opacity="0.8" transform="rotate(-66 362.91 778.53)"/>
<ellipse cx="323.63" cy="854.36" rx="2.69" ry="2.08" fill="#8f8cae" fill-opacity="0.8" transform="rotate(125 323.63 854.36)"/>
<ellipse cx="347.14" cy="773.78" rx="2.73" ry="1.72" fill="#9794b6" fill-opacity="0.8" transform="rotate(-40 347.14 773.78)"/>
<ellipse cx="307.63" cy="804.59" rx="3" ry="2.14" fill="#8f8cae" fill-opacity="0.8" transform="rotate(92 307.63 804.59)"/>
<ellipse cx="377.06" cy="764.55" rx="4.32" ry="1.91" fill="#9794b6" fill-opacity="0.8" transform="rotate(-47 377.06 764.55)"/>
<ellipse cx="304.14" cy="792.81" rx="3.02" ry="1.64" fill="#9794b6" fill-opacity="0.8" transform="rotate(43 304.14 792.81)"/>
<ellipse cx="343.56" cy="819.2" rx="3" ry="1.5" fill="#b0adc4" fill-opacity="0.8" transform="rotate(105 343.56 819.2)"/>
<ellipse cx="319.13" cy="830.41" rx="3.06" ry="1.39" fill="#a29fbe" fill-opacity="0.8" transform="rotate(87 319.13 830.41)"/>
<ellipse cx="320.8" cy="833.16" rx="3.07" ry="1.9" fill="#a4a0b8" fill-opacity="0.8" transform="rotate(157 320.8 833.16)"/>
<ellipse cx="312.05" cy="859.82" rx="2.47" ry="1.81" fill="#9794b6" fill-opacity="0.8" transform="rotate(56 312.05 859.82)"/>
<ellipse cx="340.08" cy="789.41" rx="2.81" ry="1.6" fill="#aaa7c4" fill-opacity="0.8" transform="rotate(-48 340.08 789.41)"/>
<ellipse cx="388.92" cy="789.02" rx="2.96" ry="2.1" fill="#9794b6" fill-opacity="0.8" transform="rotate(-60 388.92 789.02)"/>
<ellipse cx="394.71" cy="835.03" rx="2.1" ry="1.75" fill="#9794b6" fill-opacity="0.8" transform="rotate(56 394.71 835.03)"/>
<ellipse cx="402.38" cy="766.22" rx="3.16" ry="1.93" fill="#aaa7c4" fill-opacity="0.8" transform="rotate(-32 402.38 766.22)"/>
<ellipse cx="381.05" cy="774.09" rx="3.38" ry="2.01" fill="#aaa7c4" fill-opacity="0.8" transform="rotate(-45 381.05 774.09)"/>
<ellipse cx="398.64" cy="821.04" rx="2.95" ry="1.94" fill="#a4a0b8" fill-opacity="0.8" transform="rotate(6 398.64 821.04)"/>
<ellipse cx="320.51" cy="799.93" rx="2.03" ry="1.92" fill="#aaa7c4" fill-opacity="0.8" transform="rotate(131 320.51 799.93)"/>
<ellipse cx="334.85" cy="783.24" rx="3.04" ry="1.8" fill="#a29fbe" fill-opacity="0.8" transform="rotate(5 334.85 783.24)"/>
<ellipse cx="399.93" cy="827.76" rx="2.63" ry="1.9" fill="#a29fbe" fill-opacity="0.8" transform="rotate(179 399.93 827.76)"/>
<ellipse cx="379.92" cy="828.16" rx="2.34" ry="2.1" fill="#8f8cae" fill-opacity="0.8" transform="rotate(81 379.92 828.16)"/>
<ellipse cx="364.66" cy="830.13" rx="3" ry="1.56" fill="#aaa7c4" fill-opacity="0.8" transform="rotate(154 364.66 830.13)"/>
<ellipse cx="365.52" cy="832.91" rx="2.38" ry="1.33" fill="#9794b6" fill-opacity="0.8" transform="rotate(67 365.52 832.91)"/>
<ellipse cx="330.18" cy="797.83" rx="2.93" ry="1.51" fill="#a4a0b8" fill-opacity="0.8" transform="rotate(143 330.18 797.83)"/>
<ellipse cx="383.2" cy="839.15" rx="2.12" ry="1.67" fill="#a29fbe" fill-opacity="0.8" transform="rotate(149 383.2 839.15)"/>
<ellipse cx="368.53" cy="767.99" rx="3.49" ry="1.68" fill="#9794b6" fill-opacity="0.8" transform="rotate(-62 368.53 767.99)"/>
<ellipse cx="349.95" cy="795.28" rx="3.01" ry="2.06" fill="#8f8cae" fill-opacity="0.8" transform="rotate(-34 349.95 795.28)"/>
<ellipse cx="404.98" cy="838.18" rx="2.23" ry="2.15" fill="#8f8cae" fill-opacity="0.8" transform="rotate(140 404.98 838.18)"/>
<ellipse cx="375.24" cy="808.13" rx="3.2" ry="1.42" fill="#8f8cae" fill-opacity="0.8" transform="rotate(-66 375.24 808.13)"/>
<ellipse cx="386.44" cy="834.04" rx="2.13" ry="1.7" fill="#a29fbe" fill-opacity="0.8" transform="rotate(99 386.44 834.04)"/>
<ellipse cx="308.26" cy="850.6" rx="2.09" ry="1.97" fill="#b0adc4" fill-opacity="0.8" transform="rotate(178 308.26 850.6)"/>
<ellipse cx="310.58" cy="810.48" rx="2.73" ry="1.9" fill="#aaa7c4" fill-opacity="0.8" transform="rotate(150 310.58 810.48)"/>
<ellipse cx="361.68" cy="848.95" rx="2.6" ry="1.4" fill="#a4a0b8" fill-opacity="0.8" transform="rotate(148 361.68 848.95)"/>
<ellipse cx="314.8" cy="806.91" rx="2.72" ry="1.75" fill="#9794b6" fill-opacity="0.8" transform="rotate(166 314.8 806.91)"/>
<ellipse cx="369" cy="821.68" rx="2.32" ry="1.91" fill="#b0adc4" fill-opacity="0.8" transform="rotate(161 369 821.68)"/>
<ellipse cx="341.01" cy="760.84" rx="3.68" ry="1.71" fill="#aaa7c4" fill-opacity="0.8" transform="rotate(-48 341.01 760.84)"/>
<ellipse cx="350.88" cy="800.36" rx="4.14" ry="1.73" fill="#aaa7c4" fill-opacity="0.8" transform="rotate(-50 350.88 800.36)"/>
<ellipse cx="399.51" cy="856.16" rx="3.13" ry="1.97" fill="#a29fbe" fill-opacity="0.8" transform="rotate(6 399.51 856.16)"/>
<ellipse cx="373.2" cy="759.26" rx="3.39" ry="1.42" fill="#8f8cae" fill-opacity="0.8" transform="rotate(-36 373.2 759.26)"/>
<ellipse cx="334.62" cy="849.34" rx="2.41" ry="1.65" fill="#b0adc4" fill-opacity="0.8" transform="rotate(20 334.62 849.34)"/>
<ellipse cx="313.22" cy="827.42" rx="3.02" ry="1.43" fill="#a29fbe" fill-opacity="0.8" transform="rotate(172 313.22 827.42)"/>
<ellipse cx="320.21" cy="854.85" rx="2.91" ry="1.61" fill="#b0adc4" fill-opacity="0.8" transform="rotate(111 320.21 854.85)"/>
<ellipse cx="325.71" cy="794.96" rx="3.09" ry="2.09" fill="#aaa7c4" fill-opacity="0.8" transform="rotate(21 325.71 794.96)"/>
<ellipse cx="372.14" cy="784.37" rx="4.31" ry="1.83" fill="#8f8cae" fill-opacity="0.8" transform="rotate(-44 372.14 784.37)"/>
<ellipse cx="323.33" cy="819.81" rx="2.72" ry="1.31" fill="#aaa7c4" fill-opacity="0.8" transform="rotate(151 323.33 819.81)"/>
<ellipse cx="346.78" cy="777.16" rx="4.07" ry="1.75" fill="#a29fbe" fill-opacity="0.8" transform="rotate(-47 346.78 777.16)"/>
<ellipse cx="352.27" cy="803.57" rx="2.85" ry="2.03" fill="#a29fbe" fill-opacity="0.8" transform="rotate(-50 352.27 803.57)"/>
<ellipse cx="304.45" cy="848.12" rx="2.03" ry="1.59" fill="#a29fbe" fill-opacity="0.8" transform="rotate(163 304.45 848.12)"/>
<ellipse cx="404.28" cy="841.82" rx="2.64" ry="1.51" fill="#b0adc4" fill-opacity="0.8" transform="rotate(2 404.28 841.82)"/>
<ellipse cx="348.92" cy="759.65" rx="3.2" ry="1.34" fill="#aaa7c4" fill-opacity="0.8" transform="rotate(-46 348.92 759.65)"/>
<ellipse cx="311.81" cy="777.13" rx="2.27" ry="2.17" fill="#9794b6" fill-opacity="0.8" transform="rotate(69 311.81 777.13)"/>
<ellipse cx="359.98" cy="817.62" rx="3.17" ry="1.46" fill="#aaa7c4" fill-opacity="0.8" transform="rotate(49 359.98 817.62)"/>
<ellipse cx="320.87" cy="832.17" rx="2.57" ry="1.92" fill="#b0adc4" fill-opacity="0.8" transform="rotate(160 320.87 832.17)"/>
<ellipse cx="328.96" cy="818.22" rx="2.27" ry="1.79" fill="#aaa7c4" fill-opacity="0.8" transform="rotate(3 328.96 818.22)"/>
<ellipse cx="345.34" cy="849.14" rx="3.1" ry="1.54" fill="#aaa7c4" fill-opacity="0.8" transform="rotate(98 345.34 849.14)"/>
<circle cx="386" cy="830" r="1.3" fill="#3a3434" fill-opacity="0.9"/>
<circle cx="391" cy="832" r="1.5" fill="#3a3434" fill-opacity="0.9"/>
<circle cx="389" cy="836" r="1.2" fill="#3a3434" fill-opacity="0.9"/>
<circle cx="395" cy="838" r="1.4" fill="#3a3434" fill-opacity="0.9"/>
<circle cx="393" cy="841.5" r="1.2" fill="#3a3434" fill-opacity="0.9"/>
<circle cx="384" cy="840" r="1.1" fill="#3a3434" fill-opacity="0.9"/>
<circle cx="398" cy="852" r="1.3" fill="#3a3434" fill-opacity="0.9"/>
<circle cx="401" cy="855" r="1.2" fill="#3a3434" fill-opacity="0.9"/>
<circle cx="396" cy="855" r="1.0" fill="#3a3434" fill-opacity="0.9"/>
<circle cx="388" cy="845" r="0.9" fill="#3a3434" fill-opacity="0.9"/>
<circle cx="339" cy="792" r="1.1" fill="#3a3434" fill-opacity="0.9"/>
<circle cx="312" cy="786" r="1.2" fill="#3a3434" fill-opacity="0.9"/>
<circle cx="308" cy="848" r="1.0" fill="#3a3434" fill-opacity="0.9"/>
<circle cx="357" cy="764" r="1.0" fill="#3a3434" fill-opacity="0.9"/>
<circle cx="337" cy="776" r="0.9" fill="#3a3434" fill-opacity="0.9"/>
<circle cx="318" cy="781" r="1.0" fill="#3a3434" fill-opacity="0.9"/>
</g>
</g>
<g clip-path="url(#im2)"><rect x="408" y="757" width="106.6" height="103" fill="#f1e0d6"/>
<g filter="url(#bl2)">
<ellipse cx="440.92" cy="769.74" rx="2.67" ry="3.61" fill="#d5a090" fill-opacity="0.75" transform="rotate(24 440.92 769.74)"/>
<ellipse cx="445.69" cy="759.44" rx="3.25" ry="1.99" fill="#eed2c2" fill-opacity="0.75" transform="rotate(107 445.69 759.44)"/>
<ellipse cx="411.96" cy="763.07" rx="2.71" ry="3.04" fill="#cf8a6a" fill-opacity="0.75" transform="rotate(57 411.96 763.07)"/>
<ellipse cx="475.89" cy="817.71" rx="4.52" ry="2.67" fill="#e2b49e" fill-opacity="0.75" transform="rotate(56 475.89 817.71)"/>
<ellipse cx="409.31" cy="848.29" rx="3.97" ry="2.99" fill="#e8c4b0" fill-opacity="0.75" transform="rotate(146 409.31 848.29)"/>
<ellipse cx="439.17" cy="843.59" rx="2.86" ry="3.06" fill="#d89a80" fill-opacity="0.75" transform="rotate(48 439.17 843.59)"/>
<ellipse cx="446.45" cy="813.8" rx="4.48" ry="3.16" fill="#e2b49e" fill-opacity="0.75" transform="rotate(127 446.45 813.8)"/>
<ellipse cx="481.57" cy="800.46" rx="4.13" ry="3.83" fill="#e8c4b0" fill-opacity="0.75" transform="rotate(92 481.57 800.46)"/>
<ellipse cx="438.17" cy="841.18" rx="5.23" ry="1.98" fill="#d5a090" fill-opacity="0.75" transform="rotate(76 438.17 841.18)"/>
<ellipse cx="463.87" cy="850.14" rx="4.07" ry="3.14" fill="#d5a090" fill-opacity="0.75" transform="rotate(18 463.87 850.14)"/>
<ellipse cx="417.46" cy="799.41" rx="3.03" ry="2.88" fill="#e8c4b0" fill-opacity="0.75" transform="rotate(10 417.46 799.41)"/>
<ellipse cx="513.67" cy="761.62" rx="4.51" ry="3.73" fill="#eed2c2" fill-opacity="0.75" transform="rotate(80 513.67 761.62)"/>
<ellipse cx="442.77" cy="791.87" rx="4.53" ry="2.8" fill="#cf8a6a" fill-opacity="0.75" transform="rotate(23 442.77 791.87)"/>
<ellipse cx="511.69" cy="805.62" rx="2.73" ry="3.41" fill="#d5a090" fill-opacity="0.75" transform="rotate(79 511.69 805.62)"/>
<ellipse cx="477.77" cy="863.23" rx="3.5" ry="2.65" fill="#cf8a6a" fill-opacity="0.75" transform="rotate(171 477.77 863.23)"/>
<ellipse cx="443.56" cy="857.41" rx="3.09" ry="2.06" fill="#e8c4b0" fill-opacity="0.75" transform="rotate(15 443.56 857.41)"/>
<ellipse cx="428.88" cy="784.9" rx="3.37" ry="2.66" fill="#d5a090" fill-opacity="0.75" transform="rotate(127 428.88 784.9)"/>
<ellipse cx="413.19" cy="802.86" rx="3.47" ry="2.1" fill="#eed2c2" fill-opacity="0.75" transform="rotate(110 413.19 802.86)"/>
<ellipse cx="502.49" cy="783.9" rx="5.95" ry="3.3" fill="#cf8a6a" fill-opacity="0.75" transform="rotate(97 502.49 783.9)"/>
<ellipse cx="513.18" cy="769.75" rx="3.03" ry="3.25" fill="#d89a80" fill-opacity="0.75" transform="rotate(3 513.18 769.75)"/>
<ellipse cx="459.29" cy="818.39" rx="3.49" ry="2.12" fill="#e8c4b0" fill-opacity="0.75" transform="rotate(136 459.29 818.39)"/>
<ellipse cx="446.09" cy="815.86" rx="4.92" ry="2.93" fill="#d89a80" fill-opacity="0.75" transform="rotate(158 446.09 815.86)"/>
<ellipse cx="478.67" cy="835.12" rx="5.65" ry="3.52" fill="#cf8a6a" fill-opacity="0.75" transform="rotate(174 478.67 835.12)"/>
<ellipse cx="494.96" cy="796.55" rx="3.88" ry="2.86" fill="#cf8a6a" fill-opacity="0.75" transform="rotate(102 494.96 796.55)"/>
<ellipse cx="411.1" cy="760.48" rx="4.04" ry="2.04" fill="#d89a80" fill-opacity="0.75" transform="rotate(153 411.1 760.48)"/>
<ellipse cx="409.99" cy="753.03" rx="4.38" ry="3.89" fill="#d89a80" fill-opacity="0.75" transform="rotate(157 409.99 753.03)"/>
<ellipse cx="406.91" cy="850.05" rx="3.82" ry="3.2" fill="#eed2c2" fill-opacity="0.75" transform="rotate(88 406.91 850.05)"/>
<ellipse cx="472.66" cy="805.63" rx="5.47" ry="3.98" fill="#e2b49e" fill-opacity="0.75" transform="rotate(119 472.66 805.63)"/>
<ellipse cx="458.77" cy="787.62" rx="2.86" ry="2.55" fill="#d89a80" fill-opacity="0.75" transform="rotate(67 458.77 787.62)"/>
<ellipse cx="458.56" cy="829.82" rx="2.58" ry="3.89" fill="#eed2c2" fill-opacity="0.75" transform="rotate(135 458.56 829.82)"/>
<ellipse cx="445.24" cy="829.6" rx="5.15" ry="2.46" fill="#e2b49e" fill-opacity="0.75" transform="rotate(164 445.24 829.6)"/>
<ellipse cx="502.42" cy="830.28" rx="4.31" ry="3.8" fill="#e8c4b0" fill-opacity="0.75" transform="rotate(91 502.42 830.28)"/>
<ellipse cx="492" cy="812.12" rx="3.65" ry="2.29" fill="#eed2c2" fill-opacity="0.75" transform="rotate(49 492 812.12)"/>
<ellipse cx="495.89" cy="843.83" rx="5.31" ry="2.24" fill="#d5a090" fill-opacity="0.75" transform="rotate(126 495.89 843.83)"/>
<ellipse cx="444.53" cy="756.22" rx="5.27" ry="2.84" fill="#e2b49e" fill-opacity="0.75" transform="rotate(49 444.53 756.22)"/>
<ellipse cx="482.95" cy="859.17" rx="5.33" ry="3.39" fill="#cf8a6a" fill-opacity="0.75" transform="rotate(89 482.95 859.17)"/>
<ellipse cx="512.87" cy="793.47" rx="2.86" ry="2.83" fill="#d89a80" fill-opacity="0.75" transform="rotate(86 512.87 793.47)"/>
<ellipse cx="427.3" cy="822.27" rx="5.44" ry="2.85" fill="#eed2c2" fill-opacity="0.75" transform="rotate(167 427.3 822.27)"/>
<ellipse cx="443.22" cy="824.39" rx="2.92" ry="2.65" fill="#d5a090" fill-opacity="0.75" transform="rotate(51 443.22 824.39)"/>
<ellipse cx="458.5" cy="772.82" rx="3.66" ry="3.56" fill="#d5a090" fill-opacity="0.75" transform="rotate(101 458.5 772.82)"/>
<ellipse cx="456.8" cy="835.51" rx="5.04" ry="2.17" fill="#e2b49e" fill-opacity="0.75" transform="rotate(32 456.8 835.51)"/>
<ellipse cx="407.14" cy="818.58" rx="5.32" ry="2.12" fill="#cf8a6a" fill-opacity="0.75" transform="rotate(152 407.14 818.58)"/>
<ellipse cx="515.75" cy="825.96" rx="3.05" ry="3.01" fill="#e8c4b0" fill-opacity="0.75" transform="rotate(5 515.75 825.96)"/>
<ellipse cx="405.62" cy="860.77" rx="2.86" ry="3.45" fill="#d5a090" fill-opacity="0.75" transform="rotate(35 405.62 860.77)"/>
<ellipse cx="453.45" cy="849.76" rx="2.6" ry="2.27" fill="#d89a80" fill-opacity="0.75" transform="rotate(128 453.45 849.76)"/>
<ellipse cx="431.42" cy="818.09" rx="4.41" ry="3.64" fill="#e8c4b0" fill-opacity="0.75" transform="rotate(15 431.42 818.09)"/>
<ellipse cx="507.74" cy="792.27" rx="4.82" ry="3.59" fill="#cf8a6a" fill-opacity="0.75" transform="rotate(132 507.74 792.27)"/>
<ellipse cx="451.95" cy="854.87" rx="2.96" ry="2.13" fill="#eed2c2" fill-opacity="0.75" transform="rotate(130 451.95 854.87)"/>
<ellipse cx="406.13" cy="801.85" rx="4.63" ry="3.51" fill="#d89a80" fill-opacity="0.75" transform="rotate(38 406.13 801.85)"/>
<ellipse cx="423.65" cy="805.56" rx="2.92" ry="1.94" fill="#d5a090" fill-opacity="0.75" transform="rotate(174 423.65 805.56)"/>
<ellipse cx="463.09" cy="814.65" rx="5.59" ry="1.93" fill="#e2b49e" fill-opacity="0.75" transform="rotate(48 463.09 814.65)"/>
<ellipse cx="435.57" cy="838.72" rx="4.08" ry="1.86" fill="#eed2c2" fill-opacity="0.75" transform="rotate(16 435.57 838.72)"/>
<ellipse cx="454.53" cy="820.99" rx="4.62" ry="2.24" fill="#eed2c2" fill-opacity="0.75" transform="rotate(70 454.53 820.99)"/>
<ellipse cx="455.57" cy="812.19" rx="4.28" ry="2.34" fill="#cf8a6a" fill-opacity="0.75" transform="rotate(133 455.57 812.19)"/>
<ellipse cx="503.93" cy="857.58" rx="5.73" ry="3.76" fill="#e8c4b0" fill-opacity="0.75" transform="rotate(51 503.93 857.58)"/>
<ellipse cx="499.76" cy="768.22" rx="3.87" ry="2.5" fill="#e2b49e" fill-opacity="0.75" transform="rotate(171 499.76 768.22)"/>
<ellipse cx="431.43" cy="761.12" rx="3.56" ry="2.07" fill="#d5a090" fill-opacity="0.75" transform="rotate(39 431.43 761.12)"/>
<ellipse cx="511.1" cy="824.42" rx="3" ry="3.74" fill="#e8c4b0" fill-opacity="0.75" transform="rotate(119 511.1 824.42)"/>
<ellipse cx="429.03" cy="858.73" rx="5.6" ry="2.16" fill="#cf8a6a" fill-opacity="0.75" transform="rotate(170 429.03 858.73)"/>
<ellipse cx="498.9" cy="770.92" rx="5.98" ry="2.69" fill="#cf8a6a" fill-opacity="0.75" transform="rotate(107 498.9 770.92)"/>
<ellipse cx="426.31" cy="788.36" rx="3.78" ry="2.54" fill="#d5a090" fill-opacity="0.75" transform="rotate(117 426.31 788.36)"/>
<ellipse cx="454.21" cy="755.01" rx="4.31" ry="2.45" fill="#e8c4b0" fill-opacity="0.75" transform="rotate(16 454.21 755.01)"/>
<ellipse cx="416.86" cy="854.96" rx="5.9" ry="2.03" fill="#d89a80" fill-opacity="0.75" transform="rotate(67 416.86 854.96)"/>
<ellipse cx="435" cy="853.55" rx="3.45" ry="2.09" fill="#d89a80" fill-opacity="0.75" transform="rotate(108 435 853.55)"/>
<ellipse cx="500.85" cy="828.03" rx="3.92" ry="2.98" fill="#e8c4b0" fill-opacity="0.75" transform="rotate(131 500.85 828.03)"/>
<ellipse cx="469.05" cy="830.75" rx="3.48" ry="3.56" fill="#e2b49e" fill-opacity="0.75" transform="rotate(46 469.05 830.75)"/>
<ellipse cx="452.49" cy="761.04" rx="4.72" ry="3.56" fill="#e2b49e" fill-opacity="0.75" transform="rotate(21 452.49 761.04)"/>
<ellipse cx="473.33" cy="777.69" rx="5.52" ry="2.8" fill="#e8c4b0" fill-opacity="0.75" transform="rotate(86 473.33 777.69)"/>
<ellipse cx="517.35" cy="799.37" rx="4.68" ry="1.9" fill="#e8c4b0" fill-opacity="0.75" transform="rotate(61 517.35 799.37)"/>
<ellipse cx="510.95" cy="860.58" rx="2.68" ry="2.24" fill="#e8c4b0" fill-opacity="0.75" transform="rotate(79 510.95 860.58)"/>
<ellipse cx="475.67" cy="811.95" rx="3.51" ry="2.9" fill="#d89a80" fill-opacity="0.75" transform="rotate(45 475.67 811.95)"/>
<ellipse cx="434.84" cy="842.21" rx="2.63" ry="1.84" fill="#e8c4b0" fill-opacity="0.75" transform="rotate(129 434.84 842.21)"/>
<ellipse cx="466.82" cy="774.03" rx="3.36" ry="2.78" fill="#cf8a6a" fill-opacity="0.75" transform="rotate(168 466.82 774.03)"/>
<ellipse cx="497.36" cy="800.97" rx="4.41" ry="3.76" fill="#cf8a6a" fill-opacity="0.75" transform="rotate(129 497.36 800.97)"/>
<ellipse cx="439.09" cy="776.89" rx="3.7" ry="3.63" fill="#d89a80" fill-opacity="0.75" transform="rotate(180 439.09 776.89)"/>
<ellipse cx="487.09" cy="768.51" rx="5.94" ry="3.64" fill="#e8c4b0" fill-opacity="0.75" transform="rotate(3 487.09 768.51)"/>
<ellipse cx="412.06" cy="835.24" rx="4.01" ry="1.92" fill="#e8c4b0" fill-opacity="0.75" transform="rotate(170 412.06 835.24)"/>
<ellipse cx="499.9" cy="849.63" rx="5.9" ry="3.12" fill="#d5a090" fill-opacity="0.75" transform="rotate(177 499.9 849.63)"/>
<ellipse cx="437.41" cy="804" rx="3.44" ry="1.81" fill="#d89a80" fill-opacity="0.75" transform="rotate(93 437.41 804)"/>
<ellipse cx="513.64" cy="860.96" rx="3.63" ry="1.88" fill="#eed2c2" fill-opacity="0.75" transform="rotate(79 513.64 860.96)"/>
<ellipse cx="428.84" cy="773.31" rx="3.84" ry="2.84" fill="#e8c4b0" fill-opacity="0.75" transform="rotate(128 428.84 773.31)"/>
<ellipse cx="478.79" cy="780.55" rx="2.82" ry="3.6" fill="#e2b49e" fill-opacity="0.75" transform="rotate(36 478.79 780.55)"/>
<ellipse cx="449.54" cy="757.63" rx="3.55" ry="3.19" fill="#e2b49e" fill-opacity="0.75" transform="rotate(21 449.54 757.63)"/>
<ellipse cx="470.76" cy="811.74" rx="4.8" ry="3.38" fill="#d89a80" fill-opacity="0.75" transform="rotate(152 470.76 811.74)"/>
<ellipse cx="448.4" cy="789.2" rx="3.02" ry="3.39" fill="#cf8a6a" fill-opacity="0.75" transform="rotate(164 448.4 789.2)"/>
<ellipse cx="420.5" cy="844.56" rx="5.62" ry="3.18" fill="#d5a090" fill-opacity="0.75" transform="rotate(179 420.5 844.56)"/>
<ellipse cx="496.59" cy="768.46" rx="5.14" ry="3.05" fill="#eed2c2" fill-opacity="0.75" transform="rotate(4 496.59 768.46)"/>
<ellipse cx="498.21" cy="817.83" rx="4.89" ry="3.33" fill="#d5a090" fill-opacity="0.75" transform="rotate(58 498.21 817.83)"/>
<ellipse cx="413.7" cy="757.65" rx="3.76" ry="2.03" fill="#d5a090" fill-opacity="0.75" transform="rotate(115 413.7 757.65)"/>
<ellipse cx="467.67" cy="822.68" rx="4.36" ry="2.34" fill="#d5a090" fill-opacity="0.75" transform="rotate(67 467.67 822.68)"/>
<ellipse cx="404.38" cy="841.54" rx="5.76" ry="3.78" fill="#d5a090" fill-opacity="0.75" transform="rotate(23 404.38 841.54)"/>
<ellipse cx="479.16" cy="760.33" rx="4.16" ry="3.58" fill="#d5a090" fill-opacity="0.75" transform="rotate(67 479.16 760.33)"/>
<ellipse cx="430.77" cy="836.96" rx="5.09" ry="3.95" fill="#d89a80" fill-opacity="0.75" transform="rotate(126 430.77 836.96)"/>
<ellipse cx="500.39" cy="761.52" rx="3.51" ry="1.9" fill="#d5a090" fill-opacity="0.75" transform="rotate(161 500.39 761.52)"/>
<ellipse cx="477.27" cy="761.6" rx="3.66" ry="3.23" fill="#d89a80" fill-opacity="0.75" transform="rotate(177 477.27 761.6)"/>
<ellipse cx="438.7" cy="816.02" rx="4.19" ry="2.87" fill="#e2b49e" fill-opacity="0.75" transform="rotate(172 438.7 816.02)"/>
<ellipse cx="415.35" cy="777.16" rx="3.52" ry="2.94" fill="#cf8a6a" fill-opacity="0.75" transform="rotate(118 415.35 777.16)"/>
<ellipse cx="457.11" cy="838.16" rx="3.2" ry="3.95" fill="#eed2c2" fill-opacity="0.75" transform="rotate(121 457.11 838.16)"/>
<ellipse cx="406" cy="803.95" rx="5.89" ry="2.79" fill="#eed2c2" fill-opacity="0.75" transform="rotate(68 406 803.95)"/>
<ellipse cx="448.1" cy="854.74" rx="2.76" ry="2" fill="#d89a80" fill-opacity="0.75" transform="rotate(134 448.1 854.74)"/>
<ellipse cx="433.85" cy="792.91" rx="5.37" ry="2.92" fill="#eed2c2" fill-opacity="0.75" transform="rotate(28 433.85 792.91)"/>
<ellipse cx="484.18" cy="778.68" rx="3.88" ry="2.15" fill="#cf8a6a" fill-opacity="0.75" transform="rotate(125 484.18 778.68)"/>
<ellipse cx="481.7" cy="798" rx="2.99" ry="2.56" fill="#d5a090" fill-opacity="0.75" transform="rotate(80 481.7 798)"/>
<ellipse cx="417.78" cy="789.78" rx="5.13" ry="3.65" fill="#e8c4b0" fill-opacity="0.75" transform="rotate(30 417.78 789.78)"/>
<ellipse cx="511.15" cy="774.73" rx="5.66" ry="2.44" fill="#e2b49e" fill-opacity="0.75" transform="rotate(95 511.15 774.73)"/>
<ellipse cx="411.41" cy="796.31" rx="2.77" ry="3.84" fill="#eed2c2" fill-opacity="0.75" transform="rotate(70 411.41 796.31)"/>
<ellipse cx="501.39" cy="784.15" rx="5.42" ry="2.43" fill="#e2b49e" fill-opacity="0.75" transform="rotate(38 501.39 784.15)"/>
<ellipse cx="432.42" cy="782.5" rx="3.6" ry="3.5" fill="#eed2c2" fill-opacity="0.75" transform="rotate(109 432.42 782.5)"/>
<ellipse cx="504.81" cy="843.13" rx="3.9" ry="3.73" fill="#d5a090" fill-opacity="0.75" transform="rotate(141 504.81 843.13)"/>
<ellipse cx="466.61" cy="832.87" rx="5.77" ry="2.7" fill="#e2b49e" fill-opacity="0.75" transform="rotate(157 466.61 832.87)"/>
<ellipse cx="489.8" cy="824.54" rx="4.2" ry="3.81" fill="#e8c4b0" fill-opacity="0.75" transform="rotate(140 489.8 824.54)"/>
<ellipse cx="418.51" cy="805.41" rx="3.49" ry="2.36" fill="#e8c4b0" fill-opacity="0.75" transform="rotate(167 418.51 805.41)"/>
<ellipse cx="433.66" cy="825.82" rx="4.19" ry="3.27" fill="#e8c4b0" fill-opacity="0.75" transform="rotate(30 433.66 825.82)"/>
<ellipse cx="423.08" cy="770.94" rx="4.25" ry="3.59" fill="#d89a80" fill-opacity="0.75" transform="rotate(140 423.08 770.94)"/>
<ellipse cx="429.08" cy="853.59" rx="4" ry="3.01" fill="#cf8a6a" fill-opacity="0.75" transform="rotate(62 429.08 853.59)"/>
<ellipse cx="414.34" cy="790.96" rx="3.62" ry="2.61" fill="#e2b49e" fill-opacity="0.75" transform="rotate(145 414.34 790.96)"/>
<ellipse cx="427.04" cy="755.23" rx="3.84" ry="3.44" fill="#cf8a6a" fill-opacity="0.75" transform="rotate(53 427.04 755.23)"/>
<ellipse cx="446.96" cy="790.54" rx="4.24" ry="3.06" fill="#e2b49e" fill-opacity="0.75" transform="rotate(92 446.96 790.54)"/>
<ellipse cx="418.35" cy="808.88" rx="5.27" ry="3.67" fill="#d5a090" fill-opacity="0.75" transform="rotate(23 418.35 808.88)"/>
<ellipse cx="434.9" cy="780.58" rx="4.76" ry="2.75" fill="#cf8a6a" fill-opacity="0.75" transform="rotate(79 434.9 780.58)"/>
<ellipse cx="500.75" cy="849.89" rx="2.95" ry="2.74" fill="#e2b49e" fill-opacity="0.75" transform="rotate(121 500.75 849.89)"/>
<ellipse cx="514.38" cy="807.37" rx="3.87" ry="3.84" fill="#e2b49e" fill-opacity="0.75" transform="rotate(135 514.38 807.37)"/>
<ellipse cx="501.52" cy="860.92" rx="5.24" ry="2.29" fill="#d89a80" fill-opacity="0.75" transform="rotate(38 501.52 860.92)"/>
<ellipse cx="463.55" cy="828.71" rx="4.95" ry="3.66" fill="#d5a090" fill-opacity="0.75" transform="rotate(117 463.55 828.71)"/>
<ellipse cx="413.69" cy="839.23" rx="5.24" ry="2.31" fill="#e2b49e" fill-opacity="0.75" transform="rotate(9 413.69 839.23)"/>
<ellipse cx="477.59" cy="786.72" rx="4.69" ry="2.96" fill="#d89a80" fill-opacity="0.75" transform="rotate(111 477.59 786.72)"/>
<ellipse cx="483.64" cy="765.45" rx="3.55" ry="3.88" fill="#e2b49e" fill-opacity="0.75" transform="rotate(49 483.64 765.45)"/>
<ellipse cx="448.24" cy="777.82" rx="2.5" ry="2.98" fill="#eed2c2" fill-opacity="0.75" transform="rotate(117 448.24 777.82)"/>
<ellipse cx="435.76" cy="788.12" rx="4.16" ry="2.32" fill="#d89a80" fill-opacity="0.75" transform="rotate(63 435.76 788.12)"/>
<ellipse cx="407.34" cy="798.71" rx="3.58" ry="1.85" fill="#d5a090" fill-opacity="0.75" transform="rotate(127 407.34 798.71)"/>
<ellipse cx="504.87" cy="824.84" rx="3.4" ry="3.27" fill="#e2b49e" fill-opacity="0.75" transform="rotate(94 504.87 824.84)"/>
<ellipse cx="429.85" cy="756.78" rx="5.01" ry="2.6" fill="#e8c4b0" fill-opacity="0.75" transform="rotate(101 429.85 756.78)"/>
<ellipse cx="426.58" cy="841.47" rx="5.46" ry="1.95" fill="#d5a090" fill-opacity="0.75" transform="rotate(126 426.58 841.47)"/>
<ellipse cx="514.56" cy="787.6" rx="3.31" ry="2.29" fill="#d89a80" fill-opacity="0.75" transform="rotate(75 514.56 787.6)"/>
<ellipse cx="416.43" cy="822.22" rx="3.16" ry="2.29" fill="#eed2c2" fill-opacity="0.75" transform="rotate(106 416.43 822.22)"/>
<ellipse cx="507.79" cy="759.26" rx="3.01" ry="2.67" fill="#eed2c2" fill-opacity="0.75" transform="rotate(54 507.79 759.26)"/>
<ellipse cx="406.69" cy="819.17" rx="2.68" ry="1.93" fill="#cf8a6a" fill-opacity="0.75" transform="rotate(100 406.69 819.17)"/>
<ellipse cx="455.26" cy="832.04" rx="5.06" ry="3.99" fill="#e8c4b0" fill-opacity="0.75" transform="rotate(42 455.26 832.04)"/>
<ellipse cx="441.53" cy="773.59" rx="5.11" ry="1.87" fill="#eed2c2" fill-opacity="0.75" transform="rotate(170 441.53 773.59)"/>
<ellipse cx="486.69" cy="846.14" rx="4.05" ry="2.04" fill="#e8c4b0" fill-opacity="0.75" transform="rotate(20 486.69 846.14)"/>
<ellipse cx="435.9" cy="792.01" rx="4.46" ry="3.47" fill="#e2b49e" fill-opacity="0.75" transform="rotate(97 435.9 792.01)"/>
<ellipse cx="444.66" cy="844.19" rx="2.81" ry="3.35" fill="#cf8a6a" fill-opacity="0.75" transform="rotate(50 444.66 844.19)"/>
<ellipse cx="446.49" cy="855.07" rx="3.63" ry="3.42" fill="#d89a80" fill-opacity="0.75" transform="rotate(121 446.49 855.07)"/>
<ellipse cx="407.45" cy="798.6" rx="5.18" ry="1.89" fill="#d5a090" fill-opacity="0.75" transform="rotate(8 407.45 798.6)"/>
<ellipse cx="456.9" cy="842.17" rx="3.4" ry="3.44" fill="#e2b49e" fill-opacity="0.75" transform="rotate(155 456.9 842.17)"/>
<ellipse cx="442.65" cy="783.23" rx="2.65" ry="3.44" fill="#eed2c2" fill-opacity="0.75" transform="rotate(176 442.65 783.23)"/>
<ellipse cx="440.08" cy="783.59" rx="5.03" ry="3.11" fill="#e2b49e" fill-opacity="0.75" transform="rotate(162 440.08 783.59)"/>
<ellipse cx="511.9" cy="760.25" rx="2.88" ry="3.37" fill="#d89a80" fill-opacity="0.75" transform="rotate(119 511.9 760.25)"/>
<ellipse cx="512.75" cy="795.9" rx="5.7" ry="3.59" fill="#e8c4b0" fill-opacity="0.75" transform="rotate(33 512.75 795.9)"/>
<ellipse cx="509.8" cy="773.31" rx="3.56" ry="3.32" fill="#d5a090" fill-opacity="0.75" transform="rotate(38 509.8 773.31)"/>
<ellipse cx="473.23" cy="789.39" rx="4.11" ry="3.52" fill="#e8c4b0" fill-opacity="0.75" transform="rotate(152 473.23 789.39)"/>
<ellipse cx="413.01" cy="774.9" rx="3.37" ry="1.94" fill="#d89a80" fill-opacity="0.75" transform="rotate(8 413.01 774.9)"/>
<ellipse cx="458.91" cy="813.45" rx="5.93" ry="3.74" fill="#d89a80" fill-opacity="0.75" transform="rotate(18 458.91 813.45)"/>
<ellipse cx="434.2" cy="762.33" rx="3.97" ry="3.97" fill="#e2b49e" fill-opacity="0.75" transform="rotate(114 434.2 762.33)"/>
<ellipse cx="423.74" cy="767.76" rx="4.67" ry="3.28" fill="#cf8a6a" fill-opacity="0.75" transform="rotate(137 423.74 767.76)"/>
<ellipse cx="500.56" cy="826.75" rx="5.23" ry="2.45" fill="#e2b49e" fill-opacity="0.75" transform="rotate(71 500.56 826.75)"/>
<ellipse cx="468.62" cy="794.4" rx="3.41" ry="2.77" fill="#d5a090" fill-opacity="0.75" transform="rotate(47 468.62 794.4)"/>
<ellipse cx="431.97" cy="770.02" rx="3.16" ry="1.94" fill="#eed2c2" fill-opacity="0.75" transform="rotate(64 431.97 770.02)"/>
<ellipse cx="517.14" cy="809.31" rx="4.77" ry="2.02" fill="#d89a80" fill-opacity="0.75" transform="rotate(118 517.14 809.31)"/>
<ellipse cx="516.97" cy="764.36" rx="5.59" ry="2.31" fill="#cf8a6a" fill-opacity="0.75" transform="rotate(114 516.97 764.36)"/>
<ellipse cx="508.24" cy="757.48" rx="3.32" ry="1.91" fill="#e8c4b0" fill-opacity="0.75" transform="rotate(153 508.24 757.48)"/>
<ellipse cx="514.92" cy="817.73" rx="3.8" ry="3.71" fill="#e2b49e" fill-opacity="0.75" transform="rotate(114 514.92 817.73)"/>
<ellipse cx="472.75" cy="839.02" rx="5.81" ry="2.03" fill="#d5a090" fill-opacity="0.75" transform="rotate(152 472.75 839.02)"/>
<ellipse cx="484.91" cy="791.82" rx="3.79" ry="2.11" fill="#e2b49e" fill-opacity="0.75" transform="rotate(52 484.91 791.82)"/>
<ellipse cx="517.99" cy="757.24" rx="4.78" ry="2.25" fill="#d5a090" fill-opacity="0.75" transform="rotate(2 517.99 757.24)"/>
<ellipse cx="497.35" cy="798.4" rx="3.15" ry="2.49" fill="#e8c4b0" fill-opacity="0.75" transform="rotate(52 497.35 798.4)"/>
<ellipse cx="407.59" cy="808.01" rx="2.72" ry="2.02" fill="#cf8a6a" fill-opacity="0.75" transform="rotate(101 407.59 808.01)"/>
<ellipse cx="479.7" cy="770.16" rx="2.82" ry="2.16" fill="#eed2c2" fill-opacity="0.75" transform="rotate(178 479.7 770.16)"/>
<ellipse cx="434.91" cy="862.69" rx="3.58" ry="3.9" fill="#d5a090" fill-opacity="0.75" transform="rotate(79 434.91 862.69)"/>
<ellipse cx="488.97" cy="851.09" rx="3.96" ry="3.7" fill="#cf8a6a" fill-opacity="0.75" transform="rotate(93 488.97 851.09)"/>
<ellipse cx="477.47" cy="796.37" rx="3.92" ry="3.88" fill="#fbf6f2" fill-opacity="0.9" transform="rotate(111 477.47 796.37)"/>
<ellipse cx="506.79" cy="800.04" rx="5.37" ry="2.81" fill="#fbf6f2" fill-opacity="0.9" transform="rotate(93 506.79 800.04)"/>
<ellipse cx="456.54" cy="771.04" rx="2.55" ry="3.1" fill="#fbf6f2" fill-opacity="0.9" transform="rotate(164 456.54 771.04)"/>
<ellipse cx="495.94" cy="797.04" rx="4.51" ry="3.85" fill="#fbf6f2" fill-opacity="0.9" transform="rotate(129 495.94 797.04)"/>
<ellipse cx="423.57" cy="791.62" rx="3.07" ry="2.34" fill="#fbf6f2" fill-opacity="0.9" transform="rotate(17 423.57 791.62)"/>
<ellipse cx="416.4" cy="807.45" rx="5.32" ry="3.93" fill="#fbf6f2" fill-opacity="0.9" transform="rotate(50 416.4 807.45)"/>
<ellipse cx="438.38" cy="845.94" rx="2.65" ry="3.83" fill="#fbf6f2" fill-opacity="0.9" transform="rotate(80 438.38 845.94)"/>
<ellipse cx="410.08" cy="855.8" rx="3.86" ry="3.81" fill="#fbf6f2" fill-opacity="0.9" transform="rotate(158 410.08 855.8)"/>
<ellipse cx="482.46" cy="851.92" rx="4.74" ry="3.71" fill="#fbf6f2" fill-opacity="0.9" transform="rotate(158 482.46 851.92)"/>
<ellipse cx="450.11" cy="846.95" rx="5.4" ry="2.37" fill="#fbf6f2" fill-opacity="0.9" transform="rotate(55 450.11 846.95)"/>
<ellipse cx="408.76" cy="857.18" rx="3.05" ry="2.72" fill="#fbf6f2" fill-opacity="0.9" transform="rotate(38 408.76 857.18)"/>
<ellipse cx="432.16" cy="833.46" rx="5.64" ry="2.08" fill="#fbf6f2" fill-opacity="0.9" transform="rotate(143 432.16 833.46)"/>
<ellipse cx="500.04" cy="827.62" rx="4.84" ry="2.65" fill="#fbf6f2" fill-opacity="0.9" transform="rotate(99 500.04 827.62)"/>
<ellipse cx="472.35" cy="814.06" rx="4.69" ry="2.61" fill="#fbf6f2" fill-opacity="0.9" transform="rotate(107 472.35 814.06)"/>
<ellipse cx="439.14" cy="780.67" rx="3.86" ry="2.73" fill="#fbf6f2" fill-opacity="0.9" transform="rotate(128 439.14 780.67)"/>
<ellipse cx="453.97" cy="755.59" rx="4.67" ry="2.98" fill="#fbf6f2" fill-opacity="0.9" transform="rotate(60 453.97 755.59)"/>
<ellipse cx="454.94" cy="821.66" rx="5.37" ry="3.67" fill="#fbf6f2" fill-opacity="0.9" transform="rotate(121 454.94 821.66)"/>
<ellipse cx="449.64" cy="760.45" rx="3.76" ry="2.73" fill="#fbf6f2" fill-opacity="0.9" transform="rotate(113 449.64 760.45)"/>
<ellipse cx="461.49" cy="825.94" rx="2.64" ry="2.26" fill="#fbf6f2" fill-opacity="0.9" transform="rotate(80 461.49 825.94)"/>
<ellipse cx="492.65" cy="809.77" rx="2.69" ry="3.01" fill="#fbf6f2" fill-opacity="0.9" transform="rotate(96 492.65 809.77)"/>
<ellipse cx="478.41" cy="840.05" rx="2.59" ry="2.13" fill="#fbf6f2" fill-opacity="0.9" transform="rotate(157 478.41 840.05)"/>
<ellipse cx="487.46" cy="843.46" rx="3.18" ry="3.96" fill="#fbf6f2" fill-opacity="0.9" transform="rotate(125 487.46 843.46)"/>
<ellipse cx="436.82" cy="843.02" rx="5.28" ry="3.37" fill="#fbf6f2" fill-opacity="0.9" transform="rotate(56 436.82 843.02)"/>
<ellipse cx="411.47" cy="791.95" rx="5.15" ry="2.32" fill="#fbf6f2" fill-opacity="0.9" transform="rotate(157 411.47 791.95)"/>
<ellipse cx="435.35" cy="843.53" rx="3" ry="3" fill="#fbf6f2" fill-opacity="0.9" transform="rotate(122 435.35 843.53)"/>
<ellipse cx="427.75" cy="782.18" rx="4.27" ry="2.64" fill="#fbf6f2" fill-opacity="0.9" transform="rotate(9 427.75 782.18)"/>
<ellipse cx="426.68" cy="797.78" rx="4.73" ry="2.56" fill="#fbf6f2" fill-opacity="0.9" transform="rotate(83 426.68 797.78)"/>
<ellipse cx="506.08" cy="771.73" rx="5.25" ry="2.23" fill="#fbf6f2" fill-opacity="0.9" transform="rotate(135 506.08 771.73)"/>
<ellipse cx="409.54" cy="848.27" rx="5.88" ry="2.91" fill="#fbf6f2" fill-opacity="0.9" transform="rotate(133 409.54 848.27)"/>
<ellipse cx="470.12" cy="850.96" rx="2.87" ry="3.99" fill="#fbf6f2" fill-opacity="0.9" transform="rotate(161 470.12 850.96)"/>
<ellipse cx="501.65" cy="834.91" rx="3.8" ry="2.75" fill="#fbf6f2" fill-opacity="0.9" transform="rotate(94 501.65 834.91)"/>
<ellipse cx="469.82" cy="792.99" rx="5.18" ry="2.88" fill="#fbf6f2" fill-opacity="0.9" transform="rotate(45 469.82 792.99)"/>
<ellipse cx="474.15" cy="859.34" rx="3.54" ry="3.03" fill="#fbf6f2" fill-opacity="0.9" transform="rotate(79 474.15 859.34)"/>
<ellipse cx="476.87" cy="862.23" rx="4.55" ry="3.33" fill="#fbf6f2" fill-opacity="0.9" transform="rotate(80 476.87 862.23)"/>
<ellipse cx="487.57" cy="835.93" rx="3.28" ry="2.58" fill="#fbf6f2" fill-opacity="0.9" transform="rotate(160 487.57 835.93)"/>
<ellipse cx="453.27" cy="809.91" rx="5.63" ry="2.26" fill="#fbf6f2" fill-opacity="0.9" transform="rotate(58 453.27 809.91)"/>
<ellipse cx="473.83" cy="758.06" rx="2.69" ry="3.13" fill="#fbf6f2" fill-opacity="0.9" transform="rotate(77 473.83 758.06)"/>
<ellipse cx="416.13" cy="792.64" rx="3.28" ry="3.17" fill="#fbf6f2" fill-opacity="0.9" transform="rotate(150 416.13 792.64)"/>
<ellipse cx="419.24" cy="793.65" rx="5.4" ry="2.32" fill="#fbf6f2" fill-opacity="0.9" transform="rotate(3 419.24 793.65)"/>
<ellipse cx="510.77" cy="780.04" rx="3.02" ry="2.19" fill="#fbf6f2" fill-opacity="0.9" transform="rotate(163 510.77 780.04)"/>
<ellipse cx="420.49" cy="826.87" rx="3.44" ry="3.62" fill="#fbf6f2" fill-opacity="0.9" transform="rotate(2 420.49 826.87)"/>
<ellipse cx="410.4" cy="844.12" rx="5.62" ry="3.19" fill="#fbf6f2" fill-opacity="0.9" transform="rotate(148 410.4 844.12)"/>
<ellipse cx="454.59" cy="857.02" rx="5.07" ry="2.5" fill="#fbf6f2" fill-opacity="0.9" transform="rotate(0 454.59 857.02)"/>
<ellipse cx="409.02" cy="812" rx="3.92" ry="2.48" fill="#fbf6f2" fill-opacity="0.9" transform="rotate(14 409.02 812)"/>
<ellipse cx="507.94" cy="764.65" rx="4.64" ry="3.31" fill="#fbf6f2" fill-opacity="0.9" transform="rotate(50 507.94 764.65)"/>
<ellipse cx="420.22" cy="775.15" rx="4.63" ry="3.01" fill="#fbf6f2" fill-opacity="0.9" transform="rotate(164 420.22 775.15)"/>
<ellipse cx="451.34" cy="821.06" rx="4.28" ry="2.13" fill="#fbf6f2" fill-opacity="0.9" transform="rotate(160 451.34 821.06)"/>
<ellipse cx="409.53" cy="851.72" rx="5.24" ry="3.43" fill="#fbf6f2" fill-opacity="0.9" transform="rotate(1 409.53 851.72)"/>
<ellipse cx="446.77" cy="801.47" rx="5.69" ry="2.16" fill="#fbf6f2" fill-opacity="0.9" transform="rotate(167 446.77 801.47)"/>
<ellipse cx="455.58" cy="778.08" rx="2.87" ry="2.46" fill="#fbf6f2" fill-opacity="0.9" transform="rotate(9 455.58 778.08)"/>
<ellipse cx="418.05" cy="851.93" rx="5.74" ry="3.89" fill="#fbf6f2" fill-opacity="0.9" transform="rotate(67 418.05 851.93)"/>
<ellipse cx="485.13" cy="782.52" rx="4.44" ry="2.87" fill="#fbf6f2" fill-opacity="0.9" transform="rotate(133 485.13 782.52)"/>
<ellipse cx="514.8" cy="785.81" rx="5.75" ry="3.79" fill="#fbf6f2" fill-opacity="0.9" transform="rotate(21 514.8 785.81)"/>
<ellipse cx="504.33" cy="754.69" rx="3.41" ry="2.47" fill="#fbf6f2" fill-opacity="0.9" transform="rotate(51 504.33 754.69)"/>
<ellipse cx="511.7" cy="835.82" rx="3.64" ry="3.76" fill="#fbf6f2" fill-opacity="0.9" transform="rotate(84 511.7 835.82)"/>
<ellipse cx="472.54" cy="795.12" rx="5.48" ry="3.84" fill="#fbf6f2" fill-opacity="0.9" transform="rotate(170 472.54 795.12)"/>
<ellipse cx="499.93" cy="812.54" rx="4.15" ry="3.06" fill="#fbf6f2" fill-opacity="0.9" transform="rotate(1 499.93 812.54)"/>
<ellipse cx="501.76" cy="801.53" rx="5.04" ry="3.14" fill="#fbf6f2" fill-opacity="0.9" transform="rotate(78 501.76 801.53)"/>
<ellipse cx="493.97" cy="796.46" rx="4.55" ry="3.13" fill="#fbf6f2" fill-opacity="0.9" transform="rotate(43 493.97 796.46)"/>
<ellipse cx="420.48" cy="755.99" rx="2.87" ry="3.86" fill="#fbf6f2" fill-opacity="0.9" transform="rotate(88 420.48 755.99)"/>
<ellipse cx="511.61" cy="829.18" rx="2.28" ry="2.57" fill="#8a5676" fill-opacity="0.85" transform="rotate(162 511.61 829.18)"/>
<ellipse cx="412.52" cy="763.99" rx="2.33" ry="2.43" fill="#8a5676" fill-opacity="0.85" transform="rotate(93 412.52 763.99)"/>
<ellipse cx="429.13" cy="855.32" rx="3.96" ry="2.66" fill="#966888" fill-opacity="0.85" transform="rotate(98 429.13 855.32)"/>
<ellipse cx="419.35" cy="778.19" rx="2.27" ry="2.93" fill="#966888" fill-opacity="0.85" transform="rotate(162 419.35 778.19)"/>
<ellipse cx="417.27" cy="834.4" rx="3.15" ry="1.79" fill="#a05030" fill-opacity="0.85" transform="rotate(165 417.27 834.4)"/>
<ellipse cx="429.73" cy="789.87" rx="2.72" ry="2.09" fill="#b0603c" fill-opacity="0.85" transform="rotate(72 429.73 789.87)"/>
<ellipse cx="413.13" cy="835.26" rx="3.74" ry="2.44" fill="#92402a" fill-opacity="0.85" transform="rotate(121 413.13 835.26)"/>
<ellipse cx="498.25" cy="820.68" rx="3.78" ry="1.64" fill="#8a5676" fill-opacity="0.85" transform="rotate(132 498.25 820.68)"/>
<ellipse cx="489.94" cy="792.72" rx="3.28" ry="1.9" fill="#8a5676" fill-opacity="0.85" transform="rotate(23 489.94 792.72)"/>
<ellipse cx="468.9" cy="786.57" rx="2.2" ry="1.88" fill="#b0603c" fill-opacity="0.85" transform="rotate(13 468.9 786.57)"/>
<ellipse cx="408.46" cy="807.55" rx="3.59" ry="2.76" fill="#bc7248" fill-opacity="0.85" transform="rotate(126 408.46 807.55)"/>
<ellipse cx="470.81" cy="855.59" rx="3.36" ry="1.82" fill="#a05030" fill-opacity="0.85" transform="rotate(54 470.81 855.59)"/>
<ellipse cx="507.46" cy="780.85" rx="2.42" ry="2.49" fill="#7a4662" fill-opacity="0.85" transform="rotate(20 507.46 780.85)"/>
<ellipse cx="459.97" cy="859.08" rx="3.46" ry="2.1" fill="#966888" fill-opacity="0.85" transform="rotate(102 459.97 859.08)"/>
<ellipse cx="506.42" cy="848.86" rx="3.04" ry="2.5" fill="#966888" fill-opacity="0.85" transform="rotate(95 506.42 848.86)"/>
<ellipse cx="429.85" cy="784.11" rx="2.96" ry="2.84" fill="#7a4662" fill-opacity="0.85" transform="rotate(59 429.85 784.11)"/>
<ellipse cx="508.06" cy="770.07" rx="2.9" ry="2.06" fill="#8a5676" fill-opacity="0.85" transform="rotate(39 508.06 770.07)"/>
<ellipse cx="500.01" cy="803.38" rx="2.54" ry="2.21" fill="#92402a" fill-opacity="0.85" transform="rotate(65 500.01 803.38)"/>
<ellipse cx="469.39" cy="769.98" rx="3.49" ry="2.58" fill="#bc7248" fill-opacity="0.85" transform="rotate(129 469.39 769.98)"/>
<ellipse cx="428.31" cy="788.06" rx="3.65" ry="2.96" fill="#7a4662" fill-opacity="0.85" transform="rotate(83 428.31 788.06)"/>
<ellipse cx="471.91" cy="792.91" rx="2.86" ry="1.86" fill="#a07c98" fill-opacity="0.85" transform="rotate(26 471.91 792.91)"/>
<ellipse cx="425.45" cy="824.76" rx="2.97" ry="2.98" fill="#a07c98" fill-opacity="0.85" transform="rotate(77 425.45 824.76)"/>
<ellipse cx="485.73" cy="801.8" rx="2.42" ry="2.88" fill="#a07c98" fill-opacity="0.85" transform="rotate(71 485.73 801.8)"/>
<ellipse cx="429.88" cy="797" rx="2.23" ry="2.8" fill="#8a5676" fill-opacity="0.85" transform="rotate(111 429.88 797)"/>
<ellipse cx="481.5" cy="808.55" rx="3.13" ry="1.8" fill="#a05030" fill-opacity="0.85" transform="rotate(154 481.5 808.55)"/>
<ellipse cx="486.25" cy="757.57" rx="4.02" ry="2.2" fill="#a07c98" fill-opacity="0.85" transform="rotate(146 486.25 757.57)"/>
<ellipse cx="470.27" cy="823.66" rx="3.54" ry="2.51" fill="#a07c98" fill-opacity="0.85" transform="rotate(164 470.27 823.66)"/>
<ellipse cx="482.21" cy="844.8" rx="3.48" ry="2.24" fill="#7a4662" fill-opacity="0.85" transform="rotate(80 482.21 844.8)"/>
<ellipse cx="435.54" cy="829.17" rx="2.68" ry="2.16" fill="#b0603c" fill-opacity="0.85" transform="rotate(161 435.54 829.17)"/>
<ellipse cx="424.58" cy="844.49" rx="3.11" ry="2.47" fill="#bc7248" fill-opacity="0.85" transform="rotate(104 424.58 844.49)"/>
<ellipse cx="462.93" cy="825.09" rx="3.99" ry="2.06" fill="#7a4662" fill-opacity="0.85" transform="rotate(2 462.93 825.09)"/>
<ellipse cx="449.2" cy="807.45" rx="2.28" ry="2.36" fill="#966888" fill-opacity="0.85" transform="rotate(41 449.2 807.45)"/>
<ellipse cx="483.92" cy="854.99" rx="3.24" ry="1.74" fill="#a07c98" fill-opacity="0.85" transform="rotate(147 483.92 854.99)"/>
<ellipse cx="456.42" cy="778.11" rx="3.22" ry="2.49" fill="#bc7248" fill-opacity="0.85" transform="rotate(94 456.42 778.11)"/>
<ellipse cx="463.3" cy="799.27" rx="2.62" ry="2.56" fill="#bc7248" fill-opacity="0.85" transform="rotate(100 463.3 799.27)"/>
<ellipse cx="462.46" cy="853.07" rx="3.48" ry="1.95" fill="#92402a" fill-opacity="0.85" transform="rotate(97 462.46 853.07)"/>
<ellipse cx="450.37" cy="758.37" rx="4.03" ry="2.48" fill="#b0603c" fill-opacity="0.85" transform="rotate(172 450.37 758.37)"/>
<ellipse cx="445.33" cy="784.31" rx="2.81" ry="2.16" fill="#a07c98" fill-opacity="0.85" transform="rotate(134 445.33 784.31)"/>
<ellipse cx="510.98" cy="859.41" rx="3.12" ry="1.83" fill="#b0603c" fill-opacity="0.85" transform="rotate(17 510.98 859.41)"/>
<ellipse cx="493.81" cy="822.33" rx="3.48" ry="2.61" fill="#bc7248" fill-opacity="0.85" transform="rotate(37 493.81 822.33)"/>
<ellipse cx="445.43" cy="822.8" rx="3.14" ry="2.01" fill="#b0603c" fill-opacity="0.85" transform="rotate(140 445.43 822.8)"/>
<ellipse cx="476.86" cy="837.32" rx="2.91" ry="2.79" fill="#bc7248" fill-opacity="0.85" transform="rotate(68 476.86 837.32)"/>
<ellipse cx="482.65" cy="827.81" rx="3.56" ry="2.27" fill="#b0603c" fill-opacity="0.85" transform="rotate(71 482.65 827.81)"/>
<ellipse cx="445.95" cy="824.4" rx="3.16" ry="2.2" fill="#92402a" fill-opacity="0.85" transform="rotate(163 445.95 824.4)"/>
<ellipse cx="417.05" cy="849.39" rx="4.06" ry="2.8" fill="#7a4662" fill-opacity="0.85" transform="rotate(14 417.05 849.39)"/>
<ellipse cx="417.04" cy="815.15" rx="3.77" ry="1.8" fill="#92402a" fill-opacity="0.85" transform="rotate(88 417.04 815.15)"/>
<ellipse cx="475.12" cy="758.54" rx="2.62" ry="1.7" fill="#8a5676" fill-opacity="0.85" transform="rotate(75 475.12 758.54)"/>
<ellipse cx="434.5" cy="767.46" rx="3.91" ry="1.86" fill="#7a4662" fill-opacity="0.85" transform="rotate(115 434.5 767.46)"/>
<ellipse cx="444.72" cy="772.73" rx="3.78" ry="1.84" fill="#b0603c" fill-opacity="0.85" transform="rotate(176 444.72 772.73)"/>
<ellipse cx="472.49" cy="837.47" rx="2.59" ry="2.57" fill="#a05030" fill-opacity="0.85" transform="rotate(135 472.49 837.47)"/>
<ellipse cx="416.33" cy="843.45" rx="3.31" ry="1.97" fill="#966888" fill-opacity="0.85" transform="rotate(59 416.33 843.45)"/>
<ellipse cx="495.67" cy="805.74" rx="3.17" ry="2.87" fill="#8a5676" fill-opacity="0.85" transform="rotate(179 495.67 805.74)"/>
<ellipse cx="460.09" cy="808.31" rx="2.52" ry="2.05" fill="#8a5676" fill-opacity="0.85" transform="rotate(178 460.09 808.31)"/>
<ellipse cx="467.63" cy="825.53" rx="2.95" ry="2.19" fill="#bc7248" fill-opacity="0.85" transform="rotate(173 467.63 825.53)"/>
<ellipse cx="415.99" cy="822.62" rx="2.24" ry="1.66" fill="#8a5676" fill-opacity="0.85" transform="rotate(84 415.99 822.62)"/>
<ellipse cx="493.71" cy="766.68" rx="3.17" ry="2.86" fill="#bc7248" fill-opacity="0.85" transform="rotate(8 493.71 766.68)"/>
<ellipse cx="430.62" cy="799.81" rx="2.88" ry="2.81" fill="#7a4662" fill-opacity="0.85" transform="rotate(93 430.62 799.81)"/>
<ellipse cx="444.18" cy="837.19" rx="2.77" ry="2.08" fill="#a07c98" fill-opacity="0.85" transform="rotate(64 444.18 837.19)"/>
<ellipse cx="466.73" cy="842.15" rx="2.91" ry="2.29" fill="#a05030" fill-opacity="0.85" transform="rotate(85 466.73 842.15)"/>
<ellipse cx="461.4" cy="784.98" rx="4.15" ry="2.52" fill="#92402a" fill-opacity="0.85" transform="rotate(30 461.4 784.98)"/>
<ellipse cx="443.08" cy="789.66" rx="2.46" ry="2.96" fill="#a05030" fill-opacity="0.85" transform="rotate(22 443.08 789.66)"/>
<ellipse cx="491.13" cy="761.13" rx="3.29" ry="1.67" fill="#b0603c" fill-opacity="0.85" transform="rotate(76 491.13 761.13)"/>
<ellipse cx="419.5" cy="761.78" rx="3.42" ry="2.52" fill="#bc7248" fill-opacity="0.85" transform="rotate(128 419.5 761.78)"/>
<ellipse cx="504.44" cy="820.01" rx="3.45" ry="2.57" fill="#7a4662" fill-opacity="0.85" transform="rotate(152 504.44 820.01)"/>
<ellipse cx="500.89" cy="765.55" rx="3.53" ry="2.24" fill="#8a5676" fill-opacity="0.85" transform="rotate(44 500.89 765.55)"/>
<ellipse cx="418.74" cy="775.67" rx="3.04" ry="1.74" fill="#8a5676" fill-opacity="0.85" transform="rotate(167 418.74 775.67)"/>
<ellipse cx="409.42" cy="846.81" rx="3.77" ry="2.39" fill="#7a4662" fill-opacity="0.85" transform="rotate(66 409.42 846.81)"/>
<ellipse cx="499.42" cy="776.03" rx="2.84" ry="2.2" fill="#8a5676" fill-opacity="0.85" transform="rotate(164 499.42 776.03)"/>
<ellipse cx="469.3" cy="851.12" rx="3.34" ry="1.66" fill="#bc7248" fill-opacity="0.85" transform="rotate(30 469.3 851.12)"/>
<ellipse cx="490.02" cy="800.37" rx="3.09" ry="1.62" fill="#b0603c" fill-opacity="0.85" transform="rotate(99 490.02 800.37)"/>
<ellipse cx="470.95" cy="859.29" rx="3.15" ry="2.18" fill="#7a4662" fill-opacity="0.85" transform="rotate(26 470.95 859.29)"/>
<ellipse cx="416.79" cy="805.64" rx="3.45" ry="2.2" fill="#7a4662" fill-opacity="0.85" transform="rotate(2 416.79 805.64)"/>
<ellipse cx="480.48" cy="769.53" rx="2.64" ry="1.77" fill="#966888" fill-opacity="0.85" transform="rotate(120 480.48 769.53)"/>
<ellipse cx="409.88" cy="831.09" rx="3.1" ry="2.64" fill="#a07c98" fill-opacity="0.85" transform="rotate(12 409.88 831.09)"/>
<ellipse cx="446.78" cy="833.97" rx="3.66" ry="1.72" fill="#7a4662" fill-opacity="0.85" transform="rotate(160 446.78 833.97)"/>
<ellipse cx="467.09" cy="808.3" rx="4.03" ry="1.67" fill="#a05030" fill-opacity="0.85" transform="rotate(8 467.09 808.3)"/>
<ellipse cx="409.21" cy="758.52" rx="2.98" ry="2.04" fill="#966888" fill-opacity="0.85" transform="rotate(153 409.21 758.52)"/>
<ellipse cx="425.6" cy="845.68" rx="3.42" ry="2.04" fill="#bc7248" fill-opacity="0.85" transform="rotate(147 425.6 845.68)"/>
<ellipse cx="485.14" cy="805.39" rx="2.49" ry="2.72" fill="#7a4662" fill-opacity="0.85" transform="rotate(92 485.14 805.39)"/>
<ellipse cx="509.11" cy="773.89" rx="3.15" ry="2.69" fill="#b0603c" fill-opacity="0.85" transform="rotate(115 509.11 773.89)"/>
<ellipse cx="508.16" cy="837.82" rx="2.78" ry="1.68" fill="#92402a" fill-opacity="0.85" transform="rotate(166 508.16 837.82)"/>
<ellipse cx="482.55" cy="842.22" rx="3.94" ry="2.62" fill="#92402a" fill-opacity="0.85" transform="rotate(3 482.55 842.22)"/>
<ellipse cx="496.12" cy="818.92" rx="3.37" ry="2.97" fill="#a05030" fill-opacity="0.85" transform="rotate(63 496.12 818.92)"/>
<ellipse cx="447.93" cy="827.54" rx="3.81" ry="2" fill="#a07c98" fill-opacity="0.85" transform="rotate(0 447.93 827.54)"/>
<ellipse cx="442.08" cy="784.61" rx="3.37" ry="2.74" fill="#7a4662" fill-opacity="0.85" transform="rotate(10 442.08 784.61)"/>
<ellipse cx="438.58" cy="771.49" rx="2.75" ry="2.79" fill="#7a4662" fill-opacity="0.85" transform="rotate(140 438.58 771.49)"/>
<ellipse cx="480.57" cy="851.12" rx="3.27" ry="2.36" fill="#92402a" fill-opacity="0.85" transform="rotate(124 480.57 851.12)"/>
<ellipse cx="492.52" cy="777.64" rx="2.82" ry="1.68" fill="#a07c98" fill-opacity="0.85" transform="rotate(101 492.52 777.64)"/>
<ellipse cx="457.32" cy="778.28" rx="3.37" ry="1.61" fill="#a05030" fill-opacity="0.85" transform="rotate(98 457.32 778.28)"/>
<ellipse cx="456.73" cy="766.03" rx="3.74" ry="1.93" fill="#92402a" fill-opacity="0.85" transform="rotate(148 456.73 766.03)"/>
<ellipse cx="463.23" cy="783.73" rx="3.15" ry="2.43" fill="#92402a" fill-opacity="0.85" transform="rotate(48 463.23 783.73)"/>
<ellipse cx="430.55" cy="766.5" rx="2.93" ry="2.39" fill="#a05030" fill-opacity="0.85" transform="rotate(103 430.55 766.5)"/>
<ellipse cx="490.64" cy="845.27" rx="2.29" ry="3" fill="#a07c98" fill-opacity="0.85" transform="rotate(95 490.64 845.27)"/>
<ellipse cx="499.84" cy="795.28" rx="3.77" ry="1.82" fill="#bc7248" fill-opacity="0.85" transform="rotate(152 499.84 795.28)"/>
<ellipse cx="411.22" cy="785.9" rx="2.39" ry="1.89" fill="#8a5676" fill-opacity="0.85" transform="rotate(144 411.22 785.9)"/>
<ellipse cx="459.55" cy="815.42" rx="4.05" ry="1.99" fill="#a05030" fill-opacity="0.85" transform="rotate(24 459.55 815.42)"/>
<ellipse cx="508.33" cy="836.03" rx="2.71" ry="1.65" fill="#7a4662" fill-opacity="0.85" transform="rotate(51 508.33 836.03)"/>
<ellipse cx="513.43" cy="795.95" rx="2.3" ry="2.38" fill="#8a5676" fill-opacity="0.85" transform="rotate(180 513.43 795.95)"/>
<ellipse cx="456.58" cy="854.56" rx="3.93" ry="2.5" fill="#966888" fill-opacity="0.85" transform="rotate(30 456.58 854.56)"/>
<ellipse cx="482.88" cy="766.27" rx="3.33" ry="2.5" fill="#92402a" fill-opacity="0.85" transform="rotate(171 482.88 766.27)"/>
<ellipse cx="461.69" cy="775.82" rx="2.94" ry="1.93" fill="#7a4662" fill-opacity="0.85" transform="rotate(56 461.69 775.82)"/>
<ellipse cx="426.25" cy="854" rx="2.32" ry="2.37" fill="#92402a" fill-opacity="0.85" transform="rotate(7 426.25 854)"/>
<ellipse cx="496.75" cy="761.85" rx="2.31" ry="1.8" fill="#bc7248" fill-opacity="0.85" transform="rotate(1 496.75 761.85)"/>
<ellipse cx="507.57" cy="826.72" rx="3.38" ry="2.22" fill="#a05030" fill-opacity="0.85" transform="rotate(167 507.57 826.72)"/>
<ellipse cx="419.17" cy="790.36" rx="2.98" ry="2.12" fill="#a05030" fill-opacity="0.85" transform="rotate(97 419.17 790.36)"/>
<ellipse cx="425.87" cy="781.56" rx="4.03" ry="2.85" fill="#7a4662" fill-opacity="0.85" transform="rotate(119 425.87 781.56)"/>
<ellipse cx="484.03" cy="777.1" rx="2.51" ry="2.77" fill="#8a5676" fill-opacity="0.85" transform="rotate(19 484.03 777.1)"/>
<ellipse cx="507" cy="846.28" rx="3.76" ry="2.94" fill="#7a4662" fill-opacity="0.85" transform="rotate(98 507 846.28)"/>
<ellipse cx="497.28" cy="821.72" rx="4.14" ry="2.05" fill="#bc7248" fill-opacity="0.85" transform="rotate(59 497.28 821.72)"/>
<ellipse cx="458.62" cy="821.7" rx="2.86" ry="2.63" fill="#7a4662" fill-opacity="0.85" transform="rotate(46 458.62 821.7)"/>
<ellipse cx="483.65" cy="814" rx="3.08" ry="1.81" fill="#7a4662" fill-opacity="0.85" transform="rotate(107 483.65 814)"/>
<ellipse cx="451.65" cy="773.04" rx="3.34" ry="2.02" fill="#a05030" fill-opacity="0.85" transform="rotate(42 451.65 773.04)"/>
<ellipse cx="435.63" cy="768.25" rx="4.01" ry="1.76" fill="#bc7248" fill-opacity="0.85" transform="rotate(131 435.63 768.25)"/>
<ellipse cx="414.03" cy="849.19" rx="3.32" ry="2.77" fill="#a07c98" fill-opacity="0.85" transform="rotate(30 414.03 849.19)"/>
<ellipse cx="435.33" cy="777.77" rx="3.06" ry="1.97" fill="#92402a" fill-opacity="0.85" transform="rotate(61 435.33 777.77)"/>
<ellipse cx="506.06" cy="767.05" rx="3.03" ry="1.83" fill="#a05030" fill-opacity="0.85" transform="rotate(75 506.06 767.05)"/>
<ellipse cx="423.3" cy="822.9" rx="3.81" ry="2.08" fill="#bc7248" fill-opacity="0.85" transform="rotate(35 423.3 822.9)"/>
<ellipse cx="454.96" cy="838.33" rx="2.57" ry="2.21" fill="#a05030" fill-opacity="0.85" transform="rotate(104 454.96 838.33)"/>
<ellipse cx="431.14" cy="815.85" rx="3.89" ry="2.33" fill="#7a4662" fill-opacity="0.85" transform="rotate(58 431.14 815.85)"/>
<ellipse cx="483.43" cy="777.26" rx="3.86" ry="2.85" fill="#966888" fill-opacity="0.85" transform="rotate(126 483.43 777.26)"/>
<ellipse cx="488.7" cy="775.06" rx="3.42" ry="2.59" fill="#7a4662" fill-opacity="0.85" transform="rotate(49 488.7 775.06)"/>
<ellipse cx="469.79" cy="777.84" rx="3.58" ry="2.33" fill="#966888" fill-opacity="0.85" transform="rotate(14 469.79 777.84)"/>
<ellipse cx="462.96" cy="792.81" rx="3.88" ry="2.81" fill="#a05030" fill-opacity="0.85" transform="rotate(126 462.96 792.81)"/>
<ellipse cx="417.57" cy="799.18" rx="2.47" ry="2.53" fill="#bc7248" fill-opacity="0.85" transform="rotate(63 417.57 799.18)"/>
<ellipse cx="427.72" cy="842.66" rx="2.27" ry="2.58" fill="#92402a" fill-opacity="0.85" transform="rotate(147 427.72 842.66)"/>
<ellipse cx="471.06" cy="757.48" rx="4.14" ry="1.7" fill="#bc7248" fill-opacity="0.85" transform="rotate(91 471.06 757.48)"/>
<ellipse cx="483.75" cy="841.1" rx="3.76" ry="2.82" fill="#92402a" fill-opacity="0.85" transform="rotate(147 483.75 841.1)"/>
<ellipse cx="487.64" cy="763.3" rx="4.11" ry="2.29" fill="#966888" fill-opacity="0.85" transform="rotate(131 487.64 763.3)"/>
<ellipse cx="410.72" cy="839.86" rx="2.24" ry="2.95" fill="#7a4662" fill-opacity="0.85" transform="rotate(57 410.72 839.86)"/>
<ellipse cx="473.62" cy="774.29" rx="2.7" ry="2.74" fill="#a05030" fill-opacity="0.85" transform="rotate(7 473.62 774.29)"/>
<path d="M487 792 l10 -16 l7 2 l0 58 l-8 2 l-10 -24z" fill="#fdfaf6"/>
<path d="M420 815 l14 -4 l9 6 l-4 10 l-18 -2z" fill="#fcf6f0"/>
<path d="M419 842 l12 -4 l8 6 l-4 9 l-15 -2z" fill="#fcf6f0"/>
<path d="M430 790 l8 -5 l6 8 l-6 7 l-8 -3z" fill="#fcf6f0"/>
<path d="M455 778 l8 -3 l5 8 l-6 6 l-7 -3z" fill="#fcf6f0"/>
<path d="M470 815 l6 -6 l6 6 l-4 10 l-8 -2z" fill="#fcf6f0"/>
<ellipse cx="507.5" cy="795" rx="4" ry="11" fill="#7e3a3c" transform="rotate(10 507.5 795)"/>
<ellipse cx="508" cy="764" rx="6" ry="7" fill="#9a4a30" fill-opacity="0.8"/>
<ellipse cx="416" cy="763" rx="7" ry="4" fill="#b06030" fill-opacity="0.7"/>
<ellipse cx="455" cy="762" rx="6" ry="4" fill="#b86838" fill-opacity="0.7"/>
<ellipse cx="470" cy="760" rx="3" ry="4" fill="#7a4a6a" fill-opacity="0.8"/>
</g></g>
<rect x="380.6" y="847" width="21.2" height="2.8" fill="#000"/>
<rect x="490.3" y="847" width="21.5" height="2.8" fill="#000"/>
<text x="354.2" y="748.9" font-size="15.6" text-anchor="middle" font-weight="bold" font-style="normal" fill="#000">Low grade</text>
<text x="458" y="748.9" font-size="15.6" text-anchor="middle" font-weight="bold" font-style="normal" fill="#000">High grade</text>
<text x="293.3" y="812.2" font-size="14.4" text-anchor="middle" font-weight="bold" font-style="normal" fill="#000" transform="rotate(-90 293.3 812.2)">CBX5</text>
<line x1="539.5" y1="736.4" x2="539.5" y2="857.5" stroke="#666" stroke-width="1"/>
<line x1="539.5" y1="857.5" x2="681.2" y2="857.5" stroke="#666" stroke-width="1"/>
<line x1="536" y1="740.7" x2="539.5" y2="740.7" stroke="#666" stroke-width="1"/>
<text x="532.6" y="743.5" font-size="5.3" text-anchor="middle" font-weight="bold" font-style="normal" fill="#111">1.0</text>
<line x1="536" y1="762.7" x2="539.5" y2="762.7" stroke="#666" stroke-width="1"/>
<text x="532.6" y="765.5" font-size="5.3" text-anchor="middle" font-weight="bold" font-style="normal" fill="#111">0.8</text>
<line x1="536" y1="784.9" x2="539.5" y2="784.9" stroke="#666" stroke-width="1"/>
<text x="532.6" y="787.7" font-size="5.3" text-anchor="middle" font-weight="bold" font-style="normal" fill="#111">0.6</text>
<line x1="536" y1="807.2" x2="539.5" y2="807.2" stroke="#666" stroke-width="1"/>
<text x="532.6" y="810" font-size="5.3" text-anchor="middle" font-weight="bold" font-style="normal" fill="#111">0.4</text>
<line x1="536" y1="829.6" x2="539.5" y2="829.6" stroke="#666" stroke-width="1"/>
<text x="532.6" y="832.4" font-size="5.3" text-anchor="middle" font-weight="bold" font-style="normal" fill="#111">0.2</text>
<line x1="536" y1="852.4" x2="539.5" y2="852.4" stroke="#666" stroke-width="1"/>
<text x="532.6" y="855.2" font-size="5.3" text-anchor="middle" font-weight="bold" font-style="normal" fill="#111">0.0</text>
<line x1="547" y1="857.5" x2="547" y2="860.5" stroke="#666" stroke-width="1"/>
<text x="547" y="867.6" font-size="5.3" text-anchor="middle" font-weight="bold" font-style="normal" fill="#111">0</text>
<line x1="573" y1="857.5" x2="573" y2="860.5" stroke="#666" stroke-width="1"/>
<text x="573" y="867.6" font-size="5.3" text-anchor="middle" font-weight="bold" font-style="normal" fill="#111">20</text>
<line x1="599.7" y1="857.5" x2="599.7" y2="860.5" stroke="#666" stroke-width="1"/>
<text x="599.7" y="867.6" font-size="5.3" text-anchor="middle" font-weight="bold" font-style="normal" fill="#111">40</text>
<line x1="625.5" y1="857.5" x2="625.5" y2="860.5" stroke="#666" stroke-width="1"/>
<text x="625.5" y="867.6" font-size="5.3" text-anchor="middle" font-weight="bold" font-style="normal" fill="#111">60</text>
<line x1="652" y1="857.5" x2="652" y2="860.5" stroke="#666" stroke-width="1"/>
<text x="652" y="867.6" font-size="5.3" text-anchor="middle" font-weight="bold" font-style="normal" fill="#111">80</text>
<line x1="678" y1="857.5" x2="678" y2="860.5" stroke="#666" stroke-width="1"/>
<text x="678" y="867.6" font-size="5.3" text-anchor="middle" font-weight="bold" font-style="normal" fill="#111">100</text>
<path d="M547 739.9H551.4V742H556.9V744.7H567.8V747.3H610.7V751.3H614.7V754.2H616.5V758.2H618.7V762.3H621.3V765.9H622.7V769.9H624.2V773.9H634.4V779.4H638.8V785.6H639.5V791.5H674" stroke="#333" stroke-width="1.1" fill="none"/>
<path d="M580 745.9v2.4M584 745.9v2.4M588 745.9v2.4M592 745.9v2.4M597 745.9v2.4M601 745.9v2.4M605 745.9v2.4M642 790.5v2.4M646 790.5v2.4M650 790.5v2.4M655 790.5v2.4M659 790.5v2.4M663 790.5v2.4M668 790.5v2.4" stroke="#333" stroke-width="0.8" fill="none"/>
<path d="M547 739.9L564.6 739.9L564.6 741.5L577.7 741.5L577.7 746L582 746L582 753L592 753L592 755.7L597.9 755.7L597.9 762.3L600.1 762.3L600.1 769.2L601.6 769.2L601.6 775.8L604.5 775.8L604.5 783L606 783L606 786.4L609.6 786.4L609.6 791.5L620.2 791.5L620.2 799.1L625.9 799.1L625.9 807.7L634.6 807.7L634.6 823L650 823" stroke="#333" stroke-width="1.1" fill="none" stroke-dasharray="3 2"/>
<text x="653.7" y="768.8" font-size="15.6" text-anchor="middle" font-weight="bold" font-style="normal" fill="#000">CBX5-</text>
<text x="603.9" y="823.6" font-size="15.3" text-anchor="middle" font-weight="bold" font-style="normal" fill="#000">CBX5+</text>
<text x="627.8" y="850.2" font-size="12.5" font-weight="bold" font-style="italic" fill="#000">P=0.003</text>
<text x="607.5" y="879.6" font-size="12.7" text-anchor="middle" font-weight="bold" font-style="normal" fill="#000">Months</text>
<text x="526" y="808" font-size="12.8" text-anchor="middle" font-weight="bold" font-style="normal" fill="#000" transform="rotate(-90 526 808)">% Survival</text>
</g>
</svg></body></html>
